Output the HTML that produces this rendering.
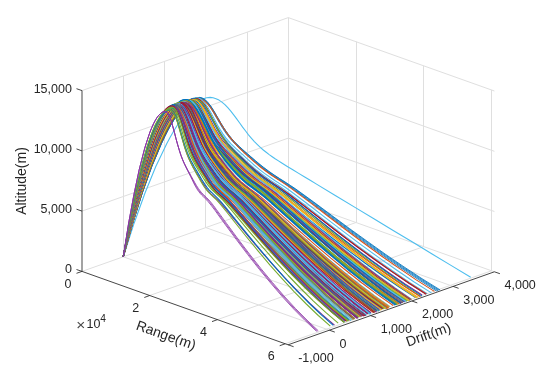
<!DOCTYPE html>
<html><head><meta charset="utf-8"><title>Trajectories</title>
<style>html,body{margin:0;padding:0;background:#fff}svg{display:block}</style></head>
<body>
<svg width="550" height="377" viewBox="0 0 550 377">
<rect width="550" height="377" fill="#fff"/>
<path d="M82.0,271.4 L288.3,198.4 M149.7,295.5 L356.0,222.5 M217.5,319.6 L423.8,246.6 M285.2,343.8 L491.5,270.8 M123.3,256.8 L329.4,330.2 M164.5,242.2 L370.6,315.6 M205.8,227.6 L411.9,301.0 M247.0,213.0 L453.1,286.4 M288.3,198.4 L494.4,271.8 M123.5,256.8 L123.5,76.0 M164.5,242.2 L164.5,61.4 M205.5,227.6 L205.5,46.8 M247.5,213.0 L247.5,32.2 M288.5,198.4 L288.5,17.6 M82.0,211.1 L288.3,138.1 M82.0,150.9 L288.3,77.9 M82.0,90.6 L288.3,17.6 M356.5,222.5 L356.5,41.7 M423.5,246.6 L423.5,65.8 M491.5,270.8 L491.5,90.0 M288.3,138.1 L494.4,211.5 M288.3,77.9 L494.4,151.3 M288.3,17.6 L494.4,91.0" fill="none" stroke="#dfdfdf" stroke-width="1"/>
<path d="M123.3,256.8 L134.1,223.2 L145.0,193.0 L155.8,166.5 L166.7,143.7 L170.3,137.0 L173.9,130.8 L177.5,125.0 L181.2,119.7 L184.8,114.9 L188.4,110.7 L192.0,106.9 L195.6,103.7 L199.3,101.1 L202.9,99.1 L206.5,97.8 L210.1,97.4 L213.1,97.8 L216.0,98.7 L219.0,100.1 L221.9,102.1 L224.9,104.6 L227.8,107.7 L230.8,111.1 L233.7,114.9 L236.7,118.9 L239.7,123.0 L242.6,127.1 L245.6,131.0 L248.5,134.8 L251.5,138.3 L254.4,141.6 L257.4,144.6 L260.3,147.4 L263.3,150.0 L266.2,152.3 L269.2,154.6 L272.2,156.7 L275.1,158.7 L278.1,160.6 L281.0,162.5 L286.9,166.2 L292.8,169.8 L298.7,173.4 L304.7,177.0 L310.6,180.5 L316.5,184.1 L335.7,195.8 L355.0,207.4 L374.3,219.0 L393.6,230.7 L412.9,242.3 L432.1,254.0 L451.4,265.6 L470.7,277.3" fill="none" stroke="#4DBEEE" stroke-width="1.1" stroke-linejoin="round"/>
<path d="M123.3,256.8 L132.8,222.9 L142.4,192.6 L152.0,165.9 L161.6,143.2 L164.7,136.5 L167.9,130.2 L171.1,124.5 L174.3,119.2 L177.5,114.4 L180.7,110.2 L183.9,106.5 L187.1,103.3 L190.3,100.8 L193.5,98.9 L196.7,97.7 L199.9,97.4 L202.5,98.1 L205.2,99.7 L207.8,102.3 L210.5,105.7 L213.2,109.8 L215.8,114.3 L218.5,118.9 L221.1,123.5 L223.8,127.9 L226.5,131.9 L229.1,135.5 L231.8,138.8 L234.4,141.7 L237.1,144.4 L239.8,146.9 L242.4,149.3 L245.1,151.7 L247.7,154.0 L250.4,156.3 L253.1,158.6 L255.7,160.9 L258.4,163.1 L261.0,165.3 L263.7,167.4 L269.0,171.4 L274.4,175.1 L279.7,178.6 L285.0,181.9 L290.3,185.4 L295.6,188.9 L313.7,202.0 L331.7,215.4 L349.8,228.8 L367.9,241.8 L385.9,254.6 L404.0,266.9 L422.0,278.7 L440.1,289.9" fill="none" stroke="#0072BD" stroke-width="0.85" stroke-linejoin="round"/>
<path d="M123.3,256.8 L132.8,223.0 L142.4,192.7 L151.9,166.1 L161.5,143.4 L164.7,136.7 L167.8,130.5 L171.0,124.7 L174.2,119.5 L177.4,114.7 L180.6,110.5 L183.8,106.8 L186.9,103.7 L190.1,101.1 L193.3,99.2 L196.5,98.0 L199.7,97.7 L202.3,98.4 L205.0,100.0 L207.6,102.4 L210.3,105.7 L212.9,109.6 L215.6,114.0 L218.2,118.6 L220.9,123.2 L223.5,127.5 L226.2,131.6 L228.8,135.2 L231.5,138.5 L234.1,141.5 L236.8,144.3 L239.4,146.8 L242.1,149.3 L244.7,151.7 L247.4,154.0 L250.0,156.3 L252.7,158.6 L255.3,160.9 L258.0,163.2 L260.6,165.4 L263.3,167.5 L268.6,171.5 L273.9,175.2 L279.2,178.6 L284.5,182.0 L289.8,185.5 L295.1,189.0 L313.1,202.1 L331.1,215.6 L349.1,229.0 L367.1,242.1 L385.1,254.9 L403.2,267.3 L421.2,279.1 L439.2,290.3" fill="none" stroke="#0072BD" stroke-width="0.85" stroke-linejoin="round"/>
<path d="M123.3,256.8 L132.8,223.0 L142.3,192.7 L151.8,166.1 L161.3,143.4 L164.5,136.7 L167.6,130.5 L170.8,124.7 L174.0,119.5 L177.2,114.7 L180.3,110.5 L183.5,106.8 L186.7,103.6 L189.8,101.1 L193.0,99.2 L196.2,98.0 L199.3,97.7 L202.0,98.4 L204.6,100.0 L207.3,102.5 L209.9,105.8 L212.6,109.8 L215.2,114.3 L217.8,118.9 L220.5,123.5 L223.1,127.9 L225.8,131.9 L228.4,135.6 L231.1,138.9 L233.7,141.8 L236.3,144.6 L239.0,147.1 L241.6,149.6 L244.3,151.9 L246.9,154.3 L249.6,156.6 L252.2,158.9 L254.8,161.2 L257.5,163.5 L260.1,165.7 L262.8,167.8 L268.0,171.8 L273.3,175.5 L278.6,178.9 L283.9,182.3 L289.2,185.8 L294.5,189.4 L312.4,202.5 L330.3,216.0 L348.3,229.4 L366.2,242.5 L384.1,255.3 L402.1,267.6 L420.0,279.4 L438.0,290.7" fill="none" stroke="#0072BD" stroke-width="0.85" stroke-linejoin="round"/>
<path d="M123.3,256.8 L132.7,223.0 L142.1,192.7 L151.6,166.1 L161.0,143.4 L164.1,136.7 L167.3,130.5 L170.4,124.8 L173.6,119.5 L176.7,114.8 L179.8,110.5 L183.0,106.8 L186.1,103.7 L189.3,101.2 L192.4,99.3 L195.6,98.1 L198.7,97.8 L201.3,98.5 L204.0,100.1 L206.6,102.5 L209.2,105.9 L211.9,109.8 L214.5,114.3 L217.1,118.9 L219.8,123.5 L222.4,127.8 L225.0,131.9 L227.7,135.5 L230.3,138.8 L232.9,141.8 L235.6,144.5 L238.2,147.1 L240.8,149.5 L243.5,151.9 L246.1,154.3 L248.7,156.6 L251.4,158.9 L254.0,161.2 L256.6,163.5 L259.3,165.7 L261.9,167.8 L267.2,171.8 L272.4,175.5 L277.7,179.0 L283.0,182.3 L288.2,185.8 L293.5,189.4 L311.4,202.6 L329.3,216.2 L347.2,229.6 L365.1,242.8 L383.0,255.6 L400.9,268.0 L418.8,279.8 L436.7,291.1" fill="none" stroke="#0072BD" stroke-width="0.85" stroke-linejoin="round"/>
<path d="M123.3,256.8 L132.6,223.0 L141.9,192.8 L151.2,166.3 L160.5,143.6 L163.6,136.9 L166.7,130.7 L169.8,125.0 L172.9,119.8 L176.0,115.0 L179.2,110.8 L182.3,107.1 L185.4,104.0 L188.5,101.5 L191.6,99.6 L194.7,98.4 L197.8,98.1 L200.4,98.7 L203.0,100.0 L205.7,102.0 L208.3,104.7 L210.9,108.0 L213.5,111.9 L216.1,116.1 L218.8,120.4 L221.4,124.7 L224.0,128.8 L226.6,132.7 L229.3,136.3 L231.9,139.7 L234.5,142.7 L237.1,145.6 L239.7,148.3 L242.4,150.9 L245.0,153.4 L247.6,155.8 L250.2,158.2 L252.9,160.6 L255.5,162.9 L258.1,165.1 L260.7,167.2 L266.0,171.3 L271.2,175.0 L276.5,178.5 L281.7,181.9 L287.0,185.4 L292.2,189.1 L310.0,202.4 L327.8,216.0 L345.5,229.5 L363.3,242.8 L381.1,255.7 L398.9,268.1 L416.6,280.1 L434.4,291.4" fill="none" stroke="#D95319" stroke-width="1.1" stroke-linejoin="round"/>
<path d="M123.3,256.8 L132.5,222.9 L141.7,192.6 L151.0,166.0 L160.2,143.2 L163.3,136.6 L166.4,130.3 L169.4,124.6 L172.5,119.3 L175.6,114.6 L178.7,110.4 L181.8,106.7 L184.8,103.5 L187.9,101.0 L191.0,99.1 L194.1,98.0 L197.2,97.7 L199.7,98.5 L202.3,100.3 L204.9,103.1 L207.5,106.8 L210.1,111.3 L212.7,116.1 L215.3,121.0 L217.9,125.7 L220.5,130.1 L223.1,134.1 L225.6,137.6 L228.2,140.7 L230.8,143.6 L233.4,146.2 L236.0,148.7 L238.6,151.0 L241.2,153.4 L243.8,155.7 L246.4,158.1 L248.9,160.4 L251.5,162.7 L254.1,165.0 L256.7,167.2 L259.3,169.4 L264.5,173.4 L269.7,177.0 L274.8,180.5 L280.0,183.9 L285.2,187.3 L290.4,191.0 L308.0,204.3 L325.6,217.9 L343.3,231.4 L360.9,244.6 L378.5,257.4 L396.2,269.8 L413.8,281.7 L431.4,292.9" fill="none" stroke="#4DBEEE" stroke-width="1.1" stroke-linejoin="round"/>
<path d="M123.3,256.8 L132.3,223.2 L141.3,193.2 L150.3,166.9 L159.3,144.3 L162.3,137.7 L165.3,131.6 L168.3,125.9 L171.3,120.7 L174.3,116.0 L177.3,111.8 L180.3,108.2 L183.3,105.1 L186.3,102.6 L189.3,100.7 L192.3,99.6 L195.3,99.3 L197.8,100.0 L200.4,101.5 L203.0,103.9 L205.5,107.1 L208.1,111.0 L210.7,115.3 L213.2,119.9 L215.8,124.5 L218.4,128.9 L220.9,133.1 L223.5,136.9 L226.1,140.3 L228.6,143.5 L231.2,146.4 L233.8,149.1 L236.3,151.6 L238.9,154.1 L241.4,156.5 L244.0,158.9 L246.6,161.3 L249.1,163.7 L251.7,165.9 L254.3,168.2 L256.8,170.3 L262.0,174.3 L267.1,177.9 L272.2,181.4 L277.4,184.8 L282.5,188.2 L287.6,191.9 L305.1,205.3 L322.6,218.9 L340.0,232.4 L357.5,245.6 L374.9,258.4 L392.4,270.8 L409.9,282.6 L427.3,293.8" fill="none" stroke="#4DBEEE" stroke-width="1.1" stroke-linejoin="round"/>
<path d="M123.3,256.8 L132.3,223.1 L141.4,192.9 L150.5,166.4 L159.6,143.8 L162.6,137.2 L165.7,131.0 L168.7,125.3 L171.7,120.0 L174.7,115.3 L177.8,111.1 L180.8,107.4 L183.8,104.3 L186.9,101.8 L189.9,100.0 L192.9,98.8 L196.0,98.6 L198.5,99.3 L201.1,101.1 L203.6,103.8 L206.2,107.5 L208.8,111.9 L211.3,116.7 L213.9,121.6 L216.4,126.5 L219.0,131.2 L221.6,135.5 L224.1,139.3 L226.7,142.8 L229.2,145.9 L231.8,148.7 L234.4,151.4 L236.9,153.9 L239.5,156.3 L242.0,158.7 L244.6,161.1 L247.2,163.5 L249.7,165.8 L252.3,168.1 L254.8,170.3 L257.4,172.4 L262.5,176.4 L267.6,180.0 L272.8,183.4 L277.9,186.7 L283.0,190.2 L288.1,193.8 L305.4,207.0 L322.7,220.4 L340.0,233.7 L357.3,246.6 L374.6,259.2 L391.9,271.4 L409.2,283.0 L426.5,293.9" fill="none" stroke="#D95319" stroke-width="1.1" stroke-linejoin="round"/>
<path d="M123.3,256.8 L132.5,223.1 L141.7,193.0 L150.9,166.6 L160.1,144.0 L163.1,137.4 L166.2,131.2 L169.3,125.5 L172.4,120.3 L175.4,115.6 L178.5,111.4 L181.6,107.7 L184.6,104.6 L187.7,102.1 L190.8,100.3 L193.8,99.2 L196.9,98.9 L199.5,99.7 L202.0,101.6 L204.6,104.6 L207.1,108.5 L209.7,113.2 L212.2,118.2 L214.8,123.3 L217.3,128.2 L219.9,132.7 L222.4,136.9 L225.0,140.5 L227.6,143.8 L230.1,146.7 L232.7,149.3 L235.2,151.9 L237.8,154.3 L240.3,156.7 L242.9,159.0 L245.4,161.4 L248.0,163.8 L250.5,166.1 L253.1,168.4 L255.7,170.6 L258.2,172.7 L263.3,176.7 L268.4,180.3 L273.5,183.8 L278.7,187.1 L283.8,190.6 L288.9,194.3 L306.0,207.4 L323.2,220.8 L340.3,234.0 L357.4,247.0 L374.6,259.5 L391.7,271.6 L408.8,283.2 L426.0,294.2" fill="none" stroke="#A2142F" stroke-width="1.1" stroke-linejoin="round"/>
<path d="M123.3,256.8 L132.2,223.2 L141.1,193.1 L150.0,166.7 L158.9,144.1 L161.9,137.5 L164.9,131.3 L167.8,125.6 L170.8,120.4 L173.8,115.7 L176.8,111.5 L179.7,107.9 L182.7,104.8 L185.7,102.3 L188.6,100.4 L191.6,99.3 L194.6,99.0 L197.1,99.9 L199.7,101.8 L202.2,104.8 L204.7,108.8 L207.2,113.4 L209.8,118.4 L212.3,123.4 L214.8,128.2 L217.4,132.6 L219.9,136.6 L222.4,140.1 L225.0,143.2 L227.5,146.0 L230.0,148.6 L232.6,151.1 L235.1,153.5 L237.6,155.9 L240.1,158.2 L242.7,160.6 L245.2,163.0 L247.7,165.4 L250.3,167.7 L252.8,169.9 L255.3,172.1 L260.4,176.1 L265.4,179.7 L270.5,183.1 L275.6,186.6 L280.6,190.1 L285.7,193.8 L302.7,207.2 L319.8,220.8 L336.8,234.2 L353.9,247.3 L370.9,260.0 L388.0,272.3 L405.0,284.0 L422.1,295.0" fill="none" stroke="#7E2F8E" stroke-width="1.1" stroke-linejoin="round"/>
<path d="M123.3,256.8 L132.2,223.1 L141.1,193.0 L150.1,166.5 L159.0,143.9 L162.0,137.3 L164.9,131.1 L167.9,125.4 L170.9,120.2 L173.9,115.5 L176.9,111.3 L179.8,107.7 L182.8,104.6 L185.8,102.1 L188.8,100.3 L191.7,99.1 L194.7,98.9 L197.2,99.6 L199.7,101.2 L202.3,103.7 L204.8,107.0 L207.3,111.1 L209.8,115.5 L212.3,120.2 L214.8,124.9 L217.3,129.4 L219.8,133.6 L222.4,137.4 L224.9,140.8 L227.4,143.9 L229.9,146.8 L232.4,149.5 L234.9,152.1 L237.4,154.6 L239.9,157.0 L242.4,159.5 L245.0,161.9 L247.5,164.3 L250.0,166.6 L252.5,168.9 L255.0,171.0 L260.0,175.1 L265.1,178.7 L270.1,182.2 L275.1,185.6 L280.1,189.2 L285.1,192.9 L302.3,206.6 L319.4,220.4 L336.5,234.1 L353.6,247.5 L370.7,260.4 L387.8,272.9 L404.9,284.9 L422.0,296.1" fill="none" stroke="#0072BD" stroke-width="1.1" stroke-linejoin="round"/>
<path d="M123.3,256.8 L132.3,223.2 L141.4,193.1 L150.5,166.8 L159.6,144.2 L162.6,137.6 L165.6,131.5 L168.7,125.8 L171.7,120.6 L174.7,115.9 L177.8,111.7 L180.8,108.1 L183.8,105.0 L186.8,102.6 L189.9,100.7 L192.9,99.6 L195.9,99.4 L198.4,100.1 L200.9,101.7 L203.4,104.2 L206.0,107.5 L208.5,111.5 L211.0,116.0 L213.5,120.8 L216.0,125.7 L218.5,130.4 L221.0,134.8 L223.5,138.9 L226.0,142.7 L228.5,146.1 L231.0,149.2 L233.6,152.1 L236.1,154.8 L238.6,157.4 L241.1,160.0 L243.6,162.5 L246.1,164.9 L248.6,167.3 L251.1,169.6 L253.6,171.9 L256.1,174.1 L261.1,178.1 L266.2,181.7 L271.2,185.1 L276.2,188.5 L281.2,192.1 L286.2,195.8 L303.0,209.1 L319.7,222.5 L336.5,235.8 L353.2,248.8 L370.0,261.4 L386.7,273.5 L403.5,285.1 L420.2,296.1" fill="none" stroke="#77AC30" stroke-width="1.1" stroke-linejoin="round"/>
<path d="M123.3,256.8 L132.0,223.3 L140.8,193.4 L149.5,167.1 L158.3,144.6 L161.2,138.0 L164.1,131.9 L167.0,126.2 L169.9,121.1 L172.8,116.4 L175.8,112.2 L178.7,108.6 L181.6,105.5 L184.5,103.1 L187.4,101.3 L190.3,100.1 L193.3,99.9 L195.7,100.6 L198.2,102.3 L200.7,104.9 L203.2,108.3 L205.7,112.5 L208.2,117.1 L210.7,122.0 L213.2,126.9 L215.7,131.6 L218.2,136.0 L220.7,140.0 L223.2,143.7 L225.7,147.0 L228.2,150.0 L230.7,152.8 L233.2,155.5 L235.7,158.0 L238.2,160.5 L240.7,163.0 L243.2,165.4 L245.7,167.7 L248.2,170.0 L250.7,172.2 L253.2,174.3 L258.2,178.2 L263.2,181.8 L268.2,185.1 L273.2,188.4 L278.2,191.9 L283.2,195.5 L300.4,208.9 L317.5,222.6 L334.7,236.0 L351.9,249.1 L369.0,261.8 L386.2,274.0 L403.4,285.7 L420.5,296.7" fill="none" stroke="#D95319" stroke-width="1.1" stroke-linejoin="round"/>
<path d="M123.3,256.8 L132.1,223.3 L140.9,193.3 L149.7,167.1 L158.6,144.6 L161.5,138.0 L164.4,131.9 L167.4,126.2 L170.3,121.1 L173.3,116.4 L176.2,112.2 L179.2,108.6 L182.1,105.6 L185.0,103.1 L188.0,101.3 L190.9,100.2 L193.9,100.0 L196.3,100.8 L198.8,102.7 L201.3,105.7 L203.8,109.6 L206.3,114.2 L208.7,119.2 L211.2,124.3 L213.7,129.3 L216.2,133.9 L218.7,138.0 L221.1,141.8 L223.6,145.1 L226.1,148.0 L228.6,150.8 L231.1,153.3 L233.5,155.8 L236.0,158.2 L238.5,160.7 L241.0,163.1 L243.5,165.5 L245.9,167.8 L248.4,170.1 L250.9,172.4 L253.4,174.5 L258.3,178.4 L263.3,182.0 L268.2,185.4 L273.2,188.7 L278.2,192.3 L283.1,196.0 L300.0,209.5 L316.9,223.2 L333.8,236.6 L350.8,249.8 L367.7,262.6 L384.6,274.8 L401.5,286.5 L418.4,297.5" fill="none" stroke="#EDB120" stroke-width="1.1" stroke-linejoin="round"/>
<path d="M123.3,256.8 L131.9,223.2 L140.6,193.2 L149.3,166.9 L157.9,144.4 L160.8,137.8 L163.7,131.6 L166.6,126.0 L169.5,120.8 L172.4,116.1 L175.3,111.9 L178.2,108.3 L181.1,105.2 L184.0,102.8 L186.8,100.9 L189.7,99.8 L192.6,99.6 L195.1,100.4 L197.6,102.2 L200.1,105.0 L202.6,108.8 L205.0,113.2 L207.5,118.1 L210.0,123.1 L212.5,128.0 L215.0,132.5 L217.4,136.6 L219.9,140.4 L222.4,143.7 L224.9,146.7 L227.4,149.4 L229.9,152.0 L232.3,154.5 L234.8,157.0 L237.3,159.5 L239.8,161.9 L242.3,164.3 L244.8,166.7 L247.2,169.1 L249.7,171.3 L252.2,173.5 L257.2,177.5 L262.1,181.1 L267.1,184.5 L272.1,187.9 L277.0,191.5 L282.0,195.3 L298.7,208.8 L315.5,222.5 L332.2,236.0 L348.9,249.2 L365.7,261.9 L382.4,274.2 L399.2,285.9 L415.9,297.0" fill="none" stroke="#EDB120" stroke-width="1.1" stroke-linejoin="round"/>
<path d="M123.3,256.8 L131.9,223.2 L140.6,193.1 L149.2,166.7 L157.9,144.2 L160.8,137.6 L163.7,131.5 L166.6,125.8 L169.5,120.6 L172.4,115.9 L175.2,111.7 L178.1,108.1 L181.0,105.0 L183.9,102.6 L186.8,100.7 L189.7,99.6 L192.6,99.4 L195.0,100.3 L197.5,102.5 L200.0,106.0 L202.5,110.5 L204.9,115.6 L207.4,121.1 L209.9,126.6 L212.3,131.7 L214.8,136.4 L217.3,140.6 L219.8,144.2 L222.2,147.4 L224.7,150.3 L227.2,152.9 L229.6,155.4 L232.1,157.8 L234.6,160.2 L237.1,162.6 L239.5,165.0 L242.0,167.3 L244.5,169.7 L247.0,172.0 L249.4,174.2 L251.9,176.3 L256.8,180.2 L261.8,183.7 L266.7,187.1 L271.7,190.4 L276.6,193.9 L281.6,197.6 L298.3,210.9 L315.1,224.4 L331.8,237.7 L348.5,250.6 L365.3,263.2 L382.0,275.2 L398.8,286.7 L415.5,297.5" fill="none" stroke="#0072BD" stroke-width="1.1" stroke-linejoin="round"/>
<path d="M123.3,256.8 L132.1,223.2 L140.9,193.1 L149.7,166.8 L158.6,144.2 L161.5,137.6 L164.4,131.5 L167.4,125.8 L170.3,120.6 L173.3,115.9 L176.2,111.8 L179.1,108.2 L182.1,105.1 L185.0,102.6 L188.0,100.8 L190.9,99.7 L193.8,99.5 L196.3,100.3 L198.8,102.1 L201.2,104.9 L203.7,108.6 L206.2,112.9 L208.6,117.7 L211.1,122.7 L213.6,127.5 L216.0,131.9 L218.5,136.0 L221.0,139.7 L223.4,143.0 L225.9,145.9 L228.4,148.6 L230.8,151.2 L233.3,153.7 L235.8,156.2 L238.2,158.7 L240.7,161.1 L243.2,163.6 L245.6,166.0 L248.1,168.3 L250.6,170.6 L253.0,172.7 L258.0,176.8 L262.9,180.4 L267.8,183.8 L272.8,187.3 L277.7,190.9 L282.6,194.7 L299.4,208.4 L316.2,222.4 L333.0,236.1 L349.8,249.4 L366.5,262.4 L383.3,274.9 L400.1,286.8 L416.9,298.0" fill="none" stroke="#EDB120" stroke-width="1.1" stroke-linejoin="round"/>
<path d="M123.3,256.8 L131.6,223.2 L140.0,193.2 L148.4,166.8 L156.8,144.3 L159.6,137.7 L162.4,131.6 L165.2,125.9 L168.0,120.7 L170.8,116.1 L173.6,111.9 L176.4,108.3 L179.2,105.2 L182.0,102.8 L184.8,100.9 L187.6,99.8 L190.4,99.6 L192.8,100.3 L195.2,101.8 L197.7,104.2 L200.1,107.3 L202.5,111.1 L205.0,115.5 L207.4,120.0 L209.8,124.6 L212.3,129.0 L214.7,133.2 L217.2,137.0 L219.6,140.5 L222.0,143.7 L224.5,146.6 L226.9,149.4 L229.3,152.0 L231.8,154.6 L234.2,157.2 L236.6,159.7 L239.1,162.2 L241.5,164.7 L243.9,167.0 L246.4,169.3 L248.8,171.5 L253.7,175.6 L258.5,179.2 L263.4,182.7 L268.3,186.2 L273.1,189.9 L278.0,193.7 L294.7,207.8 L311.4,222.0 L328.1,236.0 L344.8,249.7 L361.5,262.9 L378.2,275.6 L394.9,287.8 L411.5,299.2" fill="none" stroke="#4DBEEE" stroke-width="1.1" stroke-linejoin="round"/>
<path d="M123.3,256.8 L131.6,223.3 L140.0,193.3 L148.4,167.0 L156.8,144.5 L159.5,137.9 L162.3,131.8 L165.1,126.1 L167.9,120.9 L170.7,116.3 L173.5,112.1 L176.3,108.5 L179.1,105.5 L181.9,103.0 L184.7,101.2 L187.5,100.1 L190.2,99.9 L192.7,100.8 L195.1,102.8 L197.5,106.1 L200.0,110.3 L202.4,115.1 L204.8,120.2 L207.2,125.3 L209.7,130.1 L212.1,134.4 L214.5,138.3 L216.9,141.6 L219.4,144.6 L221.8,147.3 L224.2,149.8 L226.7,152.3 L229.1,154.7 L231.5,157.1 L233.9,159.6 L236.4,162.0 L238.8,164.4 L241.2,166.8 L243.6,169.2 L246.1,171.4 L248.5,173.6 L253.4,177.5 L258.2,181.1 L263.1,184.5 L267.9,188.0 L272.8,191.6 L277.6,195.4 L294.4,209.3 L311.1,223.4 L327.9,237.3 L344.6,250.8 L361.4,263.8 L378.1,276.4 L394.9,288.4 L411.6,299.6" fill="none" stroke="#EDB120" stroke-width="1.1" stroke-linejoin="round"/>
<path d="M123.3,256.8 L131.7,223.4 L140.2,193.6 L148.6,167.4 L157.1,145.1 L159.9,138.5 L162.7,132.4 L165.5,126.8 L168.3,121.7 L171.1,117.0 L174.0,112.9 L176.8,109.3 L179.6,106.3 L182.4,103.8 L185.2,102.0 L188.1,100.9 L190.9,100.7 L193.3,101.5 L195.7,103.2 L198.2,106.0 L200.6,109.6 L203.0,113.9 L205.4,118.6 L207.9,123.4 L210.3,128.1 L212.7,132.5 L215.1,136.5 L217.6,140.2 L220.0,143.4 L222.4,146.3 L224.8,149.1 L227.3,151.7 L229.7,154.2 L232.1,156.7 L234.6,159.1 L237.0,161.6 L239.4,164.1 L241.8,166.5 L244.3,168.9 L246.7,171.2 L249.1,173.3 L254.0,177.3 L258.8,180.9 L263.7,184.4 L268.5,187.8 L273.4,191.5 L278.2,195.3 L294.9,209.3 L311.5,223.3 L328.1,237.2 L344.7,250.7 L361.3,263.8 L378.0,276.3 L394.6,288.3 L411.2,299.6" fill="none" stroke="#7E2F8E" stroke-width="1.1" stroke-linejoin="round"/>
<path d="M123.3,256.8 L131.7,223.2 L140.2,193.1 L148.6,166.7 L157.1,144.2 L159.9,137.6 L162.7,131.5 L165.5,125.8 L168.3,120.6 L171.2,116.0 L174.0,111.8 L176.8,108.2 L179.6,105.1 L182.4,102.7 L185.3,100.8 L188.1,99.7 L190.9,99.5 L193.3,100.4 L195.7,102.5 L198.2,105.6 L200.6,109.7 L203.0,114.6 L205.4,119.8 L207.8,125.0 L210.3,130.0 L212.7,134.6 L215.1,138.8 L217.5,142.4 L220.0,145.7 L222.4,148.6 L224.8,151.3 L227.2,153.9 L229.6,156.4 L232.1,158.8 L234.5,161.3 L236.9,163.8 L239.3,166.2 L241.8,168.6 L244.2,171.0 L246.6,173.2 L249.0,175.4 L253.9,179.3 L258.7,182.9 L263.6,186.3 L268.4,189.7 L273.3,193.3 L278.1,197.1 L294.6,210.9 L311.1,224.7 L327.6,238.3 L344.1,251.6 L360.6,264.5 L377.1,276.9 L393.6,288.6 L410.1,299.7" fill="none" stroke="#D95319" stroke-width="1.1" stroke-linejoin="round"/>
<path d="M123.3,256.8 L131.6,223.3 L140.0,193.3 L148.4,167.0 L156.8,144.6 L159.6,138.0 L162.4,131.8 L165.2,126.2 L168.0,121.0 L170.8,116.4 L173.6,112.2 L176.4,108.6 L179.2,105.6 L182.0,103.1 L184.8,101.3 L187.6,100.2 L190.4,100.0 L192.8,100.8 L195.2,102.5 L197.6,105.2 L200.0,108.8 L202.5,113.1 L204.9,117.9 L207.3,122.8 L209.7,127.8 L212.1,132.5 L214.5,136.9 L217.0,140.9 L219.4,144.4 L221.8,147.7 L224.2,150.7 L226.6,153.4 L229.1,156.1 L231.5,158.7 L233.9,161.2 L236.3,163.7 L238.7,166.2 L241.2,168.6 L243.6,171.0 L246.0,173.2 L248.4,175.4 L253.3,179.3 L258.1,182.9 L262.9,186.2 L267.8,189.7 L272.6,193.3 L277.5,197.1 L294.0,210.9 L310.5,224.8 L327.0,238.4 L343.5,251.7 L360.0,264.6 L376.5,276.9 L393.0,288.7 L409.6,299.8" fill="none" stroke="#A2142F" stroke-width="1.1" stroke-linejoin="round"/>
<path d="M123.3,256.8 L131.7,223.5 L140.1,193.8 L148.6,167.7 L157.0,145.4 L159.8,138.8 L162.6,132.8 L165.4,127.2 L168.2,122.0 L171.0,117.4 L173.8,113.3 L176.7,109.7 L179.5,106.7 L182.3,104.3 L185.1,102.5 L187.9,101.4 L190.7,101.2 L193.1,102.1 L195.5,104.0 L197.9,106.9 L200.4,110.8 L202.8,115.3 L205.2,120.3 L207.6,125.4 L210.0,130.4 L212.4,135.1 L214.8,139.4 L217.2,143.2 L219.6,146.6 L222.0,149.7 L224.5,152.5 L226.9,155.2 L229.3,157.7 L231.7,160.2 L234.1,162.7 L236.5,165.2 L238.9,167.6 L241.3,170.0 L243.7,172.3 L246.1,174.6 L248.6,176.7 L253.4,180.6 L258.2,184.1 L263.0,187.4 L267.8,190.8 L272.7,194.4 L277.5,198.2 L294.0,211.9 L310.6,225.7 L327.2,239.3 L343.7,252.6 L360.3,265.4 L376.8,277.7 L393.4,289.4 L410.0,300.4" fill="none" stroke="#0072BD" stroke-width="1.1" stroke-linejoin="round"/>
<path d="M123.3,256.8 L131.5,223.5 L139.8,193.8 L148.0,167.7 L156.3,145.4 L159.0,138.9 L161.8,132.8 L164.5,127.2 L167.3,122.0 L170.0,117.4 L172.8,113.3 L175.5,109.7 L178.3,106.7 L181.0,104.3 L183.8,102.5 L186.5,101.4 L189.3,101.2 L191.7,102.0 L194.1,103.7 L196.5,106.3 L198.9,109.9 L201.3,114.1 L203.7,118.7 L206.1,123.6 L208.5,128.4 L211.0,132.9 L213.4,137.1 L215.8,140.9 L218.2,144.4 L220.6,147.5 L223.0,150.3 L225.4,153.0 L227.8,155.6 L230.2,158.1 L232.6,160.6 L235.0,163.1 L237.4,165.6 L239.8,168.0 L242.2,170.3 L244.7,172.6 L247.1,174.7 L251.9,178.6 L256.7,182.2 L261.5,185.5 L266.3,188.9 L271.1,192.5 L276.0,196.4 L292.7,210.3 L309.4,224.4 L326.1,238.3 L342.8,251.8 L359.5,264.8 L376.2,277.4 L392.9,289.3 L409.6,300.5" fill="none" stroke="#EDB120" stroke-width="1.1" stroke-linejoin="round"/>
<path d="M123.3,256.8 L131.5,223.5 L139.7,193.8 L147.9,167.6 L156.2,145.4 L158.9,138.8 L161.7,132.7 L164.4,127.1 L167.1,122.0 L169.9,117.4 L172.6,113.3 L175.4,109.7 L178.1,106.7 L180.9,104.2 L183.6,102.4 L186.3,101.4 L189.1,101.1 L191.5,101.9 L193.9,103.5 L196.3,106.1 L198.7,109.4 L201.1,113.5 L203.5,118.0 L205.9,122.7 L208.3,127.4 L210.7,132.0 L213.1,136.2 L215.5,140.1 L217.9,143.6 L220.3,146.8 L222.7,149.7 L225.1,152.5 L227.5,155.1 L229.9,157.7 L232.3,160.2 L234.7,162.8 L237.1,165.2 L239.5,167.7 L241.9,170.0 L244.3,172.3 L246.7,174.4 L251.5,178.3 L256.3,181.9 L261.1,185.2 L265.9,188.7 L270.7,192.3 L275.5,196.1 L292.2,210.2 L308.9,224.4 L325.6,238.3 L342.3,251.9 L359.0,265.0 L375.7,277.6 L392.4,289.6 L409.1,300.9" fill="none" stroke="#EDB120" stroke-width="1.1" stroke-linejoin="round"/>
<path d="M123.3,256.8 L131.7,223.3 L140.0,193.3 L148.4,167.0 L156.8,144.6 L159.6,138.0 L162.4,131.9 L165.2,126.2 L168.0,121.1 L170.8,116.4 L173.6,112.3 L176.4,108.7 L179.2,105.6 L182.0,103.2 L184.8,101.4 L187.6,100.3 L190.4,100.1 L192.8,100.9 L195.2,102.8 L197.6,105.8 L200.0,109.6 L202.4,114.2 L204.8,119.2 L207.2,124.4 L209.6,129.5 L211.9,134.3 L214.3,138.8 L216.7,142.7 L219.1,146.3 L221.5,149.5 L223.9,152.4 L226.3,155.2 L228.7,157.8 L231.1,160.4 L233.5,162.9 L235.9,165.4 L238.3,167.8 L240.7,170.3 L243.1,172.6 L245.5,174.9 L247.9,177.0 L252.7,180.9 L257.5,184.4 L262.3,187.8 L267.1,191.2 L271.9,194.8 L276.6,198.6 L293.0,212.4 L309.4,226.2 L325.8,239.8 L342.1,253.1 L358.5,265.9 L374.9,278.2 L391.3,289.9 L407.6,300.9" fill="none" stroke="#77AC30" stroke-width="1.1" stroke-linejoin="round"/>
<path d="M123.3,256.8 L131.6,223.3 L140.0,193.3 L148.4,167.0 L156.8,144.5 L159.6,137.9 L162.4,131.8 L165.2,126.2 L168.0,121.0 L170.8,116.3 L173.6,112.2 L176.4,108.6 L179.2,105.6 L182.0,103.1 L184.8,101.3 L187.6,100.3 L190.4,100.0 L192.7,100.9 L195.1,102.9 L197.5,106.0 L199.9,110.0 L202.3,114.8 L204.7,120.0 L207.1,125.3 L209.5,130.4 L211.9,135.3 L214.2,139.7 L216.6,143.6 L219.0,147.1 L221.4,150.3 L223.8,153.2 L226.2,155.9 L228.6,158.4 L231.0,161.0 L233.4,163.5 L235.8,166.0 L238.1,168.4 L240.5,170.8 L242.9,173.2 L245.3,175.4 L247.7,177.6 L252.5,181.5 L257.3,185.0 L262.0,188.3 L266.8,191.7 L271.6,195.3 L276.4,199.1 L292.7,212.9 L309.0,226.7 L325.3,240.3 L341.7,253.5 L358.0,266.3 L374.3,278.6 L390.6,290.2 L406.9,301.2" fill="none" stroke="#77AC30" stroke-width="1.1" stroke-linejoin="round"/>
<path d="M123.3,256.8 L131.3,223.3 L139.4,193.3 L147.4,167.0 L155.5,144.6 L158.1,138.0 L160.8,131.8 L163.5,126.2 L166.2,121.0 L168.9,116.4 L171.6,112.2 L174.2,108.6 L176.9,105.6 L179.6,103.1 L182.3,101.3 L185.0,100.2 L187.7,100.0 L190.0,100.7 L192.4,102.3 L194.8,104.6 L197.2,107.7 L199.6,111.6 L202.0,115.9 L204.4,120.5 L206.7,125.3 L209.1,130.0 L211.5,134.4 L213.9,138.6 L216.3,142.4 L218.7,146.0 L221.0,149.2 L223.4,152.2 L225.8,155.1 L228.2,157.8 L230.6,160.5 L233.0,163.1 L235.4,165.6 L237.7,168.1 L240.1,170.4 L242.5,172.7 L244.9,174.8 L249.7,178.8 L254.4,182.3 L259.2,185.7 L264.0,189.1 L268.7,192.8 L273.5,196.6 L290.1,210.7 L306.7,224.9 L323.2,238.8 L339.8,252.4 L356.4,265.5 L373.0,278.1 L389.5,290.1 L406.1,301.4" fill="none" stroke="#4DBEEE" stroke-width="1.1" stroke-linejoin="round"/>
<path d="M123.3,256.8 L131.4,223.3 L139.5,193.4 L147.7,167.2 L155.8,144.8 L158.5,138.2 L161.2,132.1 L163.9,126.4 L166.6,121.3 L169.3,116.6 L172.1,112.5 L174.8,108.9 L177.5,105.9 L180.2,103.4 L182.9,101.6 L185.6,100.6 L188.3,100.3 L190.7,101.1 L193.1,102.7 L195.5,105.1 L197.8,108.4 L200.2,112.4 L202.6,116.8 L205.0,121.6 L207.3,126.4 L209.7,131.1 L212.1,135.6 L214.5,139.8 L216.8,143.6 L219.2,147.1 L221.6,150.3 L224.0,153.3 L226.4,156.1 L228.7,158.8 L231.1,161.5 L233.5,164.1 L235.9,166.6 L238.2,169.0 L240.6,171.4 L243.0,173.7 L245.4,175.8 L250.1,179.7 L254.9,183.3 L259.6,186.6 L264.4,190.1 L269.1,193.7 L273.9,197.5 L290.4,211.6 L306.8,225.7 L323.3,239.6 L339.8,253.1 L356.2,266.1 L372.7,278.6 L389.2,290.5 L405.6,301.7" fill="none" stroke="#4DBEEE" stroke-width="1.1" stroke-linejoin="round"/>
<path d="M123.3,256.8 L131.3,223.3 L139.4,193.3 L147.5,167.0 L155.5,144.6 L158.2,138.0 L160.9,131.8 L163.6,126.2 L166.3,121.0 L169.0,116.4 L171.7,112.2 L174.4,108.6 L177.1,105.6 L179.7,103.1 L182.4,101.3 L185.1,100.3 L187.8,100.1 L190.2,100.8 L192.6,102.4 L194.9,104.9 L197.3,108.2 L199.7,112.2 L202.0,116.7 L204.4,121.5 L206.8,126.3 L209.2,131.0 L211.5,135.5 L213.9,139.7 L216.3,143.5 L218.6,147.0 L221.0,150.2 L223.4,153.1 L225.8,156.0 L228.1,158.7 L230.5,161.3 L232.9,163.9 L235.2,166.4 L237.6,168.9 L240.0,171.3 L242.3,173.5 L244.7,175.7 L249.5,179.6 L254.2,183.1 L258.9,186.5 L263.7,189.9 L268.4,193.6 L273.2,197.4 L289.6,211.5 L306.0,225.7 L322.5,239.6 L338.9,253.1 L355.4,266.2 L371.8,278.8 L388.2,290.7 L404.7,301.9" fill="none" stroke="#4DBEEE" stroke-width="1.1" stroke-linejoin="round"/>
<path d="M123.3,256.8 L131.5,223.4 L139.8,193.6 L148.1,167.5 L156.3,145.2 L159.1,138.6 L161.8,132.5 L164.6,126.9 L167.3,121.8 L170.1,117.2 L172.9,113.1 L175.6,109.5 L178.4,106.5 L181.1,104.0 L183.9,102.3 L186.6,101.2 L189.4,101.0 L191.8,101.8 L194.1,103.4 L196.5,105.9 L198.9,109.3 L201.2,113.3 L203.6,117.9 L206.0,122.8 L208.4,127.8 L210.7,132.7 L213.1,137.3 L215.5,141.6 L217.8,145.6 L220.2,149.2 L222.6,152.6 L224.9,155.6 L227.3,158.5 L229.7,161.3 L232.1,164.0 L234.4,166.6 L236.8,169.1 L239.2,171.6 L241.5,174.0 L243.9,176.2 L246.3,178.4 L251.0,182.2 L255.8,185.7 L260.5,189.0 L265.2,192.5 L270.0,196.1 L274.7,199.9 L291.0,213.7 L307.2,227.5 L323.4,241.1 L339.7,254.4 L355.9,267.1 L372.2,279.4 L388.4,291.1 L404.6,302.0" fill="none" stroke="#7E2F8E" stroke-width="1.1" stroke-linejoin="round"/>
<path d="M123.3,256.8 L131.5,223.4 L139.8,193.6 L148.0,167.4 L156.3,145.1 L159.1,138.5 L161.8,132.4 L164.6,126.8 L167.3,121.7 L170.1,117.1 L172.8,112.9 L175.6,109.4 L178.3,106.3 L181.1,103.9 L183.8,102.1 L186.6,101.1 L189.3,100.9 L191.7,101.6 L194.1,103.2 L196.5,105.6 L198.8,108.8 L201.2,112.7 L203.6,117.1 L205.9,121.8 L208.3,126.5 L210.7,131.1 L213.1,135.5 L215.4,139.6 L217.8,143.3 L220.2,146.7 L222.6,149.8 L224.9,152.7 L227.3,155.5 L229.7,158.2 L232.1,160.8 L234.4,163.4 L236.8,166.0 L239.2,168.5 L241.5,170.9 L243.9,173.2 L246.3,175.4 L251.0,179.4 L255.8,183.0 L260.5,186.4 L265.3,189.9 L270.0,193.7 L274.8,197.6 L290.9,211.6 L307.0,225.7 L323.1,239.5 L339.2,253.0 L355.3,266.0 L371.4,278.5 L387.5,290.5 L403.6,301.7" fill="none" stroke="#0072BD" stroke-width="1.1" stroke-linejoin="round"/>
<path d="M123.3,256.8 L131.5,223.4 L139.7,193.6 L147.9,167.5 L156.1,145.1 L158.9,138.6 L161.6,132.5 L164.4,126.9 L167.1,121.8 L169.9,117.1 L172.6,113.0 L175.3,109.4 L178.1,106.4 L180.8,104.0 L183.6,102.2 L186.3,101.2 L189.0,101.0 L191.4,101.7 L193.8,103.2 L196.1,105.5 L198.5,108.7 L200.9,112.5 L203.2,116.8 L205.6,121.5 L208.0,126.2 L210.3,130.8 L212.7,135.2 L215.1,139.4 L217.4,143.1 L219.8,146.6 L222.2,149.8 L224.5,152.8 L226.9,155.6 L229.3,158.4 L231.6,161.0 L234.0,163.7 L236.4,166.2 L238.7,168.7 L241.1,171.1 L243.5,173.5 L245.8,175.6 L250.6,179.6 L255.3,183.2 L260.0,186.6 L264.8,190.2 L269.5,193.9 L274.2,197.8 L290.3,211.9 L306.4,226.0 L322.4,239.8 L338.5,253.3 L354.5,266.3 L370.6,278.8 L386.7,290.7 L402.7,301.9" fill="none" stroke="#0072BD" stroke-width="1.1" stroke-linejoin="round"/>
<path d="M123.3,256.8 L131.5,223.6 L139.8,193.9 L148.1,167.8 L156.4,145.6 L159.2,139.1 L161.9,133.0 L164.7,127.4 L167.5,122.3 L170.2,117.7 L173.0,113.6 L175.8,110.0 L178.5,107.0 L181.3,104.6 L184.0,102.9 L186.8,101.8 L189.6,101.6 L191.9,102.5 L194.3,104.5 L196.7,107.6 L199.0,111.7 L201.4,116.5 L203.7,121.7 L206.1,126.9 L208.5,132.0 L210.8,136.8 L213.2,141.1 L215.6,144.9 L217.9,148.3 L220.3,151.4 L222.6,154.2 L225.0,156.9 L227.4,159.4 L229.7,162.0 L232.1,164.5 L234.5,167.0 L236.8,169.5 L239.2,171.9 L241.5,174.3 L243.9,176.5 L246.3,178.7 L251.0,182.5 L255.7,186.0 L260.4,189.4 L265.2,192.8 L269.9,196.5 L274.6,200.4 L290.7,214.1 L306.7,227.9 L322.7,241.5 L338.8,254.7 L354.8,267.4 L370.9,279.7 L386.9,291.3 L403.0,302.2" fill="none" stroke="#D95319" stroke-width="1.1" stroke-linejoin="round"/>
<path d="M123.3,256.8 L131.5,223.3 L139.8,193.4 L148.0,167.2 L156.3,144.8 L159.0,138.2 L161.8,132.1 L164.5,126.5 L167.3,121.3 L170.0,116.7 L172.8,112.6 L175.6,109.0 L178.3,106.0 L181.1,103.5 L183.8,101.7 L186.6,100.7 L189.3,100.5 L191.7,101.4 L194.0,103.3 L196.4,106.4 L198.8,110.4 L201.1,115.2 L203.5,120.3 L205.9,125.5 L208.2,130.6 L210.6,135.3 L213.0,139.5 L215.3,143.3 L217.7,146.7 L220.0,149.7 L222.4,152.5 L224.8,155.1 L227.1,157.7 L229.5,160.3 L231.9,162.8 L234.2,165.3 L236.6,167.8 L239.0,170.3 L241.3,172.7 L243.7,175.0 L246.1,177.1 L250.8,181.1 L255.5,184.6 L260.2,188.0 L265.0,191.5 L269.7,195.2 L274.4,199.2 L290.4,213.1 L306.4,227.0 L322.4,240.6 L338.3,254.0 L354.3,266.8 L370.3,279.2 L386.3,290.9 L402.3,302.0" fill="none" stroke="#4DBEEE" stroke-width="1.1" stroke-linejoin="round"/>
<path d="M123.3,256.8 L131.4,223.4 L139.6,193.5 L147.8,167.3 L156.0,144.9 L158.7,138.4 L161.4,132.3 L164.1,126.6 L166.9,121.5 L169.6,116.9 L172.3,112.7 L175.0,109.2 L177.8,106.1 L180.5,103.7 L183.2,101.9 L185.9,100.9 L188.7,100.7 L191.0,101.5 L193.4,103.3 L195.7,106.0 L198.1,109.7 L200.4,114.0 L202.8,118.9 L205.2,123.9 L207.5,128.9 L209.9,133.7 L212.2,138.1 L214.6,142.2 L216.9,145.8 L219.3,149.1 L221.7,152.1 L224.0,154.9 L226.4,157.6 L228.7,160.3 L231.1,162.8 L233.5,165.4 L235.8,167.9 L238.2,170.4 L240.5,172.7 L242.9,175.0 L245.2,177.2 L250.0,181.1 L254.7,184.6 L259.4,188.0 L264.1,191.4 L268.8,195.1 L273.5,199.0 L289.7,213.0 L305.8,227.0 L322.0,240.8 L338.1,254.2 L354.3,267.1 L370.4,279.5 L386.5,291.3 L402.7,302.4" fill="none" stroke="#77AC30" stroke-width="1.1" stroke-linejoin="round"/>
<path d="M123.3,256.8 L131.6,223.6 L139.9,193.9 L148.2,167.9 L156.5,145.7 L159.2,139.2 L162.0,133.2 L164.8,127.6 L167.5,122.5 L170.3,117.9 L173.1,113.8 L175.8,110.3 L178.6,107.3 L181.3,104.9 L184.1,103.1 L186.9,102.0 L189.6,101.9 L192.0,102.7 L194.4,104.5 L196.7,107.4 L199.1,111.1 L201.4,115.6 L203.8,120.4 L206.1,125.4 L208.5,130.3 L210.9,134.8 L213.2,138.9 L215.6,142.6 L217.9,145.9 L220.3,148.9 L222.6,151.7 L225.0,154.3 L227.4,156.9 L229.7,159.4 L232.1,162.0 L234.4,164.5 L236.8,167.0 L239.1,169.5 L241.5,171.9 L243.8,174.2 L246.2,176.4 L250.9,180.3 L255.6,183.9 L260.3,187.3 L265.1,190.9 L269.8,194.6 L274.5,198.5 L290.5,212.6 L306.5,226.7 L322.5,240.5 L338.5,253.9 L354.5,266.9 L370.6,279.4 L386.6,291.3 L402.6,302.5" fill="none" stroke="#7E2F8E" stroke-width="1.1" stroke-linejoin="round"/>
<path d="M123.3,256.8 L131.5,223.6 L139.7,193.9 L147.9,167.9 L156.1,145.7 L158.8,139.2 L161.6,133.1 L164.3,127.6 L167.0,122.5 L169.8,117.9 L172.5,113.8 L175.2,110.2 L178.0,107.2 L180.7,104.8 L183.5,103.1 L186.2,102.0 L188.9,101.8 L191.3,102.7 L193.6,104.6 L196.0,107.6 L198.4,111.6 L200.7,116.2 L203.1,121.3 L205.4,126.5 L207.8,131.6 L210.1,136.3 L212.5,140.7 L214.8,144.5 L217.2,148.0 L219.6,151.1 L221.9,153.9 L224.3,156.6 L226.6,159.2 L229.0,161.7 L231.3,164.3 L233.7,166.8 L236.1,169.3 L238.4,171.7 L240.8,174.1 L243.1,176.3 L245.5,178.5 L250.2,182.4 L254.9,185.9 L259.6,189.2 L264.3,192.7 L269.0,196.3 L273.7,200.2 L289.8,214.1 L305.8,227.9 L321.9,241.5 L337.9,254.8 L353.9,267.6 L370.0,279.8 L386.0,291.5 L402.0,302.4" fill="none" stroke="#D95319" stroke-width="1.1" stroke-linejoin="round"/>
<path d="M123.3,256.8 L131.4,223.3 L139.5,193.4 L147.6,167.2 L155.8,144.8 L158.5,138.2 L161.2,132.1 L163.9,126.4 L166.6,121.3 L169.3,116.7 L172.0,112.5 L174.7,108.9 L177.4,105.9 L180.1,103.5 L182.9,101.7 L185.6,100.6 L188.3,100.4 L190.6,101.2 L193.0,103.0 L195.3,105.8 L197.7,109.4 L200.1,113.8 L202.4,118.6 L204.8,123.6 L207.1,128.5 L209.5,133.2 L211.8,137.5 L214.2,141.4 L216.6,144.9 L218.9,148.0 L221.3,150.9 L223.6,153.7 L226.0,156.3 L228.3,158.9 L230.7,161.5 L233.1,164.1 L235.4,166.6 L237.8,169.1 L240.1,171.5 L242.5,173.8 L244.9,175.9 L249.6,179.9 L254.3,183.5 L259.0,186.9 L263.7,190.4 L268.4,194.2 L273.1,198.1 L289.2,212.2 L305.2,226.3 L321.3,240.1 L337.3,253.6 L353.4,266.7 L369.4,279.2 L385.5,291.1 L401.5,302.3" fill="none" stroke="#4DBEEE" stroke-width="1.1" stroke-linejoin="round"/>
<path d="M123.3,256.8 L131.4,223.4 L139.5,193.6 L147.7,167.5 L155.8,145.1 L158.5,138.6 L161.2,132.5 L163.9,126.9 L166.6,121.8 L169.3,117.1 L172.0,113.0 L174.8,109.5 L177.5,106.5 L180.2,104.0 L182.9,102.3 L185.6,101.2 L188.3,101.0 L190.7,101.8 L193.0,103.6 L195.4,106.2 L197.7,109.8 L200.1,114.1 L202.4,118.9 L204.8,123.8 L207.1,128.8 L209.5,133.6 L211.8,138.0 L214.2,142.1 L216.5,145.8 L218.9,149.1 L221.2,152.2 L223.6,155.0 L225.9,157.7 L228.3,160.4 L230.6,163.0 L233.0,165.5 L235.3,168.1 L237.7,170.5 L240.0,172.9 L242.4,175.2 L244.7,177.3 L249.4,181.2 L254.1,184.7 L258.8,188.1 L263.5,191.6 L268.2,195.3 L272.9,199.1 L289.1,213.2 L305.2,227.2 L321.4,241.0 L337.5,254.4 L353.6,267.4 L369.8,279.8 L385.9,291.7 L402.0,302.8" fill="none" stroke="#77AC30" stroke-width="1.1" stroke-linejoin="round"/>
<path d="M123.3,256.8 L131.5,223.6 L139.8,193.9 L148.1,167.8 L156.3,145.6 L159.1,139.1 L161.8,133.1 L164.6,127.5 L167.3,122.4 L170.1,117.8 L172.8,113.7 L175.6,110.1 L178.4,107.2 L181.1,104.8 L183.9,103.0 L186.6,101.9 L189.4,101.8 L191.7,102.6 L194.1,104.6 L196.4,107.6 L198.8,111.6 L201.1,116.3 L203.5,121.3 L205.8,126.4 L208.2,131.4 L210.5,136.0 L212.9,140.2 L215.2,143.9 L217.6,147.1 L219.9,150.1 L222.3,152.9 L224.6,155.5 L227.0,158.1 L229.3,160.6 L231.7,163.1 L234.0,165.7 L236.4,168.2 L238.7,170.6 L241.1,173.0 L243.4,175.3 L245.8,177.5 L250.5,181.4 L255.2,184.9 L259.9,188.3 L264.6,191.8 L269.3,195.5 L274.0,199.5 L290.0,213.4 L305.9,227.4 L321.9,241.2 L337.9,254.6 L353.9,267.5 L369.9,279.9 L385.8,291.7 L401.8,302.8" fill="none" stroke="#7E2F8E" stroke-width="1.1" stroke-linejoin="round"/>
<path d="M123.3,256.8 L131.5,223.3 L139.7,193.3 L147.9,167.1 L156.1,144.7 L158.8,138.1 L161.6,132.0 L164.3,126.3 L167.0,121.2 L169.8,116.6 L172.5,112.4 L175.3,108.8 L178.0,105.8 L180.7,103.4 L183.5,101.6 L186.2,100.5 L188.9,100.3 L191.3,101.2 L193.6,103.1 L196.0,106.1 L198.3,110.0 L200.7,114.7 L203.0,119.7 L205.4,124.9 L207.8,130.0 L210.1,134.7 L212.5,139.0 L214.8,142.9 L217.2,146.3 L219.5,149.4 L221.9,152.3 L224.2,155.0 L226.6,157.6 L228.9,160.2 L231.3,162.8 L233.6,165.3 L236.0,167.8 L238.3,170.3 L240.7,172.7 L243.0,175.0 L245.4,177.2 L250.1,181.1 L254.8,184.7 L259.5,188.1 L264.2,191.7 L268.9,195.4 L273.6,199.3 L289.5,213.3 L305.3,227.3 L321.2,241.0 L337.0,254.3 L352.9,267.2 L368.8,279.6 L384.6,291.4 L400.5,302.4" fill="none" stroke="#4DBEEE" stroke-width="1.1" stroke-linejoin="round"/>
<path d="M123.3,256.8 L131.1,223.1 L138.9,193.1 L146.7,166.7 L154.6,144.1 L157.2,137.5 L159.8,131.4 L162.4,125.7 L165.0,120.5 L167.6,115.9 L170.2,111.7 L172.8,108.1 L175.5,105.0 L178.1,102.6 L180.7,100.8 L183.3,99.7 L185.9,99.5 L188.2,100.3 L190.6,102.0 L192.9,104.8 L195.3,108.3 L197.6,112.6 L199.9,117.3 L202.3,122.2 L204.6,126.9 L207.0,131.4 L209.3,135.5 L211.7,139.2 L214.0,142.6 L216.3,145.6 L218.7,148.4 L221.0,151.1 L223.4,153.7 L225.7,156.2 L228.1,158.8 L230.4,161.4 L232.7,163.9 L235.1,166.4 L237.4,168.8 L239.8,171.1 L242.1,173.3 L246.8,177.2 L251.5,180.8 L256.2,184.2 L260.8,187.8 L265.5,191.5 L270.2,195.5 L286.6,210.1 L303.0,224.7 L319.3,239.0 L335.7,252.9 L352.1,266.4 L368.5,279.3 L384.9,291.6 L401.2,303.1" fill="none" stroke="#0072BD" stroke-width="1.1" stroke-linejoin="round"/>
<path d="M123.3,256.8 L131.1,223.5 L139.0,193.7 L146.8,167.5 L154.7,145.2 L157.3,138.7 L159.9,132.6 L162.6,127.0 L165.2,121.9 L167.8,117.3 L170.4,113.1 L173.1,109.6 L175.7,106.6 L178.3,104.1 L180.9,102.4 L183.5,101.3 L186.2,101.1 L188.5,101.9 L190.8,103.8 L193.2,106.6 L195.5,110.3 L197.8,114.7 L200.2,119.5 L202.5,124.3 L204.9,128.9 L207.2,133.2 L209.5,137.0 L211.9,140.4 L214.2,143.4 L216.5,146.2 L218.9,148.9 L221.2,151.4 L223.5,153.9 L225.9,156.4 L228.2,159.0 L230.6,161.5 L232.9,164.0 L235.2,166.5 L237.6,168.9 L239.9,171.2 L242.2,173.4 L246.9,177.3 L251.6,180.9 L256.3,184.4 L260.9,187.9 L265.6,191.7 L270.3,195.7 L286.6,210.3 L303.0,224.9 L319.3,239.2 L335.7,253.2 L352.0,266.7 L368.4,279.6 L384.7,291.9 L401.1,303.5" fill="none" stroke="#A2142F" stroke-width="1.1" stroke-linejoin="round"/>
<path d="M123.3,256.8 L131.1,223.1 L139.0,193.0 L146.9,166.6 L154.8,144.1 L157.4,137.5 L160.1,131.4 L162.7,125.7 L165.3,120.5 L167.9,115.8 L170.6,111.7 L173.2,108.1 L175.8,105.0 L178.5,102.6 L181.1,100.8 L183.7,99.7 L186.4,99.5 L188.7,100.3 L191.0,102.2 L193.4,105.0 L195.7,108.7 L198.0,113.1 L200.4,118.0 L202.7,122.9 L205.0,127.8 L207.4,132.3 L209.7,136.5 L212.0,140.2 L214.4,143.6 L216.7,146.6 L219.0,149.4 L221.4,152.1 L223.7,154.7 L226.1,157.3 L228.4,159.8 L230.7,162.4 L233.1,164.9 L235.4,167.4 L237.7,169.8 L240.1,172.1 L242.4,174.3 L247.1,178.2 L251.7,181.8 L256.4,185.2 L261.1,188.8 L265.8,192.5 L270.4,196.5 L286.7,211.0 L303.0,225.5 L319.2,239.7 L335.5,253.6 L351.8,267.0 L368.1,279.8 L384.3,292.0 L400.6,303.5" fill="none" stroke="#0072BD" stroke-width="1.1" stroke-linejoin="round"/>
<path d="M123.3,256.8 L131.3,223.6 L139.3,193.9 L147.4,167.9 L155.4,145.7 L158.1,139.2 L160.8,133.2 L163.4,127.6 L166.1,122.5 L168.8,117.9 L171.5,113.8 L174.1,110.3 L176.8,107.3 L179.5,104.9 L182.2,103.1 L184.9,102.1 L187.5,101.9 L189.9,102.7 L192.2,104.5 L194.5,107.2 L196.9,110.7 L199.2,115.0 L201.5,119.8 L203.9,124.8 L206.2,129.8 L208.5,134.5 L210.9,139.0 L213.2,143.0 L215.5,146.7 L217.9,150.0 L220.2,153.1 L222.5,156.0 L224.9,158.7 L227.2,161.3 L229.5,164.0 L231.9,166.5 L234.2,169.1 L236.5,171.6 L238.9,173.9 L241.2,176.2 L243.5,178.4 L248.2,182.3 L252.9,185.8 L257.5,189.2 L262.2,192.6 L266.8,196.4 L271.5,200.3 L287.4,214.3 L303.3,228.2 L319.2,242.0 L335.1,255.3 L351.0,268.2 L366.9,280.5 L382.8,292.3 L398.7,303.3" fill="none" stroke="#77AC30" stroke-width="1.1" stroke-linejoin="round"/>
<path d="M123.3,256.8 L131.2,223.5 L139.2,193.7 L147.1,167.6 L155.1,145.4 L157.7,138.8 L160.4,132.8 L163.1,127.2 L165.7,122.0 L168.4,117.4 L171.0,113.3 L173.7,109.8 L176.3,106.8 L179.0,104.3 L181.6,102.6 L184.3,101.5 L186.9,101.3 L189.3,102.3 L191.6,104.7 L193.9,108.2 L196.2,112.8 L198.6,118.2 L200.9,123.8 L203.2,129.4 L205.6,134.8 L207.9,139.6 L210.2,143.9 L212.6,147.6 L214.9,150.9 L217.2,153.8 L219.6,156.5 L221.9,159.1 L224.2,161.6 L226.5,164.1 L228.9,166.6 L231.2,169.1 L233.5,171.6 L235.9,174.0 L238.2,176.4 L240.5,178.6 L242.9,180.7 L247.5,184.6 L252.2,188.0 L256.8,191.3 L261.5,194.7 L266.2,198.4 L270.8,202.3 L286.6,216.0 L302.5,229.7 L318.3,243.2 L334.1,256.3 L350.0,268.9 L365.8,281.0 L381.6,292.5 L397.4,303.3" fill="none" stroke="#4DBEEE" stroke-width="1.1" stroke-linejoin="round"/>
<path d="M123.3,256.8 L131.4,223.6 L139.5,194.0 L147.6,168.0 L155.8,145.9 L158.5,139.4 L161.2,133.3 L163.9,127.8 L166.6,122.7 L169.3,118.1 L172.0,114.0 L174.7,110.5 L177.4,107.5 L180.1,105.1 L182.8,103.4 L185.6,102.3 L188.3,102.1 L190.6,103.1 L192.9,105.1 L195.2,108.3 L197.5,112.4 L199.9,117.2 L202.2,122.5 L204.5,127.8 L206.8,133.0 L209.1,137.8 L211.5,142.2 L213.8,146.1 L216.1,149.5 L218.4,152.7 L220.8,155.5 L223.1,158.2 L225.4,160.8 L227.7,163.3 L230.0,165.9 L232.4,168.4 L234.7,170.9 L237.0,173.3 L239.3,175.7 L241.6,177.9 L244.0,180.1 L248.6,183.9 L253.2,187.3 L257.9,190.7 L262.5,194.1 L267.2,197.8 L271.8,201.6 L287.7,215.6 L303.7,229.5 L319.6,243.2 L335.6,256.5 L351.5,269.3 L367.5,281.6 L383.4,293.3 L399.4,304.2" fill="none" stroke="#D95319" stroke-width="1.1" stroke-linejoin="round"/>
<path d="M123.3,256.8 L131.4,223.6 L139.6,194.0 L147.8,168.0 L156.0,145.9 L158.7,139.4 L161.4,133.3 L164.2,127.8 L166.9,122.7 L169.6,118.1 L172.3,114.0 L175.1,110.5 L177.8,107.5 L180.5,105.1 L183.3,103.4 L186.0,102.4 L188.7,102.2 L191.0,103.2 L193.3,105.6 L195.7,109.2 L198.0,113.9 L200.3,119.2 L202.6,124.8 L204.9,130.2 L207.2,135.3 L209.5,139.9 L211.9,143.8 L214.2,147.3 L216.5,150.3 L218.8,153.1 L221.1,155.7 L223.4,158.2 L225.8,160.7 L228.1,163.2 L230.4,165.7 L232.7,168.2 L235.0,170.7 L237.3,173.2 L239.6,175.6 L242.0,177.8 L244.3,179.9 L248.9,183.8 L253.5,187.3 L258.2,190.7 L262.8,194.2 L267.4,197.9 L272.0,201.8 L287.8,215.7 L303.5,229.7 L319.3,243.3 L335.0,256.6 L350.7,269.4 L366.5,281.7 L382.2,293.3 L397.9,304.3" fill="none" stroke="#EDB120" stroke-width="1.1" stroke-linejoin="round"/>
<path d="M123.3,256.8 L131.1,223.4 L139.0,193.5 L146.9,167.3 L154.8,145.0 L157.4,138.4 L160.0,132.4 L162.6,126.7 L165.3,121.6 L167.9,117.0 L170.5,112.9 L173.2,109.3 L175.8,106.3 L178.4,103.9 L181.0,102.1 L183.7,101.0 L186.3,100.8 L188.6,101.6 L190.9,103.1 L193.2,105.4 L195.5,108.5 L197.8,112.2 L200.2,116.5 L202.5,121.1 L204.8,125.8 L207.1,130.4 L209.4,134.8 L211.7,139.0 L214.0,142.8 L216.3,146.2 L218.7,149.5 L221.0,152.5 L223.3,155.4 L225.6,158.2 L227.9,160.9 L230.2,163.5 L232.5,166.1 L234.8,168.7 L237.2,171.1 L239.5,173.4 L241.8,175.6 L246.4,179.5 L251.0,183.1 L255.7,186.5 L260.3,190.1 L264.9,193.9 L269.5,197.9 L285.5,212.4 L301.5,226.8 L317.5,241.0 L333.5,254.7 L349.5,268.1 L365.5,280.8 L381.5,293.0 L397.5,304.3" fill="none" stroke="#77AC30" stroke-width="1.1" stroke-linejoin="round"/>
<path d="M123.3,256.8 L131.4,223.6 L139.5,193.9 L147.6,167.9 L155.7,145.7 L158.4,139.2 L161.1,133.2 L163.8,127.6 L166.5,122.5 L169.2,117.9 L171.9,113.9 L174.6,110.3 L177.3,107.3 L180.0,105.0 L182.7,103.2 L185.4,102.2 L188.1,102.0 L190.5,103.1 L192.8,105.5 L195.1,109.2 L197.4,114.0 L199.7,119.4 L202.0,125.0 L204.3,130.4 L206.6,135.4 L208.9,139.7 L211.2,143.5 L213.5,146.9 L215.8,149.8 L218.2,152.4 L220.5,155.0 L222.8,157.4 L225.1,159.9 L227.4,162.4 L229.7,164.9 L232.0,167.4 L234.3,170.0 L236.6,172.4 L238.9,174.8 L241.2,177.1 L243.5,179.2 L248.2,183.1 L252.8,186.6 L257.4,190.0 L262.0,193.5 L266.6,197.2 L271.2,201.2 L287.0,215.3 L302.7,229.3 L318.5,243.1 L334.2,256.5 L350.0,269.4 L365.7,281.8 L381.5,293.5 L397.2,304.6" fill="none" stroke="#EDB120" stroke-width="1.1" stroke-linejoin="round"/>
<path d="M123.3,256.8 L131.3,223.6 L139.4,194.0 L147.5,168.0 L155.5,145.8 L158.2,139.3 L160.9,133.2 L163.6,127.7 L166.3,122.6 L169.0,118.0 L171.7,113.9 L174.4,110.4 L177.1,107.4 L179.8,105.0 L182.5,103.3 L185.1,102.2 L187.8,102.1 L190.1,102.8 L192.4,104.4 L194.8,106.7 L197.1,109.9 L199.4,113.7 L201.7,118.1 L204.0,122.8 L206.3,127.7 L208.6,132.5 L210.9,137.1 L213.2,141.5 L215.5,145.6 L217.8,149.3 L220.1,152.8 L222.4,156.0 L224.7,159.0 L227.0,161.9 L229.3,164.7 L231.7,167.4 L234.0,170.0 L236.3,172.6 L238.6,175.0 L240.9,177.3 L243.2,179.4 L247.8,183.3 L252.4,186.8 L257.0,190.2 L261.6,193.7 L266.2,197.4 L270.9,201.3 L286.6,215.4 L302.4,229.5 L318.2,243.2 L333.9,256.6 L349.7,269.5 L365.5,281.9 L381.2,293.6 L397.0,304.7" fill="none" stroke="#0072BD" stroke-width="1.1" stroke-linejoin="round"/>
<path d="M123.3,256.8 L131.1,223.4 L139.0,193.6 L146.9,167.4 L154.8,145.1 L157.4,138.5 L160.1,132.5 L162.7,126.8 L165.3,121.7 L168.0,117.1 L170.6,113.0 L173.2,109.4 L175.8,106.4 L178.5,104.0 L181.1,102.2 L183.7,101.2 L186.4,101.0 L188.7,101.8 L191.0,103.3 L193.3,105.7 L195.6,108.9 L197.9,112.7 L200.2,117.1 L202.5,121.8 L204.8,126.6 L207.1,131.2 L209.4,135.6 L211.7,139.7 L214.0,143.5 L216.3,147.0 L218.6,150.2 L220.9,153.2 L223.3,156.0 L225.6,158.8 L227.9,161.5 L230.2,164.1 L232.5,166.7 L234.8,169.2 L237.1,171.7 L239.4,174.0 L241.7,176.1 L246.3,180.1 L250.9,183.6 L255.5,187.1 L260.1,190.6 L264.8,194.4 L269.4,198.4 L285.3,212.9 L301.2,227.3 L317.2,241.4 L333.1,255.2 L349.1,268.5 L365.0,281.2 L380.9,293.3 L396.9,304.7" fill="none" stroke="#77AC30" stroke-width="1.1" stroke-linejoin="round"/>
<path d="M123.3,256.8 L131.3,223.7 L139.3,194.1 L147.4,168.1 L155.4,146.0 L158.1,139.5 L160.8,133.4 L163.5,127.9 L166.2,122.8 L168.8,118.2 L171.5,114.2 L174.2,110.6 L176.9,107.7 L179.6,105.3 L182.3,103.5 L184.9,102.5 L187.6,102.3 L189.9,103.1 L192.2,104.6 L194.5,106.8 L196.8,109.9 L199.1,113.6 L201.4,117.8 L203.7,122.4 L206.0,127.2 L208.3,132.0 L210.6,136.7 L212.9,141.1 L215.2,145.3 L217.5,149.1 L219.8,152.7 L222.1,156.0 L224.4,159.1 L226.7,162.1 L229.0,164.9 L231.3,167.7 L233.6,170.3 L235.9,172.9 L238.2,175.3 L240.5,177.6 L242.8,179.8 L247.4,183.7 L252.0,187.2 L256.6,190.5 L261.2,194.1 L265.8,197.8 L270.4,201.7 L286.1,215.8 L301.8,229.8 L317.5,243.5 L333.2,256.9 L348.8,269.8 L364.5,282.1 L380.2,293.8 L395.9,304.8" fill="none" stroke="#0072BD" stroke-width="1.1" stroke-linejoin="round"/>
<path d="M123.3,256.8 L131.3,223.7 L139.3,194.1 L147.4,168.1 L155.4,146.0 L158.1,139.5 L160.8,133.5 L163.5,127.9 L166.2,122.8 L168.8,118.3 L171.5,114.2 L174.2,110.7 L176.9,107.7 L179.6,105.3 L182.2,103.6 L184.9,102.6 L187.6,102.4 L189.9,103.1 L192.2,104.6 L194.5,106.9 L196.8,109.9 L199.1,113.6 L201.4,117.9 L203.7,122.5 L206.0,127.3 L208.2,132.1 L210.5,136.8 L212.8,141.2 L215.1,145.4 L217.4,149.3 L219.7,152.8 L222.0,156.2 L224.3,159.3 L226.6,162.3 L228.9,165.2 L231.2,167.9 L233.5,170.6 L235.8,173.2 L238.1,175.6 L240.4,177.9 L242.7,180.1 L247.2,184.0 L251.8,187.4 L256.4,190.8 L261.0,194.3 L265.6,198.1 L270.2,202.1 L285.8,216.1 L301.4,230.1 L317.0,243.9 L332.7,257.2 L348.3,270.1 L363.9,282.4 L379.5,294.1 L395.1,305.1" fill="none" stroke="#0072BD" stroke-width="1.1" stroke-linejoin="round"/>
<path d="M123.3,256.8 L131.1,223.5 L139.0,193.7 L146.9,167.6 L154.7,145.3 L157.4,138.8 L160.0,132.7 L162.6,127.1 L165.2,122.0 L167.8,117.4 L170.5,113.3 L173.1,109.7 L175.7,106.7 L178.3,104.3 L181.0,102.6 L183.6,101.5 L186.2,101.4 L188.5,102.2 L190.8,103.9 L193.1,106.6 L195.3,110.1 L197.6,114.4 L199.9,119.2 L202.2,124.3 L204.5,129.5 L206.7,134.6 L209.0,139.4 L211.3,143.9 L213.6,148.0 L215.9,151.8 L218.2,155.2 L220.4,158.4 L222.7,161.4 L225.0,164.3 L227.3,167.0 L229.6,169.7 L231.9,172.3 L234.1,174.9 L236.4,177.3 L238.7,179.5 L241.0,181.6 L245.6,185.4 L250.1,188.9 L254.7,192.2 L259.3,195.7 L263.8,199.4 L268.4,203.3 L284.0,217.3 L299.6,231.2 L315.2,244.8 L330.8,258.1 L346.4,270.8 L362.0,283.0 L377.6,294.6 L393.2,305.5" fill="none" stroke="#D95319" stroke-width="1.1" stroke-linejoin="round"/>
<path d="M123.3,256.8 L131.0,223.5 L138.7,193.8 L146.4,167.7 L154.2,145.5 L156.7,139.0 L159.3,132.9 L161.9,127.3 L164.5,122.2 L167.0,117.6 L169.6,113.6 L172.2,110.0 L174.8,107.0 L177.3,104.6 L179.9,102.9 L182.5,101.9 L185.1,101.7 L187.3,102.6 L189.6,104.5 L191.8,107.4 L194.1,111.2 L196.3,115.8 L198.6,120.8 L200.9,126.1 L203.1,131.4 L205.4,136.4 L207.6,141.1 L209.9,145.4 L212.1,149.3 L214.4,152.7 L216.6,155.9 L218.9,158.9 L221.2,161.7 L223.4,164.5 L225.7,167.1 L227.9,169.8 L230.2,172.4 L232.4,174.9 L234.7,177.3 L236.9,179.5 L239.2,181.6 L243.7,185.4 L248.2,188.9 L252.7,192.2 L257.2,195.7 L261.7,199.5 L266.3,203.5 L281.7,217.6 L297.2,231.7 L312.7,245.5 L328.2,258.8 L343.6,271.7 L359.1,284.0 L374.6,295.7 L390.1,306.6" fill="none" stroke="#4DBEEE" stroke-width="1.1" stroke-linejoin="round"/>
<path d="M123.3,256.8 L131.0,223.8 L138.8,194.4 L146.6,168.5 L154.4,146.5 L157.0,140.1 L159.6,134.1 L162.2,128.6 L164.8,123.5 L167.4,119.0 L170.0,114.9 L172.6,111.4 L175.2,108.5 L177.8,106.1 L180.4,104.4 L182.9,103.4 L185.5,103.3 L187.8,104.2 L190.0,106.2 L192.3,109.2 L194.5,113.2 L196.8,117.9 L199.0,123.1 L201.3,128.4 L203.5,133.6 L205.8,138.6 L208.0,143.1 L210.3,147.2 L212.6,150.8 L214.8,154.1 L217.1,157.1 L219.3,160.0 L221.6,162.7 L223.8,165.3 L226.1,168.0 L228.3,170.6 L230.6,173.2 L232.8,175.6 L235.1,178.0 L237.3,180.3 L239.6,182.4 L244.1,186.2 L248.6,189.6 L253.1,193.0 L257.6,196.5 L262.1,200.3 L266.6,204.2 L281.9,218.3 L297.3,232.3 L312.7,246.0 L328.0,259.3 L343.4,272.1 L358.8,284.4 L374.1,296.0 L389.5,306.8" fill="none" stroke="#EDB120" stroke-width="1.1" stroke-linejoin="round"/>
<path d="M123.3,256.8 L131.1,223.7 L139.0,194.1 L146.9,168.2 L154.8,146.1 L157.4,139.6 L160.0,133.6 L162.7,128.1 L165.3,123.0 L167.9,118.4 L170.5,114.4 L173.2,110.9 L175.8,107.9 L178.4,105.6 L181.1,103.9 L183.7,102.8 L186.3,102.7 L188.6,103.6 L190.8,105.5 L193.1,108.4 L195.3,112.3 L197.5,116.9 L199.8,122.0 L202.0,127.3 L204.3,132.6 L206.5,137.6 L208.8,142.2 L211.0,146.4 L213.3,150.2 L215.5,153.6 L217.8,156.8 L220.0,159.7 L222.3,162.5 L224.5,165.3 L226.8,167.9 L229.0,170.6 L231.3,173.2 L233.5,175.7 L235.7,178.1 L238.0,180.4 L240.2,182.5 L244.7,186.3 L249.2,189.8 L253.7,193.1 L258.2,196.7 L262.7,200.5 L267.2,204.5 L282.4,218.6 L297.6,232.5 L312.8,246.2 L328.0,259.5 L343.2,272.2 L358.4,284.5 L373.7,296.1 L388.9,306.9" fill="none" stroke="#7E2F8E" stroke-width="1.1" stroke-linejoin="round"/>
<path d="M123.3,256.8 L131.0,223.8 L138.8,194.3 L146.6,168.5 L154.3,146.5 L156.9,140.0 L159.5,134.0 L162.1,128.5 L164.7,123.5 L167.3,118.9 L169.9,114.9 L172.5,111.4 L175.1,108.4 L177.7,106.1 L180.3,104.4 L182.8,103.4 L185.4,103.2 L187.7,104.1 L189.9,106.0 L192.2,109.0 L194.4,112.9 L196.7,117.5 L198.9,122.6 L201.1,127.8 L203.4,133.0 L205.6,137.9 L207.9,142.4 L210.1,146.5 L212.4,150.2 L214.6,153.5 L216.9,156.6 L219.1,159.4 L221.3,162.2 L223.6,164.9 L225.8,167.5 L228.1,170.2 L230.3,172.7 L232.6,175.2 L234.8,177.6 L237.0,179.9 L239.3,182.0 L243.8,185.8 L248.3,189.3 L252.8,192.6 L257.2,196.2 L261.7,200.0 L266.2,204.0 L281.5,218.1 L296.9,232.2 L312.2,246.0 L327.5,259.4 L342.9,272.2 L358.2,284.6 L373.5,296.2 L388.9,307.2" fill="none" stroke="#EDB120" stroke-width="1.1" stroke-linejoin="round"/>
<path d="M123.3,256.8 L131.0,223.8 L138.7,194.4 L146.4,168.6 L154.0,146.6 L156.6,140.2 L159.2,134.2 L161.7,128.7 L164.3,123.6 L166.9,119.1 L169.4,115.0 L172.0,111.5 L174.6,108.6 L177.1,106.2 L179.7,104.5 L182.3,103.5 L184.8,103.4 L187.1,104.3 L189.3,106.3 L191.6,109.3 L193.8,113.3 L196.0,118.1 L198.3,123.3 L200.5,128.6 L202.8,133.8 L205.0,138.7 L207.2,143.2 L209.5,147.2 L211.7,150.8 L213.9,154.1 L216.2,157.0 L218.4,159.9 L220.7,162.6 L222.9,165.2 L225.1,167.9 L227.4,170.5 L229.6,173.1 L231.9,175.6 L234.1,178.0 L236.3,180.2 L238.6,182.3 L243.1,186.1 L247.5,189.5 L252.0,192.9 L256.5,196.4 L261.0,200.2 L265.5,204.2 L280.8,218.4 L296.1,232.5 L311.4,246.2 L326.7,259.6 L342.0,272.4 L357.3,284.7 L372.7,296.4 L388.0,307.3" fill="none" stroke="#0072BD" stroke-width="1.1" stroke-linejoin="round"/>
<path d="M123.3,256.8 L131.0,223.8 L138.7,194.4 L146.5,168.6 L154.2,146.6 L156.8,140.1 L159.4,134.1 L162.0,128.6 L164.5,123.6 L167.1,119.0 L169.7,115.0 L172.3,111.5 L174.9,108.5 L177.4,106.2 L180.0,104.5 L182.6,103.5 L185.2,103.3 L187.4,104.3 L189.7,106.2 L191.9,109.3 L194.1,113.3 L196.4,118.0 L198.6,123.1 L200.8,128.4 L203.1,133.6 L205.3,138.5 L207.6,142.9 L209.8,146.9 L212.0,150.5 L214.3,153.7 L216.5,156.7 L218.7,159.5 L221.0,162.2 L223.2,164.8 L225.5,167.5 L227.7,170.1 L229.9,172.7 L232.2,175.2 L234.4,177.6 L236.6,179.8 L238.9,181.9 L243.3,185.7 L247.8,189.2 L252.3,192.5 L256.8,196.1 L261.2,199.9 L265.7,203.9 L281.0,218.2 L296.4,232.3 L311.7,246.1 L327.0,259.5 L342.3,272.5 L357.6,284.8 L372.9,296.5 L388.3,307.5" fill="none" stroke="#EDB120" stroke-width="1.1" stroke-linejoin="round"/>
<path d="M123.3,256.8 L130.9,223.7 L138.5,194.1 L146.2,168.1 L153.8,146.0 L156.3,139.6 L158.9,133.5 L161.4,128.0 L164.0,122.9 L166.5,118.4 L169.0,114.3 L171.6,110.8 L174.1,107.8 L176.7,105.5 L179.2,103.7 L181.8,102.7 L184.3,102.6 L186.5,103.5 L188.8,105.4 L191.0,108.4 L193.2,112.2 L195.5,116.9 L197.7,121.9 L199.9,127.2 L202.2,132.4 L204.4,137.3 L206.6,141.9 L208.8,146.0 L211.1,149.8 L213.3,153.1 L215.5,156.2 L217.8,159.1 L220.0,161.9 L222.2,164.6 L224.5,167.2 L226.7,169.8 L228.9,172.4 L231.1,174.9 L233.4,177.3 L235.6,179.6 L237.8,181.7 L242.3,185.4 L246.8,188.8 L251.2,192.2 L255.7,195.7 L260.1,199.5 L264.6,203.5 L280.1,217.9 L295.6,232.2 L311.1,246.1 L326.6,259.7 L342.1,272.7 L357.6,285.2 L373.1,297.0 L388.6,308.0" fill="none" stroke="#D95319" stroke-width="1.1" stroke-linejoin="round"/>
<path d="M123.3,256.8 L130.7,223.7 L138.2,194.1 L145.7,168.2 L153.2,146.1 L155.7,139.6 L158.2,133.6 L160.7,128.0 L163.2,123.0 L165.7,118.4 L168.2,114.3 L170.7,110.8 L173.2,107.8 L175.7,105.5 L178.2,103.7 L180.7,102.7 L183.2,102.6 L185.4,103.4 L187.6,105.1 L189.9,107.8 L192.1,111.4 L194.3,115.6 L196.6,120.4 L198.8,125.4 L201.0,130.5 L203.3,135.5 L205.5,140.1 L207.7,144.5 L210.0,148.4 L212.2,152.0 L214.4,155.2 L216.6,158.3 L218.9,161.2 L221.1,164.1 L223.3,166.8 L225.6,169.5 L227.8,172.1 L230.0,174.7 L232.3,177.1 L234.5,179.4 L236.7,181.5 L241.2,185.3 L245.7,188.7 L250.1,192.1 L254.6,195.7 L259.1,199.5 L263.5,203.6 L278.8,217.8 L294.1,232.0 L309.3,245.8 L324.6,259.3 L339.9,272.2 L355.1,284.6 L370.4,296.3 L385.7,307.3" fill="none" stroke="#A2142F" stroke-width="1.1" stroke-linejoin="round"/>
<path d="M123.3,256.8 L130.9,223.7 L138.5,194.1 L146.2,168.2 L153.8,146.1 L156.3,139.6 L158.9,133.6 L161.4,128.0 L164.0,123.0 L166.5,118.4 L169.0,114.4 L171.6,110.8 L174.1,107.9 L176.7,105.5 L179.2,103.8 L181.8,102.8 L184.3,102.7 L186.5,103.6 L188.8,105.6 L191.0,108.6 L193.2,112.6 L195.4,117.3 L197.6,122.5 L199.9,127.8 L202.1,133.0 L204.3,137.9 L206.5,142.4 L208.8,146.5 L211.0,150.1 L213.2,153.4 L215.4,156.4 L217.7,159.2 L219.9,162.0 L222.1,164.6 L224.3,167.3 L226.6,169.9 L228.8,172.5 L231.0,175.0 L233.2,177.4 L235.4,179.6 L237.7,181.7 L242.1,185.5 L246.6,188.9 L251.0,192.3 L255.5,195.8 L259.9,199.6 L264.3,203.6 L279.8,218.0 L295.2,232.3 L310.7,246.3 L326.1,259.9 L341.6,273.0 L357.0,285.5 L372.5,297.3 L387.9,308.3" fill="none" stroke="#D95319" stroke-width="1.1" stroke-linejoin="round"/>
<path d="M123.3,256.8 L130.8,223.7 L138.3,194.2 L145.9,168.3 L153.4,146.2 L155.9,139.7 L158.4,133.7 L160.9,128.1 L163.4,123.1 L165.9,118.5 L168.4,114.5 L171.0,111.0 L173.5,108.0 L176.0,105.6 L178.5,103.9 L181.0,102.9 L183.5,102.8 L185.7,103.6 L188.0,105.4 L190.2,108.0 L192.4,111.6 L194.6,115.9 L196.8,120.6 L199.1,125.6 L201.3,130.7 L203.5,135.5 L205.7,140.0 L208.0,144.1 L210.2,147.9 L212.4,151.3 L214.6,154.5 L216.8,157.4 L219.1,160.3 L221.3,163.0 L223.5,165.7 L225.7,168.4 L228.0,171.0 L230.2,173.6 L232.4,176.0 L234.6,178.2 L236.8,180.4 L241.3,184.2 L245.7,187.6 L250.2,191.0 L254.6,194.6 L259.1,198.5 L263.5,202.5 L278.9,217.0 L294.4,231.5 L309.8,245.6 L325.2,259.3 L340.6,272.5 L356.0,285.1 L371.5,297.0 L386.9,308.2" fill="none" stroke="#77AC30" stroke-width="1.1" stroke-linejoin="round"/>
<path d="M123.3,256.8 L130.6,223.7 L138.0,194.2 L145.4,168.3 L152.7,146.2 L155.2,139.8 L157.6,133.7 L160.1,128.2 L162.5,123.1 L165.0,118.6 L167.4,114.5 L169.9,111.0 L172.4,108.0 L174.8,105.7 L177.3,103.9 L179.7,102.9 L182.2,102.8 L184.4,103.6 L186.6,105.3 L188.8,107.9 L191.1,111.4 L193.3,115.6 L195.5,120.3 L197.7,125.2 L200.0,130.2 L202.2,135.1 L204.4,139.7 L206.6,143.9 L208.9,147.8 L211.1,151.3 L213.3,154.6 L215.5,157.6 L217.8,160.5 L220.0,163.3 L222.2,166.1 L224.4,168.8 L226.7,171.4 L228.9,173.9 L231.1,176.4 L233.3,178.6 L235.6,180.7 L240.0,184.5 L244.5,188.0 L248.9,191.4 L253.4,194.9 L257.8,198.8 L262.3,202.8 L277.6,217.3 L293.0,231.6 L308.3,245.6 L323.7,259.2 L339.1,272.3 L354.4,284.8 L369.8,296.6 L385.2,307.7" fill="none" stroke="#A2142F" stroke-width="1.1" stroke-linejoin="round"/>
<path d="M123.3,256.8 L130.9,223.7 L138.5,194.1 L146.1,168.1 L153.7,146.0 L156.2,139.5 L158.7,133.5 L161.3,128.0 L163.8,122.9 L166.3,118.3 L168.9,114.3 L171.4,110.8 L173.9,107.8 L176.5,105.5 L179.0,103.8 L181.5,102.7 L184.1,102.6 L186.3,103.6 L188.5,105.6 L190.7,108.8 L192.9,113.0 L195.1,117.8 L197.4,123.1 L199.6,128.5 L201.8,133.8 L204.0,138.7 L206.2,143.2 L208.4,147.1 L210.7,150.7 L212.9,153.9 L215.1,156.8 L217.3,159.6 L219.5,162.3 L221.7,164.9 L224.0,167.6 L226.2,170.2 L228.4,172.8 L230.6,175.3 L232.8,177.6 L235.0,179.9 L237.3,182.0 L241.7,185.7 L246.1,189.1 L250.6,192.5 L255.0,196.0 L259.4,199.9 L263.9,203.9 L279.3,218.3 L294.7,232.6 L310.1,246.6 L325.5,260.2 L341.0,273.3 L356.4,285.8 L371.8,297.6 L387.2,308.6" fill="none" stroke="#D95319" stroke-width="1.1" stroke-linejoin="round"/>
<path d="M123.3,256.8 L131.1,223.9 L138.9,194.5 L146.7,168.8 L154.6,146.9 L157.2,140.5 L159.8,134.5 L162.4,129.0 L165.0,124.0 L167.6,119.5 L170.2,115.5 L172.8,112.0 L175.4,109.1 L178.0,106.7 L180.6,105.0 L183.2,104.0 L185.9,103.9 L188.1,104.7 L190.3,106.3 L192.5,108.7 L194.7,111.9 L196.9,115.9 L199.2,120.3 L201.4,125.1 L203.6,129.9 L205.8,134.7 L208.0,139.2 L210.3,143.4 L212.5,147.3 L214.7,150.8 L216.9,154.1 L219.1,157.2 L221.3,160.2 L223.6,163.0 L225.8,165.8 L228.0,168.6 L230.2,171.2 L232.4,173.8 L234.7,176.3 L236.9,178.6 L239.1,180.8 L243.5,184.6 L248.0,188.1 L252.4,191.6 L256.8,195.3 L261.3,199.2 L265.7,203.4 L280.7,217.8 L295.7,232.1 L310.7,246.0 L325.8,259.6 L340.8,272.7 L355.8,285.2 L370.8,297.1 L385.8,308.2" fill="none" stroke="#7E2F8E" stroke-width="1.1" stroke-linejoin="round"/>
<path d="M123.3,256.8 L130.8,223.7 L138.3,194.1 L145.8,168.2 L153.3,146.2 L155.8,139.7 L158.3,133.7 L160.8,128.1 L163.3,123.1 L165.8,118.5 L168.3,114.5 L170.8,110.9 L173.3,108.0 L175.8,105.6 L178.3,103.9 L180.8,102.9 L183.3,102.8 L185.5,103.6 L187.7,105.4 L189.9,108.1 L192.2,111.7 L194.4,116.0 L196.6,120.8 L198.8,125.8 L201.0,130.8 L203.2,135.6 L205.4,140.0 L207.7,144.1 L209.9,147.8 L212.1,151.2 L214.3,154.3 L216.5,157.2 L218.7,160.0 L221.0,162.7 L223.2,165.5 L225.4,168.1 L227.6,170.7 L229.8,173.3 L232.0,175.7 L234.3,178.0 L236.5,180.1 L240.9,183.9 L245.3,187.4 L249.8,190.8 L254.2,194.4 L258.6,198.3 L263.1,202.4 L278.4,217.0 L293.8,231.4 L309.2,245.6 L324.6,259.3 L340.0,272.6 L355.4,285.2 L370.7,297.2 L386.1,308.4" fill="none" stroke="#77AC30" stroke-width="1.1" stroke-linejoin="round"/>
<path d="M123.3,256.8 L130.9,223.7 L138.5,194.2 L146.1,168.3 L153.7,146.2 L156.3,139.8 L158.8,133.8 L161.4,128.2 L163.9,123.2 L166.4,118.6 L169.0,114.6 L171.5,111.1 L174.1,108.1 L176.6,105.8 L179.1,104.1 L181.7,103.1 L184.2,102.9 L186.4,103.9 L188.6,106.0 L190.9,109.2 L193.1,113.5 L195.3,118.5 L197.5,123.9 L199.7,129.5 L201.9,135.0 L204.2,140.1 L206.4,144.8 L208.6,149.0 L210.8,152.8 L213.0,156.2 L215.2,159.2 L217.4,162.1 L219.7,164.9 L221.9,167.6 L224.1,170.2 L226.3,172.8 L228.5,175.4 L230.7,177.9 L233.0,180.2 L235.2,182.5 L237.4,184.5 L241.8,188.3 L246.2,191.6 L250.7,194.9 L255.1,198.4 L259.5,202.2 L264.0,206.2 L279.2,220.3 L294.5,234.3 L309.7,247.9 L325.0,261.2 L340.2,274.0 L355.5,286.2 L370.8,297.7 L386.0,308.4" fill="none" stroke="#4DBEEE" stroke-width="1.1" stroke-linejoin="round"/>
<path d="M123.3,256.8 L130.8,223.6 L138.3,194.0 L145.8,168.1 L153.4,145.9 L155.9,139.5 L158.4,133.4 L160.9,127.9 L163.4,122.8 L165.9,118.2 L168.4,114.2 L170.9,110.7 L173.4,107.7 L175.9,105.3 L178.5,103.6 L181.0,102.6 L183.5,102.5 L185.7,103.4 L187.9,105.5 L190.1,108.8 L192.3,113.0 L194.5,118.0 L196.8,123.4 L199.0,128.9 L201.2,134.4 L203.4,139.4 L205.6,144.1 L207.8,148.2 L210.0,151.9 L212.3,155.3 L214.5,158.3 L216.7,161.1 L218.9,163.9 L221.1,166.6 L223.3,169.2 L225.6,171.8 L227.8,174.4 L230.0,176.9 L232.2,179.3 L234.4,181.6 L236.6,183.6 L241.1,187.4 L245.5,190.8 L249.9,194.1 L254.3,197.6 L258.8,201.5 L263.2,205.5 L278.4,219.6 L293.6,233.7 L308.8,247.4 L324.0,260.8 L339.2,273.6 L354.4,285.8 L369.6,297.4 L384.8,308.2" fill="none" stroke="#77AC30" stroke-width="1.1" stroke-linejoin="round"/>
<path d="M123.3,256.8 L130.9,223.9 L138.6,194.5 L146.3,168.8 L154.0,146.8 L156.5,140.4 L159.1,134.4 L161.7,128.9 L164.2,123.9 L166.8,119.4 L169.3,115.4 L171.9,111.9 L174.4,109.0 L177.0,106.6 L179.6,104.9 L182.1,103.9 L184.7,103.8 L186.9,104.7 L189.1,106.7 L191.3,109.8 L193.5,113.8 L195.7,118.6 L197.9,123.7 L200.2,129.0 L202.4,134.1 L204.6,138.8 L206.8,143.1 L209.0,147.0 L211.2,150.4 L213.4,153.5 L215.6,156.4 L217.8,159.1 L220.0,161.8 L222.3,164.5 L224.5,167.1 L226.7,169.8 L228.9,172.4 L231.1,174.9 L233.3,177.3 L235.5,179.6 L237.7,181.7 L242.1,185.5 L246.6,189.0 L251.0,192.4 L255.4,196.0 L259.8,199.9 L264.2,204.0 L279.4,218.4 L294.6,232.7 L309.7,246.7 L324.9,260.3 L340.1,273.3 L355.2,285.8 L370.4,297.7 L385.6,308.7" fill="none" stroke="#EDB120" stroke-width="1.1" stroke-linejoin="round"/>
<path d="M123.3,256.8 L130.8,223.7 L138.4,194.0 L145.9,168.1 L153.5,146.0 L156.0,139.5 L158.5,133.5 L161.0,127.9 L163.5,122.8 L166.1,118.3 L168.6,114.2 L171.1,110.7 L173.6,107.8 L176.1,105.4 L178.6,103.7 L181.2,102.7 L183.7,102.5 L185.9,103.5 L188.1,105.5 L190.3,108.7 L192.5,112.8 L194.7,117.7 L196.9,123.0 L199.1,128.5 L201.3,133.8 L203.5,138.9 L205.8,143.5 L208.0,147.7 L210.2,151.4 L212.4,154.7 L214.6,157.8 L216.8,160.6 L219.0,163.4 L221.2,166.1 L223.4,168.8 L225.6,171.4 L227.8,174.0 L230.0,176.6 L232.3,179.0 L234.5,181.2 L236.7,183.3 L241.1,187.1 L245.5,190.5 L249.9,193.8 L254.3,197.4 L258.8,201.3 L263.2,205.3 L278.3,219.6 L293.4,233.7 L308.5,247.4 L323.6,260.8 L338.7,273.7 L353.8,286.0 L368.9,297.6 L384.0,308.5" fill="none" stroke="#77AC30" stroke-width="1.1" stroke-linejoin="round"/>
<path d="M123.3,256.8 L130.7,223.8 L138.1,194.3 L145.6,168.5 L153.0,146.5 L155.5,140.0 L157.9,134.0 L160.4,128.5 L162.9,123.4 L165.4,118.9 L167.8,114.8 L170.3,111.3 L172.8,108.4 L175.3,106.0 L177.8,104.3 L180.2,103.3 L182.7,103.2 L184.9,104.0 L187.1,105.8 L189.3,108.6 L191.5,112.2 L193.8,116.6 L196.0,121.5 L198.2,126.7 L200.4,131.9 L202.6,137.0 L204.8,141.9 L207.0,146.3 L209.2,150.4 L211.4,154.1 L213.6,157.5 L215.9,160.7 L218.1,163.7 L220.3,166.5 L222.5,169.3 L224.7,172.1 L226.9,174.7 L229.1,177.2 L231.3,179.7 L233.5,181.9 L235.7,184.0 L240.2,187.7 L244.6,191.1 L249.0,194.5 L253.4,198.0 L257.8,201.8 L262.3,205.8 L277.4,220.0 L292.4,234.0 L307.5,247.7 L322.6,260.9 L337.7,273.7 L352.8,285.9 L367.9,297.4 L383.0,308.2" fill="none" stroke="#D95319" stroke-width="1.1" stroke-linejoin="round"/>
<path d="M123.3,256.8 L130.8,223.6 L138.3,193.9 L145.8,167.9 L153.3,145.7 L155.8,139.2 L158.3,133.2 L160.8,127.6 L163.3,122.5 L165.8,117.9 L168.3,113.9 L170.8,110.4 L173.3,107.4 L175.8,105.0 L178.3,103.3 L180.8,102.3 L183.3,102.2 L185.5,103.2 L187.7,105.3 L189.9,108.7 L192.1,113.1 L194.3,118.2 L196.5,123.7 L198.7,129.4 L200.9,134.8 L203.1,139.9 L205.3,144.5 L207.5,148.6 L209.7,152.2 L211.9,155.4 L214.1,158.4 L216.3,161.2 L218.5,163.9 L220.7,166.6 L222.9,169.2 L225.1,171.9 L227.3,174.5 L229.5,177.0 L231.7,179.4 L233.9,181.6 L236.1,183.7 L240.5,187.4 L244.9,190.8 L249.3,194.2 L253.7,197.7 L258.1,201.6 L262.5,205.6 L277.6,219.9 L292.7,234.0 L307.9,247.8 L323.0,261.2 L338.1,274.1 L353.2,286.4 L368.3,298.0 L383.5,308.9" fill="none" stroke="#77AC30" stroke-width="1.1" stroke-linejoin="round"/>
<path d="M123.3,256.8 L130.6,223.9 L138.0,194.4 L145.4,168.6 L152.8,146.6 L155.2,140.2 L157.7,134.2 L160.1,128.7 L162.6,123.6 L165.1,119.1 L167.5,115.0 L170.0,111.6 L172.4,108.6 L174.9,106.3 L177.4,104.5 L179.8,103.5 L182.3,103.4 L184.5,104.3 L186.7,106.1 L188.9,108.8 L191.1,112.4 L193.3,116.8 L195.5,121.6 L197.7,126.8 L199.9,132.0 L202.1,137.1 L204.3,141.8 L206.5,146.3 L208.7,150.3 L210.9,154.0 L213.1,157.3 L215.3,160.5 L217.5,163.5 L219.7,166.3 L221.9,169.1 L224.1,171.8 L226.3,174.5 L228.5,177.0 L230.7,179.4 L232.9,181.7 L235.1,183.8 L239.6,187.5 L244.0,190.9 L248.4,194.2 L252.8,197.8 L257.2,201.6 L261.6,205.7 L276.7,219.9 L291.7,233.9 L306.8,247.7 L321.9,261.0 L337.0,273.8 L352.1,286.1 L367.1,297.7 L382.2,308.5" fill="none" stroke="#D95319" stroke-width="1.1" stroke-linejoin="round"/>
<path d="M123.3,256.8 L131.0,223.7 L138.7,194.1 L146.4,168.2 L154.1,146.1 L156.6,139.6 L159.2,133.6 L161.8,128.1 L164.3,123.0 L166.9,118.4 L169.5,114.4 L172.0,110.9 L174.6,108.0 L177.2,105.6 L179.7,103.9 L182.3,102.9 L184.9,102.8 L187.1,103.8 L189.3,105.9 L191.5,109.2 L193.7,113.6 L195.9,118.6 L198.1,124.2 L200.3,129.8 L202.5,135.3 L204.7,140.5 L206.9,145.2 L209.1,149.4 L211.3,153.1 L213.5,156.5 L215.7,159.6 L217.9,162.5 L220.1,165.2 L222.3,167.9 L224.5,170.6 L226.7,173.3 L228.9,175.9 L231.1,178.4 L233.3,180.8 L235.5,183.1 L237.7,185.2 L242.1,188.9 L246.5,192.3 L250.9,195.7 L255.3,199.3 L259.7,203.2 L264.1,207.2 L278.9,221.2 L293.7,235.1 L308.5,248.7 L323.3,261.8 L338.2,274.5 L353.0,286.6 L367.8,298.0 L382.6,308.7" fill="none" stroke="#A2142F" stroke-width="1.1" stroke-linejoin="round"/>
<path d="M123.3,256.8 L130.8,223.6 L138.3,194.0 L145.8,168.0 L153.3,145.9 L155.8,139.4 L158.3,133.4 L160.8,127.8 L163.3,122.8 L165.8,118.2 L168.3,114.1 L170.8,110.6 L173.3,107.7 L175.8,105.3 L178.3,103.6 L180.8,102.6 L183.3,102.5 L185.5,103.5 L187.7,105.6 L189.9,108.8 L192.1,113.0 L194.3,118.0 L196.4,123.4 L198.6,129.0 L200.8,134.3 L203.0,139.4 L205.2,144.0 L207.4,148.1 L209.6,151.8 L211.8,155.1 L214.0,158.1 L216.1,160.9 L218.3,163.7 L220.5,166.4 L222.7,169.1 L224.9,171.7 L227.1,174.4 L229.3,176.9 L231.5,179.3 L233.7,181.6 L235.8,183.7 L240.2,187.4 L244.6,190.8 L249.0,194.2 L253.4,197.8 L257.7,201.7 L262.1,205.8 L277.1,220.1 L292.0,234.3 L306.9,248.1 L321.9,261.5 L336.8,274.4 L351.8,286.8 L366.7,298.4 L381.7,309.3" fill="none" stroke="#0072BD" stroke-width="1.1" stroke-linejoin="round"/>
<path d="M123.3,256.8 L130.7,223.8 L138.2,194.3 L145.7,168.4 L153.1,146.4 L155.6,140.0 L158.1,134.0 L160.6,128.5 L163.1,123.4 L165.6,118.9 L168.1,114.9 L170.5,111.4 L173.0,108.4 L175.5,106.1 L178.0,104.4 L180.5,103.4 L183.0,103.3 L185.2,104.2 L187.4,106.3 L189.5,109.4 L191.7,113.5 L193.9,118.3 L196.1,123.6 L198.3,129.1 L200.4,134.6 L202.6,139.7 L204.8,144.5 L207.0,148.8 L209.2,152.7 L211.3,156.2 L213.5,159.4 L215.7,162.3 L217.9,165.2 L220.1,167.9 L222.2,170.7 L224.4,173.3 L226.6,175.9 L228.8,178.4 L231.0,180.8 L233.1,183.1 L235.3,185.1 L239.7,188.8 L244.1,192.1 L248.4,195.5 L252.8,199.0 L257.1,202.9 L261.5,206.9 L276.6,221.2 L291.6,235.3 L306.7,249.1 L321.7,262.4 L336.8,275.3 L351.8,287.5 L366.9,299.1 L382.0,309.9" fill="none" stroke="#EDB120" stroke-width="1.1" stroke-linejoin="round"/>
<path d="M123.3,256.8 L130.8,223.8 L138.3,194.3 L145.8,168.5 L153.3,146.5 L155.8,140.1 L158.3,134.1 L160.8,128.6 L163.3,123.6 L165.8,119.0 L168.3,115.0 L170.8,111.5 L173.3,108.6 L175.8,106.3 L178.3,104.6 L180.8,103.6 L183.3,103.5 L185.5,104.4 L187.6,106.6 L189.8,109.8 L192.0,114.1 L194.1,119.1 L196.3,124.5 L198.5,130.2 L200.7,135.7 L202.8,140.9 L205.0,145.7 L207.2,150.1 L209.4,153.9 L211.5,157.4 L213.7,160.6 L215.9,163.5 L218.1,166.3 L220.2,169.1 L222.4,171.8 L224.6,174.4 L226.8,177.0 L228.9,179.5 L231.1,181.9 L233.3,184.2 L235.5,186.2 L239.8,189.9 L244.2,193.2 L248.5,196.5 L252.9,200.1 L257.2,203.9 L261.6,207.9 L276.5,222.1 L291.4,236.1 L306.3,249.8 L321.3,263.0 L336.2,275.8 L351.1,287.9 L366.0,299.4 L380.9,310.1" fill="none" stroke="#EDB120" stroke-width="1.1" stroke-linejoin="round"/>
<path d="M123.3,256.8 L130.8,223.6 L138.3,194.0 L145.8,168.0 L153.3,145.9 L155.8,139.4 L158.3,133.4 L160.8,127.8 L163.3,122.8 L165.8,118.2 L168.3,114.1 L170.8,110.6 L173.3,107.7 L175.8,105.3 L178.3,103.6 L180.8,102.6 L183.3,102.5 L185.5,103.5 L187.7,105.5 L189.8,108.6 L192.0,112.7 L194.2,117.5 L196.4,122.8 L198.5,128.3 L200.7,133.6 L202.9,138.7 L205.1,143.3 L207.2,147.5 L209.4,151.3 L211.6,154.6 L213.8,157.7 L215.9,160.7 L218.1,163.5 L220.3,166.3 L222.5,169.0 L224.6,171.7 L226.8,174.3 L229.0,176.9 L231.1,179.3 L233.3,181.6 L235.5,183.7 L239.8,187.5 L244.2,190.9 L248.5,194.4 L252.9,198.1 L257.2,202.0 L261.6,206.1 L276.3,220.5 L291.0,234.7 L305.7,248.5 L320.5,261.9 L335.2,274.9 L349.9,287.2 L364.6,298.9 L379.4,309.8" fill="none" stroke="#7E2F8E" stroke-width="1.1" stroke-linejoin="round"/>
<path d="M123.3,256.8 L130.6,223.7 L137.9,194.1 L145.3,168.1 L152.6,146.1 L155.1,139.6 L157.5,133.6 L160.0,128.0 L162.4,123.0 L164.9,118.4 L167.3,114.4 L169.8,110.9 L172.2,107.9 L174.7,105.6 L177.1,103.9 L179.6,102.9 L182.0,102.8 L184.2,103.7 L186.3,105.8 L188.5,108.9 L190.7,113.1 L192.8,117.9 L195.0,123.2 L197.2,128.6 L199.3,133.9 L201.5,138.8 L203.7,143.3 L205.8,147.3 L208.0,150.9 L210.2,154.1 L212.3,157.1 L214.5,159.9 L216.7,162.7 L218.8,165.4 L221.0,168.1 L223.2,170.8 L225.3,173.5 L227.5,176.0 L229.7,178.5 L231.8,180.7 L234.0,182.9 L238.3,186.6 L242.7,190.1 L247.0,193.5 L251.3,197.2 L255.7,201.2 L260.0,205.3 L274.8,219.8 L289.6,234.2 L304.3,248.2 L319.1,261.7 L333.9,274.8 L348.6,287.3 L363.4,299.1 L378.2,310.1" fill="none" stroke="#A2142F" stroke-width="1.1" stroke-linejoin="round"/>
<path d="M123.3,256.8 L130.7,223.9 L138.2,194.6 L145.6,168.9 L153.0,147.0 L155.5,140.6 L158.0,134.6 L160.5,129.1 L163.0,124.1 L165.5,119.6 L167.9,115.6 L170.4,112.1 L172.9,109.2 L175.4,106.9 L177.9,105.2 L180.4,104.2 L182.8,104.1 L185.0,105.0 L187.2,106.7 L189.3,109.4 L191.5,112.9 L193.6,117.1 L195.8,121.9 L197.9,126.9 L200.1,132.0 L202.3,137.0 L204.4,141.7 L206.6,146.1 L208.7,150.1 L210.9,153.8 L213.1,157.2 L215.2,160.3 L217.4,163.4 L219.5,166.3 L221.7,169.1 L223.9,171.9 L226.0,174.6 L228.2,177.1 L230.3,179.6 L232.5,181.8 L234.7,183.9 L239.0,187.7 L243.3,191.1 L247.6,194.5 L251.9,198.1 L256.2,202.1 L260.6,206.2 L275.4,220.7 L290.3,235.0 L305.1,249.0 L320.0,262.6 L334.8,275.6 L349.7,288.1 L364.5,299.8 L379.4,310.8" fill="none" stroke="#0072BD" stroke-width="1.1" stroke-linejoin="round"/>
<path d="M123.3,256.8 L130.6,223.8 L137.9,194.3 L145.3,168.5 L152.6,146.5 L155.1,140.1 L157.5,134.1 L160.0,128.6 L162.4,123.5 L164.9,119.0 L167.3,115.0 L169.8,111.5 L172.2,108.6 L174.7,106.2 L177.1,104.5 L179.6,103.6 L182.0,103.4 L184.2,104.4 L186.3,106.6 L188.5,109.8 L190.6,114.1 L192.8,119.0 L195.0,124.4 L197.1,129.8 L199.3,135.1 L201.4,139.9 L203.6,144.3 L205.8,148.2 L207.9,151.6 L210.1,154.7 L212.2,157.6 L214.4,160.4 L216.5,163.1 L218.7,165.8 L220.9,168.5 L223.0,171.1 L225.2,173.8 L227.3,176.3 L229.5,178.7 L231.6,181.0 L233.8,183.1 L238.1,186.8 L242.4,190.2 L246.7,193.7 L251.1,197.4 L255.4,201.3 L259.7,205.4 L274.6,220.0 L289.4,234.5 L304.3,248.6 L319.2,262.2 L334.1,275.3 L349.0,287.9 L363.9,299.7 L378.7,310.8" fill="none" stroke="#4DBEEE" stroke-width="1.1" stroke-linejoin="round"/>
<path d="M123.3,256.8 L130.6,223.7 L137.9,194.1 L145.2,168.1 L152.5,146.0 L155.0,139.5 L157.4,133.5 L159.9,128.0 L162.3,122.9 L164.7,118.4 L167.2,114.3 L169.6,110.8 L172.1,107.9 L174.5,105.5 L176.9,103.8 L179.4,102.8 L181.8,102.7 L184.0,103.7 L186.1,105.7 L188.3,108.9 L190.4,113.0 L192.6,117.8 L194.8,123.1 L196.9,128.5 L199.1,133.8 L201.2,138.8 L203.4,143.3 L205.6,147.4 L207.7,151.0 L209.9,154.3 L212.0,157.3 L214.2,160.2 L216.4,163.0 L218.5,165.7 L220.7,168.4 L222.8,171.1 L225.0,173.8 L227.2,176.4 L229.3,178.8 L231.5,181.1 L233.6,183.2 L238.0,187.0 L242.3,190.4 L246.6,193.8 L250.9,197.5 L255.2,201.5 L259.6,205.6 L274.3,220.2 L289.0,234.5 L303.8,248.5 L318.5,262.1 L333.3,275.1 L348.0,287.6 L362.8,299.4 L377.5,310.4" fill="none" stroke="#A2142F" stroke-width="1.1" stroke-linejoin="round"/>
<path d="M123.3,256.8 L130.7,224.0 L138.2,194.7 L145.6,169.0 L153.1,147.1 L155.6,140.7 L158.0,134.7 L160.5,129.3 L163.0,124.3 L165.5,119.8 L168.0,115.8 L170.5,112.3 L173.0,109.4 L175.4,107.1 L177.9,105.4 L180.4,104.5 L182.9,104.3 L185.0,105.2 L187.2,106.9 L189.4,109.6 L191.5,113.1 L193.7,117.3 L195.8,122.1 L198.0,127.1 L200.1,132.3 L202.3,137.3 L204.4,142.0 L206.6,146.4 L208.7,150.5 L210.9,154.2 L213.0,157.6 L215.2,160.8 L217.3,163.8 L219.5,166.7 L221.6,169.6 L223.8,172.4 L225.9,175.1 L228.1,177.7 L230.3,180.1 L232.4,182.4 L234.6,184.5 L238.9,188.2 L243.2,191.6 L247.5,195.0 L251.8,198.6 L256.1,202.6 L260.4,206.7 L275.2,221.2 L289.9,235.5 L304.7,249.4 L319.5,263.0 L334.3,276.0 L349.0,288.4 L363.8,300.1 L378.6,311.1" fill="none" stroke="#0072BD" stroke-width="1.1" stroke-linejoin="round"/>
<path d="M123.3,256.8 L130.7,223.8 L138.2,194.3 L145.7,168.5 L153.1,146.5 L155.6,140.1 L158.1,134.1 L160.6,128.6 L163.1,123.6 L165.6,119.1 L168.1,115.0 L170.6,111.6 L173.0,108.6 L175.5,106.3 L178.0,104.6 L180.5,103.7 L183.0,103.5 L185.2,104.5 L187.3,106.5 L189.5,109.5 L191.6,113.5 L193.8,118.3 L195.9,123.5 L198.1,128.9 L200.2,134.4 L202.4,139.5 L204.5,144.3 L206.7,148.7 L208.8,152.6 L211.0,156.1 L213.1,159.4 L215.3,162.4 L217.4,165.3 L219.6,168.1 L221.8,170.9 L223.9,173.6 L226.1,176.2 L228.2,178.8 L230.4,181.2 L232.5,183.5 L234.7,185.5 L239.0,189.2 L243.3,192.6 L247.6,196.0 L251.9,199.6 L256.2,203.6 L260.5,207.7 L275.2,222.0 L290.0,236.2 L304.7,250.0 L319.4,263.4 L334.1,276.3 L348.9,288.6 L363.6,300.2 L378.3,311.0" fill="none" stroke="#77AC30" stroke-width="1.1" stroke-linejoin="round"/>
<path d="M123.3,256.8 L130.5,223.7 L137.8,194.1 L145.0,168.2 L152.3,146.2 L154.7,139.7 L157.1,133.7 L159.6,128.2 L162.0,123.1 L164.4,118.6 L166.8,114.5 L169.3,111.0 L171.7,108.1 L174.1,105.8 L176.5,104.0 L178.9,103.0 L181.4,102.9 L183.5,103.8 L185.7,105.4 L187.8,108.0 L190.0,111.3 L192.1,115.4 L194.3,120.1 L196.4,125.0 L198.6,130.1 L200.7,135.2 L202.9,140.0 L205.0,144.6 L207.2,148.8 L209.3,152.7 L211.5,156.3 L213.6,159.6 L215.8,162.8 L218.0,165.8 L220.1,168.7 L222.3,171.6 L224.4,174.3 L226.6,176.9 L228.7,179.4 L230.9,181.7 L233.0,183.8 L237.3,187.5 L241.6,190.9 L245.9,194.3 L250.2,198.0 L254.6,202.0 L258.9,206.1 L273.7,220.6 L288.5,235.0 L303.3,249.0 L318.0,262.5 L332.8,275.6 L347.6,288.0 L362.4,299.8 L377.2,310.8" fill="none" stroke="#A2142F" stroke-width="1.1" stroke-linejoin="round"/>
<path d="M123.3,256.8 L130.6,223.9 L138.0,194.5 L145.4,168.7 L152.7,146.8 L155.2,140.4 L157.6,134.4 L160.1,128.9 L162.6,123.9 L165.0,119.3 L167.5,115.3 L169.9,111.9 L172.4,109.0 L174.8,106.6 L177.3,104.9 L179.7,104.0 L182.2,103.9 L184.3,104.9 L186.5,107.1 L188.7,110.6 L190.8,115.0 L193.0,120.2 L195.1,125.7 L197.3,131.3 L199.4,136.6 L201.6,141.5 L203.7,145.9 L205.9,149.7 L208.0,153.2 L210.2,156.2 L212.3,159.1 L214.5,161.8 L216.6,164.5 L218.8,167.2 L220.9,169.9 L223.1,172.5 L225.2,175.2 L227.4,177.7 L229.5,180.1 L231.7,182.4 L233.8,184.5 L238.1,188.2 L242.4,191.6 L246.8,195.0 L251.1,198.7 L255.4,202.6 L259.7,206.7 L274.4,221.2 L289.1,235.5 L303.9,249.4 L318.6,262.9 L333.3,275.9 L348.1,288.3 L362.8,300.0 L377.5,310.9" fill="none" stroke="#4DBEEE" stroke-width="1.1" stroke-linejoin="round"/>
<path d="M123.3,256.8 L130.6,223.7 L137.9,194.1 L145.3,168.2 L152.6,146.1 L155.0,139.7 L157.5,133.7 L159.9,128.1 L162.4,123.1 L164.8,118.5 L167.3,114.5 L169.7,111.0 L172.2,108.1 L174.6,105.7 L177.0,104.0 L179.5,103.0 L181.9,102.9 L184.1,103.9 L186.2,105.9 L188.4,109.1 L190.6,113.2 L192.7,118.0 L194.9,123.4 L197.0,128.8 L199.2,134.1 L201.3,139.2 L203.5,143.8 L205.6,147.9 L207.8,151.6 L209.9,154.9 L212.1,158.0 L214.2,160.9 L216.4,163.7 L218.5,166.4 L220.7,169.2 L222.9,171.9 L225.0,174.5 L227.2,177.1 L229.3,179.6 L231.5,181.8 L233.6,183.9 L237.9,187.7 L242.2,191.1 L246.5,194.6 L250.9,198.3 L255.2,202.3 L259.5,206.4 L274.1,220.9 L288.7,235.1 L303.3,249.0 L317.9,262.5 L332.6,275.5 L347.2,287.9 L361.8,299.6 L376.4,310.5" fill="none" stroke="#A2142F" stroke-width="1.1" stroke-linejoin="round"/>
<path d="M123.3,256.8 L130.5,224.0 L137.8,194.7 L145.1,169.0 L152.3,147.1 L154.7,140.7 L157.2,134.8 L159.6,129.3 L162.0,124.3 L164.4,119.8 L166.8,115.8 L169.3,112.3 L171.7,109.4 L174.1,107.1 L176.5,105.4 L178.9,104.4 L181.4,104.3 L183.5,105.2 L185.7,107.0 L187.8,109.8 L190.0,113.6 L192.1,118.0 L194.3,122.9 L196.4,128.1 L198.6,133.2 L200.7,138.2 L202.9,142.8 L205.0,147.0 L207.2,150.8 L209.3,154.3 L211.5,157.4 L213.6,160.4 L215.7,163.3 L217.9,166.1 L220.0,168.9 L222.2,171.6 L224.3,174.3 L226.5,176.9 L228.6,179.3 L230.8,181.6 L232.9,183.7 L237.2,187.4 L241.5,190.8 L245.8,194.3 L250.1,198.0 L254.4,201.9 L258.7,206.1 L273.5,220.6 L288.2,235.0 L303.0,249.0 L317.7,262.6 L332.4,275.7 L347.2,288.1 L361.9,299.9 L376.7,310.9" fill="none" stroke="#0072BD" stroke-width="1.1" stroke-linejoin="round"/>
<path d="M123.3,256.8 L130.3,223.8 L137.3,194.2 L144.4,168.4 L151.4,146.4 L153.8,139.9 L156.1,133.9 L158.4,128.4 L160.8,123.3 L163.1,118.8 L165.5,114.8 L167.8,111.3 L170.2,108.3 L172.5,106.0 L174.9,104.3 L177.2,103.3 L179.6,103.1 L181.7,104.1 L183.8,106.0 L186.0,108.9 L188.1,112.7 L190.3,117.3 L192.4,122.3 L194.5,127.5 L196.7,132.7 L198.8,137.6 L200.9,142.2 L203.1,146.3 L205.2,150.0 L207.4,153.4 L209.5,156.5 L211.6,159.4 L213.8,162.2 L215.9,165.0 L218.0,167.8 L220.2,170.5 L222.3,173.2 L224.5,175.7 L226.6,178.2 L228.7,180.4 L230.9,182.5 L235.1,186.2 L239.4,189.6 L243.7,193.1 L248.0,196.8 L252.2,200.7 L256.5,204.9 L271.4,219.7 L286.3,234.3 L301.2,248.6 L316.1,262.4 L331.0,275.7 L345.9,288.3 L360.8,300.3 L375.7,311.5" fill="none" stroke="#77AC30" stroke-width="1.1" stroke-linejoin="round"/>
<path d="M123.3,256.8 L130.5,223.8 L137.7,194.3 L145.0,168.5 L152.2,146.5 L154.6,140.0 L157.0,134.0 L159.4,128.5 L161.9,123.5 L164.3,118.9 L166.7,114.9 L169.1,111.5 L171.5,108.5 L173.9,106.2 L176.3,104.5 L178.7,103.5 L181.2,103.4 L183.3,104.4 L185.4,106.6 L187.5,109.9 L189.7,114.3 L191.8,119.3 L193.9,124.8 L196.1,130.4 L198.2,135.8 L200.3,140.8 L202.4,145.3 L204.6,149.3 L206.7,152.9 L208.8,156.2 L211.0,159.1 L213.1,162.0 L215.2,164.7 L217.4,167.4 L219.5,170.1 L221.6,172.8 L223.7,175.5 L225.9,178.0 L228.0,180.4 L230.1,182.6 L232.3,184.7 L236.5,188.4 L240.8,191.7 L245.0,195.1 L249.3,198.8 L253.5,202.7 L257.8,206.8 L272.7,221.5 L287.5,236.0 L302.4,250.1 L317.2,263.8 L332.1,276.9 L346.9,289.4 L361.8,301.2 L376.6,312.3" fill="none" stroke="#7E2F8E" stroke-width="1.1" stroke-linejoin="round"/>
<path d="M123.3,256.8 L130.3,223.7 L137.3,194.2 L144.4,168.3 L151.4,146.3 L153.7,139.8 L156.1,133.8 L158.4,128.3 L160.8,123.3 L163.1,118.7 L165.5,114.7 L167.8,111.2 L170.2,108.2 L172.5,105.9 L174.9,104.2 L177.2,103.2 L179.5,103.1 L181.7,104.0 L183.8,105.9 L185.9,108.7 L188.1,112.5 L190.2,117.0 L192.3,122.0 L194.5,127.2 L196.6,132.4 L198.7,137.4 L200.9,142.1 L203.0,146.3 L205.1,150.2 L207.2,153.7 L209.4,156.9 L211.5,159.9 L213.6,162.8 L215.8,165.7 L217.9,168.5 L220.0,171.2 L222.2,173.9 L224.3,176.5 L226.4,178.9 L228.6,181.2 L230.7,183.2 L235.0,186.9 L239.2,190.3 L243.5,193.7 L247.7,197.4 L252.0,201.4 L256.3,205.6 L271.1,220.4 L285.9,234.9 L300.8,249.1 L315.6,262.9 L330.4,276.1 L345.3,288.7 L360.1,300.6 L374.9,311.7" fill="none" stroke="#77AC30" stroke-width="1.1" stroke-linejoin="round"/>
<path d="M123.3,256.8 L130.3,223.7 L137.3,194.2 L144.3,168.3 L151.3,146.2 L153.7,139.7 L156.0,133.7 L158.3,128.2 L160.7,123.1 L163.0,118.6 L165.3,114.6 L167.7,111.1 L170.0,108.1 L172.4,105.8 L174.7,104.1 L177.0,103.1 L179.4,103.0 L181.5,103.9 L183.6,105.8 L185.7,108.7 L187.9,112.5 L190.0,117.0 L192.1,122.0 L194.2,127.2 L196.4,132.4 L198.5,137.4 L200.6,142.0 L202.7,146.2 L204.9,150.0 L207.0,153.5 L209.1,156.6 L211.2,159.6 L213.4,162.5 L215.5,165.3 L217.6,168.1 L219.7,170.9 L221.9,173.6 L224.0,176.1 L226.1,178.6 L228.2,180.8 L230.4,182.9 L234.6,186.6 L238.9,190.0 L243.1,193.5 L247.4,197.2 L251.6,201.2 L255.9,205.4 L270.6,220.2 L285.4,234.8 L300.2,249.1 L315.0,262.9 L329.8,276.2 L344.6,288.9 L359.4,300.9 L374.2,312.0" fill="none" stroke="#77AC30" stroke-width="1.1" stroke-linejoin="round"/>
<path d="M123.3,256.8 L130.5,223.8 L137.7,194.3 L145.0,168.5 L152.2,146.5 L154.6,140.1 L157.0,134.1 L159.4,128.6 L161.8,123.6 L164.3,119.1 L166.7,115.0 L169.1,111.6 L171.5,108.7 L173.9,106.3 L176.3,104.6 L178.7,103.7 L181.1,103.6 L183.3,104.5 L185.4,106.5 L187.5,109.6 L189.6,113.6 L191.7,118.4 L193.9,123.6 L196.0,129.1 L198.1,134.6 L200.2,139.8 L202.4,144.6 L204.5,149.0 L206.6,152.9 L208.7,156.5 L210.8,159.7 L213.0,162.8 L215.1,165.7 L217.2,168.6 L219.3,171.4 L221.4,174.1 L223.6,176.8 L225.7,179.3 L227.8,181.7 L229.9,184.0 L232.0,186.0 L236.3,189.7 L240.5,193.0 L244.8,196.4 L249.0,200.1 L253.3,204.0 L257.5,208.1 L272.2,222.7 L286.8,237.0 L301.5,251.0 L316.2,264.5 L330.9,277.5 L345.5,289.9 L360.2,301.5 L374.9,312.4" fill="none" stroke="#A2142F" stroke-width="1.1" stroke-linejoin="round"/>
<path d="M123.3,256.8 L130.5,224.0 L137.8,194.8 L145.1,169.1 L152.4,147.3 L154.8,140.9 L157.2,135.0 L159.6,129.5 L162.1,124.5 L164.5,120.1 L166.9,116.1 L169.3,112.6 L171.8,109.7 L174.2,107.4 L176.6,105.8 L179.0,104.8 L181.5,104.7 L183.6,105.6 L185.7,107.5 L187.8,110.3 L189.9,114.0 L192.0,118.5 L194.2,123.4 L196.3,128.6 L198.4,133.8 L200.5,138.9 L202.6,143.6 L204.7,147.9 L206.9,151.8 L209.0,155.4 L211.1,158.6 L213.2,161.7 L215.3,164.7 L217.4,167.6 L219.6,170.4 L221.7,173.2 L223.8,175.9 L225.9,178.5 L228.0,180.9 L230.1,183.2 L232.3,185.3 L236.5,189.0 L240.7,192.4 L245.0,195.8 L249.2,199.6 L253.4,203.6 L257.7,207.8 L272.1,222.3 L286.5,236.7 L301.0,250.7 L315.4,264.2 L329.8,277.2 L344.3,289.6 L358.7,301.3 L373.1,312.3" fill="none" stroke="#EDB120" stroke-width="1.1" stroke-linejoin="round"/>
<path d="M123.3,256.8 L130.5,223.8 L137.7,194.3 L144.9,168.5 L152.1,146.6 L154.5,140.1 L156.9,134.1 L159.3,128.6 L161.7,123.6 L164.1,119.1 L166.5,115.1 L168.9,111.6 L171.3,108.7 L173.7,106.4 L176.1,104.7 L178.5,103.7 L180.9,103.6 L183.0,104.6 L185.2,106.7 L187.3,110.0 L189.4,114.2 L191.5,119.2 L193.6,124.7 L195.7,130.3 L197.8,135.9 L200.0,141.3 L202.1,146.2 L204.2,150.6 L206.3,154.6 L208.4,158.1 L210.5,161.4 L212.7,164.4 L214.8,167.3 L216.9,170.2 L219.0,172.9 L221.1,175.7 L223.2,178.3 L225.3,180.9 L227.5,183.3 L229.6,185.5 L231.7,187.5 L235.9,191.1 L240.1,194.4 L244.4,197.8 L248.6,201.4 L252.8,205.3 L257.1,209.4 L271.7,223.8 L286.3,238.0 L300.9,251.9 L315.5,265.3 L330.1,278.1 L344.7,290.3 L359.3,301.9 L373.9,312.6" fill="none" stroke="#A2142F" stroke-width="1.1" stroke-linejoin="round"/>
<path d="M123.3,256.8 L130.4,223.9 L137.5,194.5 L144.6,168.8 L151.8,146.9 L154.2,140.5 L156.5,134.5 L158.9,129.1 L161.3,124.0 L163.7,119.5 L166.0,115.5 L168.4,112.1 L170.8,109.2 L173.2,106.9 L175.5,105.2 L177.9,104.2 L180.3,104.1 L182.4,105.1 L184.5,107.2 L186.6,110.3 L188.7,114.5 L190.8,119.3 L192.9,124.7 L195.0,130.2 L197.1,135.7 L199.2,140.8 L201.3,145.5 L203.4,149.8 L205.5,153.6 L207.6,157.0 L209.7,160.2 L211.8,163.2 L213.9,166.1 L216.0,168.9 L218.1,171.7 L220.3,174.4 L222.4,177.1 L224.5,179.7 L226.6,182.1 L228.7,184.3 L230.8,186.4 L235.0,190.0 L239.2,193.4 L243.4,196.8 L247.6,200.6 L251.8,204.6 L256.0,208.8 L270.4,223.3 L284.8,237.6 L299.2,251.5 L313.6,265.0 L328.0,277.9 L342.4,290.3 L356.7,301.9 L371.1,312.8" fill="none" stroke="#7E2F8E" stroke-width="1.1" stroke-linejoin="round"/>
<path d="M123.3,256.8 L130.4,223.9 L137.4,194.5 L144.5,168.7 L151.6,146.8 L154.0,140.4 L156.4,134.4 L158.7,128.9 L161.1,123.9 L163.5,119.4 L165.8,115.4 L168.2,112.0 L170.6,109.1 L172.9,106.7 L175.3,105.1 L177.7,104.1 L180.0,104.0 L182.1,105.0 L184.2,107.2 L186.3,110.5 L188.4,114.9 L190.5,119.9 L192.6,125.4 L194.7,131.1 L196.8,136.5 L198.9,141.6 L201.0,146.2 L203.1,150.4 L205.2,154.0 L207.3,157.3 L209.4,160.4 L211.5,163.3 L213.6,166.1 L215.7,168.8 L217.8,171.6 L219.8,174.3 L221.9,177.0 L224.0,179.6 L226.1,182.0 L228.2,184.3 L230.3,186.3 L234.5,190.0 L238.7,193.3 L242.9,196.8 L247.1,200.5 L251.3,204.5 L255.5,208.7 L269.9,223.3 L284.2,237.6 L298.6,251.6 L313.0,265.2 L327.4,278.2 L341.7,290.5 L356.1,302.2 L370.5,313.1" fill="none" stroke="#7E2F8E" stroke-width="1.1" stroke-linejoin="round"/>
<path d="M123.3,256.8 L130.3,223.9 L137.3,194.6 L144.4,168.9 L151.4,147.0 L153.8,140.6 L156.1,134.6 L158.5,129.1 L160.8,124.1 L163.2,119.6 L165.5,115.6 L167.9,112.2 L170.2,109.3 L172.6,107.0 L174.9,105.3 L177.2,104.3 L179.6,104.2 L181.7,105.2 L183.8,107.2 L185.9,110.3 L188.0,114.3 L190.0,119.1 L192.1,124.3 L194.2,129.7 L196.3,135.1 L198.4,140.1 L200.5,144.7 L202.6,148.9 L204.7,152.7 L206.8,156.0 L208.8,159.2 L210.9,162.1 L213.0,165.0 L215.1,167.8 L217.2,170.6 L219.3,173.4 L221.4,176.1 L223.5,178.7 L225.6,181.1 L227.6,183.4 L229.7,185.4 L233.9,189.1 L238.1,192.4 L242.3,195.9 L246.5,199.7 L250.6,203.7 L254.8,208.0 L269.2,222.7 L283.6,237.2 L298.0,251.3 L312.4,265.0 L326.8,278.2 L341.2,290.7 L355.6,302.5 L370.0,313.5" fill="none" stroke="#7E2F8E" stroke-width="1.1" stroke-linejoin="round"/>
<path d="M123.3,256.8 L130.3,223.9 L137.3,194.6 L144.4,168.9 L151.4,147.0 L153.8,140.6 L156.1,134.6 L158.5,129.1 L160.8,124.1 L163.2,119.6 L165.5,115.6 L167.9,112.2 L170.2,109.3 L172.6,107.0 L174.9,105.3 L177.3,104.3 L179.6,104.2 L181.7,105.3 L183.8,107.4 L185.9,110.7 L188.0,115.0 L190.0,120.0 L192.1,125.6 L194.2,131.4 L196.3,137.1 L198.4,142.6 L200.5,147.6 L202.6,152.2 L204.7,156.3 L206.8,160.0 L208.8,163.3 L210.9,166.4 L213.0,169.4 L215.1,172.3 L217.2,175.1 L219.3,177.9 L221.4,180.5 L223.5,183.1 L225.5,185.5 L227.6,187.7 L229.7,189.7 L233.9,193.2 L238.1,196.5 L242.3,199.8 L246.4,203.5 L250.6,207.4 L254.8,211.5 L269.1,225.8 L283.5,239.8 L297.8,253.5 L312.1,266.8 L326.5,279.4 L340.8,291.5 L355.2,302.9 L369.5,313.5" fill="none" stroke="#0072BD" stroke-width="1.1" stroke-linejoin="round"/>
<path d="M123.3,256.8 L130.3,223.9 L137.3,194.5 L144.4,168.8 L151.4,146.9 L153.8,140.5 L156.1,134.5 L158.5,129.0 L160.8,124.0 L163.1,119.5 L165.5,115.5 L167.8,112.1 L170.2,109.2 L172.5,106.9 L174.9,105.2 L177.2,104.2 L179.6,104.1 L181.7,105.1 L183.7,107.2 L185.8,110.3 L187.9,114.4 L190.0,119.2 L192.1,124.4 L194.2,129.9 L196.2,135.2 L198.3,140.2 L200.4,144.8 L202.5,149.0 L204.6,152.7 L206.7,156.1 L208.7,159.2 L210.8,162.1 L212.9,165.0 L215.0,167.8 L217.1,170.6 L219.2,173.3 L221.3,176.0 L223.3,178.6 L225.4,181.0 L227.5,183.2 L229.6,185.3 L233.8,188.9 L237.9,192.3 L242.1,195.7 L246.3,199.5 L250.4,203.5 L254.6,207.7 L269.1,222.6 L283.7,237.2 L298.2,251.5 L312.8,265.3 L327.3,278.5 L341.8,291.1 L356.4,303.0 L370.9,314.1" fill="none" stroke="#4DBEEE" stroke-width="1.1" stroke-linejoin="round"/>
<path d="M123.3,256.8 L130.3,223.8 L137.3,194.4 L144.3,168.6 L151.3,146.7 L153.6,140.3 L156.0,134.3 L158.3,128.8 L160.6,123.8 L163.0,119.3 L165.3,115.3 L167.6,111.8 L170.0,108.9 L172.3,106.6 L174.7,104.9 L177.0,104.0 L179.3,103.9 L181.4,104.8 L183.5,106.8 L185.6,109.8 L187.6,113.7 L189.7,118.4 L191.8,123.6 L193.9,128.9 L196.0,134.2 L198.0,139.3 L200.1,143.9 L202.2,148.1 L204.3,151.9 L206.3,155.4 L208.4,158.6 L210.5,161.6 L212.6,164.5 L214.7,167.3 L216.7,170.2 L218.8,172.9 L220.9,175.6 L223.0,178.2 L225.0,180.7 L227.1,182.9 L229.2,185.0 L233.4,188.6 L237.5,192.0 L241.7,195.5 L245.8,199.2 L250.0,203.3 L254.1,207.5 L268.6,222.5 L283.1,237.1 L297.6,251.4 L312.0,265.3 L326.5,278.6 L341.0,291.2 L355.5,303.2 L370.0,314.3" fill="none" stroke="#4DBEEE" stroke-width="1.1" stroke-linejoin="round"/>
<path d="M123.3,256.8 L130.2,224.0 L137.1,194.6 L144.0,168.9 L150.9,147.1 L153.2,140.7 L155.5,134.7 L157.8,129.2 L160.1,124.2 L162.5,119.7 L164.8,115.7 L167.1,112.3 L169.4,109.4 L171.7,107.1 L174.0,105.4 L176.3,104.4 L178.6,104.3 L180.7,105.3 L182.8,107.3 L184.8,110.4 L186.9,114.4 L189.0,119.1 L191.1,124.3 L193.1,129.7 L195.2,135.0 L197.3,140.0 L199.4,144.6 L201.5,148.8 L203.5,152.5 L205.6,155.9 L207.7,159.0 L209.8,162.0 L211.9,164.8 L213.9,167.7 L216.0,170.5 L218.1,173.3 L220.2,176.0 L222.3,178.6 L224.3,181.0 L226.4,183.3 L228.5,185.3 L232.6,189.0 L236.8,192.3 L241.0,195.8 L245.1,199.7 L249.3,203.7 L253.4,208.0 L267.8,222.8 L282.1,237.3 L296.4,251.5 L310.7,265.2 L325.0,278.3 L339.3,290.9 L353.7,302.7 L368.0,313.7" fill="none" stroke="#A2142F" stroke-width="1.1" stroke-linejoin="round"/>
<path d="M123.3,256.8 L130.4,224.0 L137.4,194.7 L144.5,169.1 L151.6,147.3 L154.0,140.9 L156.4,135.0 L158.7,129.5 L161.1,124.5 L163.5,120.1 L165.8,116.1 L168.2,112.6 L170.6,109.8 L172.9,107.5 L175.3,105.8 L177.6,104.9 L180.0,104.8 L182.1,105.8 L184.2,107.8 L186.2,110.9 L188.3,115.0 L190.4,119.9 L192.5,125.2 L194.5,130.8 L196.6,136.3 L198.7,141.5 L200.8,146.3 L202.8,150.7 L204.9,154.7 L207.0,158.2 L209.0,161.5 L211.1,164.6 L213.2,167.5 L215.3,170.4 L217.3,173.3 L219.4,176.1 L221.5,178.8 L223.6,181.4 L225.6,183.8 L227.7,186.0 L229.8,188.1 L233.9,191.7 L238.1,195.0 L242.2,198.5 L246.4,202.3 L250.5,206.3 L254.7,210.5 L268.8,225.0 L282.9,239.2 L297.0,253.1 L311.1,266.5 L325.2,279.4 L339.2,291.6 L353.3,303.2 L367.4,313.9" fill="none" stroke="#7E2F8E" stroke-width="1.1" stroke-linejoin="round"/>
<path d="M123.3,256.8 L130.3,224.0 L137.3,194.8 L144.3,169.2 L151.4,147.4 L153.7,141.0 L156.0,135.1 L158.4,129.6 L160.7,124.7 L163.1,120.2 L165.4,116.2 L167.7,112.8 L170.1,109.9 L172.4,107.7 L174.8,106.0 L177.1,105.1 L179.5,105.0 L181.5,106.0 L183.6,108.2 L185.6,111.5 L187.7,115.8 L189.7,120.9 L191.8,126.5 L193.8,132.1 L195.9,137.7 L197.9,142.9 L200.0,147.6 L202.1,151.8 L204.1,155.6 L206.2,159.0 L208.2,162.2 L210.3,165.1 L212.3,168.0 L214.4,170.8 L216.4,173.6 L218.5,176.4 L220.5,179.1 L222.6,181.7 L224.7,184.1 L226.7,186.3 L228.8,188.3 L232.9,191.9 L237.0,195.2 L241.1,198.7 L245.2,202.5 L249.3,206.5 L253.4,210.8 L267.5,225.4 L281.7,239.8 L295.8,253.7 L309.9,267.3 L324.0,280.3 L338.1,292.6 L352.3,304.2 L366.4,315.1" fill="none" stroke="#0072BD" stroke-width="1.1" stroke-linejoin="round"/>
<path d="M123.3,256.8 L130.2,222.4 L137.1,192.1 L144.0,166.0 L150.9,144.3 L153.2,138.1 L155.5,132.3 L157.8,127.1 L160.1,122.4 L162.4,118.2 L164.7,114.6 L167.0,111.5 L169.3,109.0 L171.6,107.1 L173.9,105.8 L176.2,105.1 L178.5,105.2 L180.6,106.1 L182.6,107.9 L184.7,110.7 L186.7,114.3 L188.8,118.6 L190.9,123.5 L192.9,128.6 L195.0,133.7 L197.0,138.7 L199.1,143.4 L201.1,147.8 L203.2,151.8 L205.2,155.4 L207.3,158.9 L209.3,162.1 L211.4,165.2 L213.4,168.2 L215.5,171.1 L217.6,173.9 L219.6,176.5 L221.7,178.9 L223.7,181.0 L225.8,183.0 L227.8,184.8 L231.9,188.2 L236.0,191.7 L240.1,195.5 L244.2,199.6 L248.4,203.8 L252.5,208.1 L266.7,223.1 L280.9,237.9 L295.2,252.2 L309.4,266.1 L323.6,279.4 L337.9,292.0 L352.1,304.0 L366.3,315.1" fill="none" stroke="#4DBEEE" stroke-width="1.1" stroke-linejoin="round"/>
<path d="M123.3,256.8 L130.2,224.0 L137.2,194.7 L144.1,169.1 L151.1,147.3 L153.4,140.9 L155.7,135.0 L158.1,129.5 L160.4,124.5 L162.7,120.1 L165.0,116.1 L167.3,112.7 L169.7,109.8 L172.0,107.5 L174.3,105.8 L176.6,104.9 L178.9,104.8 L181.0,105.9 L183.0,108.2 L185.1,111.8 L187.1,116.4 L189.2,121.8 L191.2,127.5 L193.3,133.3 L195.3,139.0 L197.4,144.1 L199.4,148.8 L201.5,152.9 L203.5,156.6 L205.6,159.9 L207.6,162.9 L209.7,165.8 L211.7,168.6 L213.7,171.4 L215.8,174.1 L217.8,176.9 L219.9,179.6 L221.9,182.1 L224.0,184.5 L226.0,186.7 L228.1,188.7 L232.2,192.3 L236.3,195.6 L240.4,199.1 L244.5,202.8 L248.6,206.9 L252.7,211.1 L266.8,225.7 L280.9,240.1 L295.0,254.1 L309.2,267.6 L323.3,280.6 L337.4,293.0 L351.6,304.6 L365.7,315.4" fill="none" stroke="#0072BD" stroke-width="1.1" stroke-linejoin="round"/>
<path d="M123.3,256.8 L130.2,223.9 L137.1,194.6 L144.0,168.9 L150.9,147.1 L153.2,140.7 L155.5,134.7 L157.8,129.3 L160.1,124.3 L162.4,119.8 L164.7,115.8 L167.0,112.4 L169.3,109.5 L171.6,107.2 L173.9,105.5 L176.2,104.6 L178.5,104.5 L180.5,105.6 L182.6,107.9 L184.6,111.4 L186.7,116.0 L188.7,121.3 L190.7,127.0 L192.8,132.9 L194.8,138.5 L196.9,143.7 L198.9,148.4 L201.0,152.6 L203.0,156.3 L205.1,159.7 L207.1,162.7 L209.2,165.6 L211.2,168.5 L213.3,171.3 L215.3,174.1 L217.4,176.9 L219.4,179.6 L221.5,182.1 L223.5,184.6 L225.6,186.8 L227.6,188.8 L231.7,192.4 L235.8,195.7 L239.9,199.2 L244.0,203.0 L248.1,207.1 L252.2,211.3 L266.1,225.9 L280.1,240.1 L294.0,254.0 L307.9,267.4 L321.8,280.3 L335.8,292.6 L349.7,304.1 L363.6,314.9" fill="none" stroke="#EDB120" stroke-width="1.1" stroke-linejoin="round"/>
<path d="M123.3,256.8 L130.0,224.0 L136.8,194.7 L143.5,169.1 L150.3,147.2 L152.6,140.8 L154.8,134.9 L157.1,129.4 L159.3,124.4 L161.6,120.0 L163.8,116.0 L166.1,112.5 L168.3,109.7 L170.6,107.4 L172.9,105.7 L175.1,104.7 L177.4,104.7 L179.4,105.6 L181.4,107.6 L183.5,110.5 L185.5,114.5 L187.6,119.1 L189.6,124.2 L191.7,129.6 L193.7,134.9 L195.8,140.0 L197.8,144.7 L199.9,149.0 L201.9,152.9 L203.9,156.5 L206.0,159.7 L208.0,162.8 L210.1,165.7 L212.1,168.6 L214.2,171.5 L216.2,174.3 L218.3,177.0 L220.3,179.6 L222.3,182.0 L224.4,184.3 L226.4,186.3 L230.5,189.9 L234.6,193.2 L238.7,196.7 L242.8,200.5 L246.9,204.6 L251.0,208.8 L265.3,223.8 L279.6,238.5 L293.9,252.8 L308.2,266.7 L322.5,280.0 L336.9,292.6 L351.2,304.5 L365.5,315.5" fill="none" stroke="#A2142F" stroke-width="1.1" stroke-linejoin="round"/>
<path d="M123.3,256.8 L130.1,224.0 L136.9,194.7 L143.8,169.0 L150.6,147.2 L152.9,140.8 L155.1,134.8 L157.4,129.4 L159.7,124.4 L162.0,119.9 L164.2,115.9 L166.5,112.5 L168.8,109.6 L171.1,107.3 L173.3,105.6 L175.6,104.7 L177.9,104.6 L179.9,105.5 L182.0,107.5 L184.0,110.4 L186.1,114.2 L188.1,118.8 L190.2,123.9 L192.2,129.2 L194.3,134.5 L196.3,139.6 L198.3,144.3 L200.4,148.6 L202.4,152.5 L204.5,156.0 L206.5,159.2 L208.6,162.3 L210.6,165.3 L212.7,168.2 L214.7,171.1 L216.7,173.9 L218.8,176.7 L220.8,179.3 L222.9,181.7 L224.9,184.0 L227.0,186.0 L231.1,189.6 L235.1,193.0 L239.2,196.5 L243.3,200.4 L247.4,204.6 L251.5,208.8 L265.6,223.8 L279.7,238.4 L293.9,252.7 L308.0,266.5 L322.1,279.7 L336.2,292.4 L350.3,304.2 L364.4,315.3" fill="none" stroke="#4DBEEE" stroke-width="1.1" stroke-linejoin="round"/>
<path d="M123.3,256.8 L130.1,224.0 L137.0,194.8 L143.9,169.2 L150.7,147.4 L153.0,141.0 L155.3,135.1 L157.6,129.6 L159.9,124.6 L162.2,120.2 L164.4,116.2 L166.7,112.8 L169.0,109.9 L171.3,107.6 L173.6,106.0 L175.9,105.0 L178.2,104.9 L180.2,106.0 L182.3,108.2 L184.3,111.6 L186.3,116.1 L188.4,121.3 L190.4,126.9 L192.5,132.7 L194.5,138.3 L196.5,143.5 L198.6,148.3 L200.6,152.5 L202.7,156.3 L204.7,159.7 L206.8,162.8 L208.8,165.8 L210.8,168.7 L212.9,171.5 L214.9,174.3 L217.0,177.1 L219.0,179.8 L221.0,182.4 L223.1,184.8 L225.1,187.1 L227.2,189.1 L231.3,192.6 L235.3,196.0 L239.4,199.5 L243.5,203.3 L247.6,207.4 L251.7,211.6 L265.6,226.1 L279.4,240.4 L293.3,254.3 L307.2,267.7 L321.1,280.6 L335.0,292.8 L348.9,304.4 L362.8,315.1" fill="none" stroke="#EDB120" stroke-width="1.1" stroke-linejoin="round"/>
<path d="M123.3,256.8 L130.0,224.0 L136.7,194.8 L143.5,169.2 L150.2,147.3 L152.4,141.0 L154.7,135.0 L156.9,129.6 L159.2,124.6 L161.4,120.1 L163.6,116.1 L165.9,112.7 L168.1,109.8 L170.4,107.5 L172.6,105.9 L174.9,104.9 L177.1,104.8 L179.1,105.8 L181.2,107.8 L183.2,110.8 L185.3,114.7 L187.3,119.4 L189.3,124.6 L191.4,129.9 L193.4,135.3 L195.5,140.4 L197.5,145.1 L199.5,149.4 L201.6,153.2 L203.6,156.7 L205.6,160.0 L207.7,163.0 L209.7,166.0 L211.8,168.9 L213.8,171.7 L215.8,174.5 L217.9,177.3 L219.9,179.9 L221.9,182.3 L224.0,184.5 L226.0,186.5 L230.1,190.1 L234.2,193.4 L238.3,196.9 L242.3,200.7 L246.4,204.8 L250.5,209.0 L264.8,224.0 L279.1,238.8 L293.3,253.1 L307.6,267.0 L321.9,280.3 L336.2,292.9 L350.5,304.8 L364.8,315.8" fill="none" stroke="#A2142F" stroke-width="1.1" stroke-linejoin="round"/>
<path d="M123.3,256.8 L130.1,224.0 L136.9,194.7 L143.7,169.1 L150.5,147.2 L152.7,140.9 L155.0,134.9 L157.3,129.5 L159.5,124.5 L161.8,120.0 L164.1,116.0 L166.3,112.6 L168.6,109.7 L170.9,107.4 L173.1,105.8 L175.4,104.8 L177.7,104.7 L179.7,105.7 L181.7,107.5 L183.8,110.3 L185.8,114.1 L187.9,118.5 L189.9,123.5 L191.9,128.7 L194.0,133.9 L196.0,138.9 L198.1,143.6 L200.1,147.8 L202.1,151.7 L204.2,155.3 L206.2,158.5 L208.2,161.6 L210.3,164.6 L212.3,167.5 L214.4,170.4 L216.4,173.3 L218.4,176.0 L220.5,178.7 L222.5,181.1 L224.5,183.4 L226.6,185.4 L230.7,189.1 L234.7,192.5 L238.8,196.0 L242.9,199.9 L247.0,204.1 L251.0,208.4 L265.1,223.4 L279.2,238.2 L293.3,252.6 L307.4,266.5 L321.5,279.8 L335.6,292.5 L349.6,304.5 L363.7,315.6" fill="none" stroke="#4DBEEE" stroke-width="1.1" stroke-linejoin="round"/>
<path d="M123.3,256.8 L130.1,224.0 L137.0,194.7 L143.9,169.1 L150.7,147.2 L153.0,140.8 L155.3,134.9 L157.6,129.5 L159.9,124.5 L162.2,120.0 L164.5,116.0 L166.8,112.6 L169.1,109.7 L171.3,107.4 L173.6,105.8 L175.9,104.8 L178.2,104.8 L180.3,105.8 L182.3,107.8 L184.3,111.0 L186.4,115.1 L188.4,119.9 L190.4,125.3 L192.5,130.9 L194.5,136.4 L196.5,141.7 L198.6,146.6 L200.6,151.1 L202.6,155.1 L204.7,158.7 L206.7,162.0 L208.7,165.1 L210.8,168.1 L212.8,171.1 L214.8,173.9 L216.9,176.8 L218.9,179.5 L220.9,182.1 L223.0,184.5 L225.0,186.8 L227.0,188.8 L231.1,192.3 L235.2,195.7 L239.3,199.2 L243.3,203.0 L247.4,207.1 L251.5,211.4 L265.4,226.0 L279.3,240.4 L293.2,254.4 L307.2,267.9 L321.1,280.9 L335.0,293.2 L348.9,304.8 L362.8,315.6" fill="none" stroke="#7E2F8E" stroke-width="1.1" stroke-linejoin="round"/>
<path d="M123.3,256.8 L130.0,224.0 L136.8,194.6 L143.6,169.0 L150.3,147.1 L152.6,140.7 L154.8,134.8 L157.1,129.3 L159.4,124.3 L161.6,119.8 L163.9,115.9 L166.1,112.4 L168.4,109.5 L170.6,107.2 L172.9,105.6 L175.1,104.6 L177.4,104.6 L179.4,105.6 L181.5,107.9 L183.5,111.4 L185.5,115.9 L187.6,121.2 L189.6,126.9 L191.6,132.7 L193.7,138.3 L195.7,143.5 L197.7,148.2 L199.8,152.4 L201.8,156.1 L203.9,159.4 L205.9,162.5 L207.9,165.4 L210.0,168.2 L212.0,171.0 L214.0,173.9 L216.1,176.6 L218.1,179.3 L220.1,181.9 L222.2,184.4 L224.2,186.6 L226.2,188.6 L230.3,192.1 L234.4,195.5 L238.4,199.0 L242.5,202.8 L246.6,206.9 L250.6,211.2 L264.6,225.8 L278.5,240.2 L292.5,254.2 L306.4,267.7 L320.3,280.7 L334.3,293.0 L348.2,304.6 L362.1,315.4" fill="none" stroke="#EDB120" stroke-width="1.1" stroke-linejoin="round"/>
<path d="M123.3,256.8 L130.0,224.1 L136.7,194.8 L143.5,169.2 L150.2,147.4 L152.4,141.1 L154.7,135.1 L156.9,129.7 L159.2,124.7 L161.4,120.2 L163.7,116.3 L165.9,112.8 L168.1,110.0 L170.4,107.7 L172.6,106.0 L174.9,105.1 L177.1,105.0 L179.2,106.0 L181.2,108.0 L183.2,111.1 L185.2,115.2 L187.3,120.0 L189.3,125.3 L191.3,130.7 L193.4,136.1 L195.4,141.3 L197.4,146.0 L199.5,150.3 L201.5,154.1 L203.5,157.6 L205.6,160.8 L207.6,163.9 L209.6,166.8 L211.7,169.7 L213.7,172.5 L215.7,175.3 L217.8,178.0 L219.8,180.6 L221.8,183.1 L223.9,185.3 L225.9,187.3 L230.0,190.8 L234.0,194.1 L238.1,197.6 L242.1,201.5 L246.2,205.6 L250.3,209.8 L264.5,224.7 L278.7,239.4 L292.8,253.7 L307.0,267.4 L321.2,280.7 L335.4,293.2 L349.6,305.0 L363.8,316.0" fill="none" stroke="#A2142F" stroke-width="1.1" stroke-linejoin="round"/>
<path d="M123.3,256.8 L129.9,224.0 L136.6,194.7 L143.3,169.0 L150.0,147.2 L152.2,140.8 L154.5,134.9 L156.7,129.4 L158.9,124.4 L161.1,119.9 L163.4,115.9 L165.6,112.5 L167.8,109.6 L170.1,107.3 L172.3,105.7 L174.5,104.7 L176.8,104.6 L178.8,105.6 L180.8,107.7 L182.8,110.8 L184.9,114.9 L186.9,119.7 L188.9,125.0 L191.0,130.5 L193.0,135.9 L195.0,141.0 L197.0,145.7 L199.1,149.9 L201.1,153.8 L203.1,157.2 L205.2,160.4 L207.2,163.4 L209.2,166.3 L211.2,169.2 L213.3,172.1 L215.3,174.9 L217.3,177.6 L219.4,180.2 L221.4,182.7 L223.4,184.9 L225.5,186.9 L229.5,190.5 L233.6,193.9 L237.6,197.4 L241.7,201.3 L245.7,205.4 L249.8,209.7 L263.8,224.6 L277.8,239.2 L291.8,253.4 L305.8,267.2 L319.8,280.4 L333.8,292.9 L347.8,304.7 L361.8,315.7" fill="none" stroke="#0072BD" stroke-width="1.1" stroke-linejoin="round"/>
<path d="M123.3,256.8 L130.1,224.0 L136.9,194.7 L143.8,169.1 L150.6,147.3 L152.9,140.9 L155.1,134.9 L157.4,129.5 L159.7,124.5 L162.0,120.0 L164.3,116.1 L166.5,112.6 L168.8,109.7 L171.1,107.5 L173.4,105.8 L175.6,104.9 L177.9,104.8 L179.9,105.8 L182.0,107.9 L184.0,111.1 L186.0,115.2 L188.1,120.1 L190.1,125.5 L192.1,131.2 L194.1,136.7 L196.2,142.1 L198.2,147.0 L200.2,151.5 L202.3,155.6 L204.3,159.2 L206.3,162.6 L208.3,165.8 L210.4,168.8 L212.4,171.7 L214.4,174.6 L216.4,177.4 L218.5,180.2 L220.5,182.8 L222.5,185.2 L224.6,187.4 L226.6,189.4 L230.6,192.9 L234.7,196.2 L238.8,199.7 L242.8,203.5 L246.9,207.6 L250.9,211.9 L264.8,226.5 L278.8,240.9 L292.7,254.9 L306.6,268.4 L320.5,281.3 L334.5,293.6 L348.4,305.2 L362.3,316.0" fill="none" stroke="#7E2F8E" stroke-width="1.1" stroke-linejoin="round"/>
<path d="M123.3,256.8 L130.2,222.5 L137.1,192.4 L144.0,166.5 L151.0,144.9 L153.3,138.7 L155.6,132.9 L157.9,127.8 L160.2,123.1 L162.5,118.9 L164.8,115.3 L167.1,112.3 L169.4,109.8 L171.8,107.9 L174.1,106.6 L176.4,106.0 L178.7,106.1 L180.7,107.3 L182.7,109.8 L184.8,113.7 L186.8,118.7 L188.8,124.5 L190.8,130.6 L192.9,136.6 L194.9,142.3 L196.9,147.5 L198.9,152.2 L201.0,156.2 L203.0,159.9 L205.0,163.1 L207.0,166.2 L209.1,169.1 L211.1,172.0 L213.1,174.8 L215.1,177.6 L217.2,180.3 L219.2,182.8 L221.2,185.1 L223.2,187.2 L225.3,189.1 L227.3,190.8 L231.3,194.1 L235.4,197.5 L239.4,201.3 L243.5,205.3 L247.5,209.5 L251.6,213.7 L265.3,228.1 L279.1,242.3 L292.8,256.0 L306.6,269.2 L320.3,282.0 L334.1,294.0 L347.8,305.4 L361.6,316.0" fill="none" stroke="#77AC30" stroke-width="1.1" stroke-linejoin="round"/>
<path d="M123.3,256.8 L130.0,224.0 L136.7,194.8 L143.4,169.2 L150.1,147.4 L152.3,141.0 L154.6,135.1 L156.8,129.7 L159.0,124.7 L161.3,120.2 L163.5,116.2 L165.7,112.8 L168.0,109.9 L170.2,107.7 L172.4,106.0 L174.7,105.1 L176.9,105.0 L178.9,106.0 L181.0,108.1 L183.0,111.3 L185.0,115.5 L187.0,120.4 L189.1,125.8 L191.1,131.4 L193.1,136.9 L195.1,142.0 L197.1,146.7 L199.2,151.0 L201.2,154.8 L203.2,158.2 L205.2,161.4 L207.3,164.4 L209.3,167.4 L211.3,170.2 L213.3,173.1 L215.3,175.9 L217.4,178.6 L219.4,181.3 L221.4,183.7 L223.4,185.9 L225.5,187.9 L229.5,191.5 L233.5,194.8 L237.6,198.4 L241.6,202.2 L245.7,206.4 L249.7,210.7 L263.6,225.5 L277.6,240.0 L291.5,254.1 L305.4,267.8 L319.3,280.9 L333.2,293.4 L347.1,305.1 L361.0,316.0" fill="none" stroke="#0072BD" stroke-width="1.1" stroke-linejoin="round"/>
<path d="M123.3,256.8 L130.1,224.0 L136.9,194.7 L143.7,169.1 L150.5,147.3 L152.7,140.9 L155.0,135.0 L157.3,129.5 L159.5,124.6 L161.8,120.1 L164.1,116.1 L166.3,112.7 L168.6,109.8 L170.9,107.5 L173.1,105.9 L175.4,105.0 L177.7,104.9 L179.7,105.9 L181.7,108.0 L183.7,111.2 L185.8,115.3 L187.8,120.2 L189.8,125.6 L191.8,131.2 L193.8,136.8 L195.9,142.1 L197.9,146.9 L199.9,151.4 L201.9,155.3 L203.9,158.9 L206.0,162.2 L208.0,165.4 L210.0,168.3 L212.0,171.3 L214.1,174.2 L216.1,177.0 L218.1,179.7 L220.1,182.3 L222.1,184.8 L224.2,187.0 L226.2,189.0 L230.2,192.5 L234.3,195.8 L238.3,199.3 L242.3,203.2 L246.4,207.3 L250.4,211.6 L264.3,226.3 L278.2,240.8 L292.1,254.8 L306.0,268.4 L319.9,281.4 L333.8,293.8 L347.7,305.4 L361.5,316.2" fill="none" stroke="#7E2F8E" stroke-width="1.1" stroke-linejoin="round"/>
<path d="M123.3,256.8 L130.1,224.2 L137.0,195.0 L143.8,169.5 L150.7,147.8 L152.9,141.5 L155.2,135.6 L157.5,130.2 L159.8,125.2 L162.1,120.8 L164.4,116.8 L166.6,113.4 L168.9,110.6 L171.2,108.3 L173.5,106.7 L175.8,105.8 L178.1,105.7 L180.1,106.8 L182.1,109.3 L184.1,113.1 L186.1,117.9 L188.2,123.5 L190.2,129.5 L192.2,135.6 L194.2,141.3 L196.2,146.6 L198.2,151.3 L200.3,155.5 L202.3,159.1 L204.3,162.4 L206.3,165.5 L208.3,168.3 L210.4,171.1 L212.4,173.9 L214.4,176.7 L216.4,179.5 L218.4,182.2 L220.4,184.8 L222.5,187.2 L224.5,189.3 L226.5,191.3 L230.5,194.8 L234.6,198.1 L238.6,201.6 L242.7,205.4 L246.7,209.5 L250.7,213.7 L264.5,228.1 L278.3,242.3 L292.0,256.1 L305.8,269.4 L319.5,282.1 L333.3,294.3 L347.1,305.7 L360.8,316.3" fill="none" stroke="#D95319" stroke-width="1.1" stroke-linejoin="round"/>
<path d="M123.3,256.8 L129.9,224.0 L136.6,194.8 L143.3,169.2 L150.0,147.4 L152.2,141.0 L154.4,135.1 L156.6,129.6 L158.9,124.7 L161.1,120.2 L163.3,116.2 L165.5,112.8 L167.8,109.9 L170.0,107.6 L172.2,106.0 L174.4,105.0 L176.7,105.0 L178.7,106.0 L180.7,108.1 L182.7,111.2 L184.7,115.4 L186.8,120.3 L188.8,125.7 L190.8,131.3 L192.8,136.7 L194.8,141.9 L196.8,146.6 L198.9,150.8 L200.9,154.7 L202.9,158.1 L204.9,161.3 L206.9,164.3 L208.9,167.3 L211.0,170.2 L213.0,173.0 L215.0,175.9 L217.0,178.6 L219.0,181.2 L221.0,183.7 L223.1,185.9 L225.1,187.9 L229.1,191.5 L233.1,194.8 L237.2,198.4 L241.2,202.3 L245.2,206.4 L249.3,210.7 L263.1,225.6 L277.0,240.1 L290.8,254.3 L304.7,267.9 L318.5,281.1 L332.4,293.5 L346.2,305.3 L360.1,316.2" fill="none" stroke="#0072BD" stroke-width="1.1" stroke-linejoin="round"/>
<path d="M123.3,256.8 L130.1,224.2 L136.9,195.1 L143.8,169.6 L150.6,147.9 L152.9,141.6 L155.2,135.7 L157.5,130.3 L159.8,125.3 L162.0,120.9 L164.3,117.0 L166.6,113.6 L168.9,110.7 L171.2,108.5 L173.4,106.8 L175.7,105.9 L178.0,105.9 L180.0,107.0 L182.0,109.6 L184.0,113.4 L186.1,118.4 L188.1,124.2 L190.1,130.3 L192.1,136.4 L194.1,142.3 L196.1,147.6 L198.1,152.3 L200.1,156.5 L202.1,160.2 L204.2,163.4 L206.2,166.4 L208.2,169.3 L210.2,172.1 L212.2,174.9 L214.2,177.7 L216.2,180.4 L218.2,183.1 L220.3,185.7 L222.3,188.1 L224.3,190.2 L226.3,192.2 L230.3,195.7 L234.3,198.9 L238.4,202.4 L242.4,206.2 L246.4,210.3 L250.4,214.5 L264.1,228.9 L277.8,243.0 L291.6,256.7 L305.3,269.9 L319.0,282.6 L332.7,294.7 L346.4,306.0 L360.1,316.5" fill="none" stroke="#D95319" stroke-width="1.1" stroke-linejoin="round"/>
<path d="M123.3,256.8 L130.2,224.2 L137.1,195.1 L144.0,169.7 L151.0,148.0 L153.3,141.7 L155.6,135.8 L157.9,130.4 L160.2,125.5 L162.5,121.1 L164.8,117.1 L167.1,113.7 L169.4,110.9 L171.7,108.6 L174.0,107.0 L176.3,106.1 L178.6,106.1 L180.7,107.2 L182.7,109.7 L184.7,113.6 L186.7,118.5 L188.7,124.2 L190.7,130.3 L192.7,136.5 L194.7,142.3 L196.8,147.7 L198.8,152.5 L200.8,156.7 L202.8,160.4 L204.8,163.7 L206.8,166.7 L208.8,169.6 L210.8,172.4 L212.9,175.3 L214.9,178.1 L216.9,180.8 L218.9,183.6 L220.9,186.1 L222.9,188.5 L224.9,190.7 L226.9,192.7 L231.0,196.2 L235.0,199.5 L239.0,202.9 L243.0,206.8 L247.1,210.9 L251.1,215.1 L264.6,229.4 L278.1,243.3 L291.6,256.9 L305.1,270.0 L318.6,282.6 L332.1,294.5 L345.6,305.8 L359.1,316.3" fill="none" stroke="#A2142F" stroke-width="1.1" stroke-linejoin="round"/>
<path d="M123.3,256.8 L130.1,224.3 L136.9,195.2 L143.6,169.8 L150.4,148.2 L152.7,141.9 L155.0,136.0 L157.2,130.6 L159.5,125.7 L161.8,121.2 L164.0,117.3 L166.3,113.9 L168.6,111.1 L170.8,108.8 L173.1,107.2 L175.4,106.3 L177.6,106.2 L179.6,107.3 L181.6,109.7 L183.7,113.3 L185.7,118.0 L187.7,123.4 L189.7,129.3 L191.7,135.1 L193.7,140.8 L195.7,145.9 L197.7,150.6 L199.7,154.7 L201.7,158.3 L203.8,161.6 L205.8,164.6 L207.8,167.5 L209.8,170.3 L211.8,173.1 L213.8,175.9 L215.8,178.7 L217.8,181.4 L219.8,184.0 L221.8,186.4 L223.9,188.6 L225.9,190.6 L229.9,194.1 L233.9,197.4 L237.9,200.9 L241.9,204.8 L246.0,208.9 L250.0,213.1 L263.7,227.7 L277.4,242.0 L291.2,255.9 L304.9,269.3 L318.6,282.2 L332.3,294.4 L346.1,305.9 L359.8,316.6" fill="none" stroke="#EDB120" stroke-width="1.1" stroke-linejoin="round"/>
<path d="M123.3,256.8 L130.0,224.3 L136.8,195.2 L143.6,169.8 L150.4,148.1 L152.6,141.8 L154.9,135.9 L157.2,130.5 L159.4,125.6 L161.7,121.2 L163.9,117.2 L166.2,113.8 L168.4,111.0 L170.7,108.7 L173.0,107.1 L175.2,106.2 L177.5,106.1 L179.5,107.3 L181.5,109.7 L183.5,113.4 L185.5,118.1 L187.5,123.6 L189.5,129.5 L191.5,135.4 L193.5,141.1 L195.5,146.4 L197.5,151.1 L199.5,155.2 L201.5,158.9 L203.5,162.2 L205.5,165.2 L207.5,168.1 L209.5,170.9 L211.6,173.7 L213.6,176.5 L215.6,179.3 L217.6,182.1 L219.6,184.6 L221.6,187.0 L223.6,189.2 L225.6,191.2 L229.6,194.7 L233.6,198.0 L237.6,201.5 L241.6,205.4 L245.6,209.5 L249.6,213.7 L263.3,228.3 L276.9,242.5 L290.6,256.3 L304.2,269.7 L317.9,282.5 L331.5,294.7 L345.1,306.1 L358.8,316.8" fill="none" stroke="#EDB120" stroke-width="1.1" stroke-linejoin="round"/>
<path d="M123.3,256.8 L129.9,223.9 L136.6,194.4 L143.2,168.7 L149.8,146.8 L152.1,140.4 L154.3,134.4 L156.5,128.9 L158.7,123.9 L160.9,119.4 L163.1,115.5 L165.3,112.0 L167.6,109.1 L169.8,106.8 L172.0,105.2 L174.2,104.2 L176.4,104.2 L178.4,105.2 L180.4,107.5 L182.4,110.9 L184.4,115.4 L186.4,120.6 L188.4,126.3 L190.4,132.1 L192.4,137.7 L194.4,142.9 L196.4,147.7 L198.5,151.9 L200.5,155.7 L202.5,159.0 L204.5,162.2 L206.5,165.1 L208.5,168.0 L210.5,170.9 L212.5,173.8 L214.5,176.6 L216.5,179.3 L218.5,181.9 L220.5,184.4 L222.5,186.6 L224.5,188.6 L228.5,192.1 L232.5,195.5 L236.5,199.0 L240.5,202.9 L244.5,207.1 L248.5,211.4 L262.3,226.3 L276.0,240.8 L289.8,255.0 L303.5,268.6 L317.3,281.7 L331.1,294.2 L344.8,305.9 L358.6,316.8" fill="none" stroke="#4DBEEE" stroke-width="1.1" stroke-linejoin="round"/>
<path d="M123.3,256.8 L129.9,223.9 L136.5,194.5 L143.2,168.8 L149.8,146.9 L152.0,140.5 L154.2,134.5 L156.4,129.0 L158.6,124.0 L160.9,119.5 L163.1,115.6 L165.3,112.1 L167.5,109.2 L169.7,106.9 L171.9,105.3 L174.1,104.3 L176.3,104.3 L178.3,105.4 L180.3,107.9 L182.3,111.8 L184.3,116.7 L186.3,122.3 L188.3,128.3 L190.3,134.3 L192.3,139.9 L194.3,145.0 L196.3,149.6 L198.3,153.5 L200.3,157.0 L202.3,160.2 L204.3,163.1 L206.3,165.9 L208.3,168.7 L210.3,171.5 L212.3,174.3 L214.3,177.1 L216.3,179.8 L218.3,182.4 L220.3,184.8 L222.3,187.0 L224.3,189.0 L228.3,192.5 L232.3,195.9 L236.3,199.4 L240.3,203.3 L244.3,207.5 L248.3,211.8 L262.1,226.6 L275.9,241.1 L289.7,255.3 L303.5,268.9 L317.3,282.0 L331.1,294.5 L344.9,306.2 L358.7,317.0" fill="none" stroke="#77AC30" stroke-width="1.1" stroke-linejoin="round"/>
<path d="M123.3,256.8 L130.0,224.0 L136.7,194.7 L143.4,169.1 L150.1,147.3 L152.3,141.0 L154.5,135.0 L156.8,129.6 L159.0,124.6 L161.2,120.1 L163.5,116.2 L165.7,112.8 L167.9,109.9 L170.2,107.6 L172.4,106.0 L174.6,105.0 L176.9,105.0 L178.8,106.0 L180.8,108.2 L182.8,111.5 L184.8,115.8 L186.8,120.9 L188.8,126.5 L190.8,132.2 L192.8,137.9 L194.8,143.4 L196.8,148.4 L198.8,152.9 L200.8,157.0 L202.8,160.7 L204.8,164.0 L206.8,167.2 L208.8,170.2 L210.8,173.2 L212.8,176.1 L214.8,178.9 L216.8,181.7 L218.8,184.3 L220.8,186.7 L222.8,188.9 L224.8,190.9 L228.8,194.4 L232.8,197.7 L236.8,201.2 L240.8,205.1 L244.8,209.2 L248.7,213.5 L262.4,228.1 L276.0,242.4 L289.6,256.3 L303.2,269.7 L316.8,282.6 L330.4,294.8 L344.0,306.3 L357.7,317.0" fill="none" stroke="#0072BD" stroke-width="1.1" stroke-linejoin="round"/>
<path d="M123.3,256.8 L129.9,223.9 L136.5,194.5 L143.1,168.8 L149.8,146.9 L152.0,140.5 L154.2,134.6 L156.4,129.1 L158.6,124.1 L160.8,119.6 L163.0,115.7 L165.2,112.2 L167.5,109.3 L169.7,107.1 L171.9,105.4 L174.1,104.5 L176.3,104.4 L178.3,105.5 L180.3,107.7 L182.3,111.1 L184.3,115.4 L186.3,120.6 L188.3,126.2 L190.3,131.9 L192.3,137.5 L194.3,142.8 L196.3,147.5 L198.2,151.8 L200.2,155.6 L202.2,159.0 L204.2,162.2 L206.2,165.2 L208.2,168.1 L210.2,171.0 L212.2,173.8 L214.2,176.7 L216.2,179.4 L218.2,182.0 L220.2,184.5 L222.2,186.7 L224.2,188.7 L228.2,192.2 L232.2,195.5 L236.2,199.1 L240.2,203.0 L244.1,207.2 L248.1,211.5 L261.9,226.4 L275.6,241.0 L289.3,255.2 L303.1,268.9 L316.8,282.0 L330.5,294.5 L344.3,306.3 L358.0,317.2" fill="none" stroke="#4DBEEE" stroke-width="1.1" stroke-linejoin="round"/>
<path d="M123.3,256.8 L129.8,222.6 L136.4,192.5 L142.9,166.6 L149.5,145.0 L151.7,138.8 L153.9,133.1 L156.1,127.9 L158.3,123.3 L160.4,119.1 L162.6,115.5 L164.8,112.5 L167.0,110.0 L169.2,108.1 L171.4,106.8 L173.6,106.2 L175.7,106.3 L177.7,107.3 L179.7,109.5 L181.7,112.8 L183.7,117.0 L185.7,122.1 L187.7,127.5 L189.7,133.1 L191.7,138.5 L193.7,143.6 L195.7,148.3 L197.7,152.5 L199.7,156.3 L201.7,159.7 L203.7,162.9 L205.7,166.0 L207.7,169.0 L209.7,171.9 L211.7,174.8 L213.6,177.5 L215.6,180.0 L217.6,182.4 L219.6,184.5 L221.6,186.4 L223.6,188.1 L227.6,191.5 L231.6,194.9 L235.6,198.7 L239.6,202.9 L243.6,207.2 L247.6,211.5 L261.4,226.4 L275.2,241.0 L289.0,255.2 L302.8,269.0 L316.6,282.1 L330.5,294.6 L344.3,306.3 L358.1,317.3" fill="none" stroke="#D95319" stroke-width="1.1" stroke-linejoin="round"/>
<path d="M123.3,256.8 L129.9,223.9 L136.5,194.5 L143.1,168.8 L149.8,146.9 L152.0,140.5 L154.2,134.6 L156.4,129.1 L158.6,124.1 L160.8,119.6 L163.0,115.6 L165.2,112.2 L167.4,109.3 L169.7,107.0 L171.9,105.4 L174.1,104.4 L176.3,104.4 L178.3,105.5 L180.3,108.1 L182.3,111.9 L184.3,116.9 L186.3,122.6 L188.2,128.6 L190.2,134.6 L192.2,140.3 L194.2,145.4 L196.2,149.9 L198.2,153.9 L200.2,157.4 L202.2,160.5 L204.2,163.4 L206.2,166.3 L208.2,169.0 L210.2,171.8 L212.2,174.7 L214.2,177.5 L216.2,180.2 L218.2,182.8 L220.1,185.2 L222.1,187.4 L224.1,189.4 L228.1,192.9 L232.1,196.2 L236.1,199.8 L240.1,203.7 L244.1,207.9 L248.1,212.2 L261.8,227.0 L275.5,241.5 L289.2,255.6 L302.9,269.2 L316.6,282.3 L330.3,294.7 L344.0,306.4 L357.7,317.2" fill="none" stroke="#77AC30" stroke-width="1.1" stroke-linejoin="round"/>
<path d="M123.3,256.8 L129.9,223.9 L136.6,194.6 L143.2,168.9 L149.9,147.1 L152.1,140.7 L154.3,134.8 L156.5,129.3 L158.7,124.3 L161.0,119.8 L163.2,115.9 L165.4,112.4 L167.6,109.6 L169.8,107.3 L172.1,105.6 L174.3,104.7 L176.5,104.6 L178.5,105.7 L180.5,108.1 L182.5,111.7 L184.5,116.3 L186.4,121.7 L188.4,127.6 L190.4,133.6 L192.4,139.4 L194.4,144.9 L196.4,149.9 L198.4,154.4 L200.4,158.3 L202.4,161.9 L204.4,165.1 L206.4,168.2 L208.3,171.1 L210.3,174.0 L212.3,176.9 L214.3,179.7 L216.3,182.5 L218.3,185.1 L220.3,187.5 L222.3,189.7 L224.3,191.6 L228.3,195.1 L232.2,198.4 L236.2,201.9 L240.2,205.8 L244.2,209.9 L248.2,214.2 L261.7,228.7 L275.3,243.0 L288.9,256.8 L302.4,270.2 L316.0,283.0 L329.6,295.1 L343.1,306.6 L356.7,317.2" fill="none" stroke="#0072BD" stroke-width="1.1" stroke-linejoin="round"/>
<path d="M123.3,256.8 L129.9,223.9 L136.5,194.6 L143.2,168.9 L149.8,147.1 L152.0,140.7 L154.2,134.8 L156.4,129.3 L158.6,124.3 L160.8,119.9 L163.1,115.9 L165.3,112.5 L167.5,109.6 L169.7,107.3 L171.9,105.7 L174.1,104.7 L176.3,104.7 L178.3,105.8 L180.3,108.4 L182.3,112.2 L184.3,117.2 L186.3,122.9 L188.2,128.9 L190.2,134.8 L192.2,140.4 L194.2,145.5 L196.2,149.9 L198.2,153.9 L200.2,157.3 L202.1,160.4 L204.1,163.3 L206.1,166.1 L208.1,168.9 L210.1,171.7 L212.1,174.5 L214.1,177.3 L216.1,180.1 L218.0,182.7 L220.0,185.1 L222.0,187.3 L224.0,189.3 L228.0,192.8 L231.9,196.1 L235.9,199.7 L239.9,203.7 L243.9,207.9 L247.8,212.2 L261.5,227.0 L275.2,241.6 L288.8,255.8 L302.5,269.4 L316.1,282.5 L329.8,295.0 L343.5,306.7 L357.1,317.6" fill="none" stroke="#77AC30" stroke-width="1.1" stroke-linejoin="round"/>
<path d="M123.3,256.8 L129.9,224.2 L136.5,195.1 L143.1,169.7 L149.8,148.0 L152.0,141.7 L154.2,135.8 L156.4,130.4 L158.6,125.5 L160.8,121.0 L163.0,117.1 L165.2,113.7 L167.4,110.8 L169.6,108.6 L171.9,107.0 L174.1,106.0 L176.3,106.0 L178.3,107.0 L180.2,109.0 L182.2,112.1 L184.2,116.1 L186.2,120.9 L188.2,126.2 L190.2,131.8 L192.1,137.4 L194.1,142.7 L196.1,147.7 L198.1,152.3 L200.1,156.4 L202.1,160.2 L204.1,163.6 L206.0,166.8 L208.0,169.9 L210.0,172.9 L212.0,175.9 L214.0,178.8 L216.0,181.6 L217.9,184.2 L219.9,186.6 L221.9,188.8 L223.9,190.7 L227.9,194.2 L231.8,197.5 L235.8,201.0 L239.8,204.9 L243.7,209.0 L247.7,213.3 L261.4,228.1 L275.1,242.5 L288.8,256.6 L302.5,270.1 L316.2,283.1 L329.9,295.5 L343.6,307.0 L357.3,317.8" fill="none" stroke="#A2142F" stroke-width="1.1" stroke-linejoin="round"/>
<path d="M123.3,256.8 L129.8,224.0 L136.4,194.8 L143.0,169.2 L149.5,147.4 L151.7,141.0 L153.9,135.1 L156.1,129.6 L158.3,124.7 L160.5,120.2 L162.6,116.2 L164.8,112.8 L167.0,110.0 L169.2,107.7 L171.4,106.0 L173.6,105.1 L175.8,105.0 L177.7,106.0 L179.7,107.9 L181.7,110.7 L183.7,114.5 L185.7,119.0 L187.7,124.0 L189.6,129.2 L191.6,134.5 L193.6,139.6 L195.6,144.4 L197.6,148.8 L199.6,152.8 L201.5,156.4 L203.5,159.8 L205.5,163.0 L207.5,166.1 L209.5,169.1 L211.4,172.0 L213.4,174.9 L215.4,177.7 L217.4,180.4 L219.4,182.8 L221.4,185.0 L223.3,187.0 L227.3,190.6 L231.3,193.9 L235.2,197.5 L239.2,201.5 L243.2,205.7 L247.1,210.1 L261.0,225.3 L274.9,240.3 L288.7,254.8 L302.6,268.8 L316.5,282.2 L330.3,295.0 L344.2,307.0 L358.1,318.2" fill="none" stroke="#7E2F8E" stroke-width="1.1" stroke-linejoin="round"/>
<path d="M123.3,256.8 L129.8,224.1 L136.4,194.9 L143.0,169.3 L149.6,147.6 L151.8,141.2 L154.0,135.3 L156.2,129.9 L158.4,125.0 L160.6,120.5 L162.8,116.6 L165.0,113.1 L167.2,110.3 L169.3,108.0 L171.5,106.4 L173.7,105.5 L175.9,105.4 L177.9,106.4 L179.9,108.3 L181.9,111.3 L183.8,115.2 L185.8,119.8 L187.8,124.9 L189.8,130.3 L191.7,135.6 L193.7,140.7 L195.7,145.5 L197.7,149.8 L199.6,153.8 L201.6,157.4 L203.6,160.7 L205.6,163.8 L207.5,166.8 L209.5,169.8 L211.5,172.7 L213.5,175.6 L215.4,178.4 L217.4,181.1 L219.4,183.5 L221.4,185.7 L223.3,187.7 L227.3,191.2 L231.3,194.6 L235.2,198.2 L239.2,202.2 L243.1,206.4 L247.1,210.8 L260.8,226.0 L274.6,240.8 L288.3,255.3 L302.1,269.3 L315.9,282.6 L329.6,295.3 L343.4,307.3 L357.1,318.4" fill="none" stroke="#7E2F8E" stroke-width="1.1" stroke-linejoin="round"/>
<path d="M123.3,256.8 L129.8,224.0 L136.3,194.8 L142.7,169.2 L149.2,147.4 L151.4,141.0 L153.6,135.1 L155.7,129.6 L157.9,124.7 L160.1,120.2 L162.2,116.3 L164.4,112.8 L166.6,110.0 L168.7,107.7 L170.9,106.1 L173.1,105.1 L175.2,105.1 L177.2,106.0 L179.2,107.8 L181.1,110.6 L183.1,114.2 L185.1,118.6 L187.0,123.5 L189.0,128.7 L190.9,134.1 L192.9,139.3 L194.9,144.3 L196.8,148.9 L198.8,153.1 L200.8,157.0 L202.7,160.6 L204.7,164.0 L206.7,167.3 L208.6,170.4 L210.6,173.5 L212.6,176.5 L214.5,179.3 L216.5,182.0 L218.5,184.4 L220.4,186.6 L222.4,188.6 L226.3,192.1 L230.3,195.5 L234.2,199.1 L238.1,203.1 L242.1,207.4 L246.0,211.8 L259.6,226.8 L273.1,241.6 L286.7,255.9 L300.3,269.7 L313.8,283.0 L327.4,295.6 L341.0,307.4 L354.5,318.4" fill="none" stroke="#0072BD" stroke-width="1.1" stroke-linejoin="round"/>
<path d="M123.3,256.8 L129.8,222.7 L136.4,192.8 L143.0,167.0 L149.5,145.6 L151.7,139.4 L153.9,133.7 L156.1,128.6 L158.3,123.9 L160.5,119.8 L162.6,116.3 L164.8,113.2 L167.0,110.8 L169.2,108.9 L171.4,107.7 L173.6,107.0 L175.8,107.2 L177.7,108.3 L179.7,110.7 L181.7,114.3 L183.6,118.9 L185.6,124.3 L187.6,130.1 L189.5,135.8 L191.5,141.2 L193.4,146.2 L195.4,150.7 L197.4,154.7 L199.3,158.2 L201.3,161.5 L203.3,164.5 L205.2,167.5 L207.2,170.4 L209.2,173.3 L211.1,176.2 L213.1,178.9 L215.1,181.4 L217.0,183.7 L219.0,185.8 L220.9,187.7 L222.9,189.4 L226.8,192.8 L230.8,196.3 L234.7,200.2 L238.6,204.3 L242.5,208.7 L246.5,213.0 L260.0,228.0 L273.6,242.6 L287.1,256.8 L300.6,270.5 L314.2,283.6 L327.7,296.0 L341.2,307.7 L354.8,318.6" fill="none" stroke="#A2142F" stroke-width="1.1" stroke-linejoin="round"/>
<path d="M123.3,256.8 L129.7,224.3 L136.2,195.2 L142.6,169.8 L149.1,148.1 L151.2,141.8 L153.4,135.9 L155.5,130.5 L157.7,125.6 L159.8,121.2 L162.0,117.2 L164.1,113.8 L166.3,111.0 L168.5,108.8 L170.6,107.1 L172.8,106.2 L174.9,106.2 L176.9,107.1 L178.8,108.8 L180.8,111.5 L182.8,115.0 L184.7,119.3 L186.7,124.0 L188.6,129.1 L190.6,134.3 L192.6,139.3 L194.5,144.1 L196.5,148.6 L198.5,152.6 L200.4,156.4 L202.4,159.9 L204.3,163.2 L206.3,166.3 L208.3,169.4 L210.2,172.4 L212.2,175.4 L214.2,178.2 L216.1,180.9 L218.1,183.4 L220.0,185.6 L222.0,187.6 L225.9,191.1 L229.9,194.5 L233.8,198.1 L237.7,202.2 L241.6,206.4 L245.5,210.8 L259.2,226.0 L272.8,241.0 L286.4,255.5 L300.0,269.4 L313.7,282.8 L327.3,295.6 L340.9,307.5 L354.5,318.7" fill="none" stroke="#EDB120" stroke-width="1.1" stroke-linejoin="round"/>
<path d="M123.3,256.8 L129.7,224.1 L136.2,195.0 L142.7,169.4 L149.1,147.7 L151.3,141.4 L153.5,135.5 L155.6,130.1 L157.8,125.1 L159.9,120.7 L162.1,116.7 L164.2,113.3 L166.4,110.5 L168.6,108.2 L170.7,106.6 L172.9,105.7 L175.0,105.6 L177.0,106.5 L179.0,108.4 L180.9,111.3 L182.9,115.0 L184.8,119.5 L186.8,124.5 L188.8,129.8 L190.7,135.1 L192.7,140.2 L194.6,145.0 L196.6,149.3 L198.6,153.4 L200.5,157.0 L202.5,160.4 L204.4,163.6 L206.4,166.7 L208.4,169.7 L210.3,172.7 L212.3,175.6 L214.2,178.5 L216.2,181.1 L218.2,183.6 L220.1,185.8 L222.1,187.8 L226.0,191.3 L229.9,194.7 L233.8,198.3 L237.8,202.4 L241.7,206.7 L245.6,211.0 L259.2,226.2 L272.8,241.1 L286.4,255.6 L300.0,269.6 L313.6,283.0 L327.2,295.7 L340.8,307.7 L354.4,318.8" fill="none" stroke="#77AC30" stroke-width="1.1" stroke-linejoin="round"/>
<path d="M123.3,256.8 L129.7,224.0 L136.1,194.7 L142.6,169.1 L149.0,147.3 L151.1,140.9 L153.3,135.0 L155.4,129.6 L157.6,124.6 L159.7,120.1 L161.9,116.2 L164.0,112.8 L166.2,109.9 L168.3,107.6 L170.5,106.0 L172.6,105.1 L174.7,105.0 L176.7,106.0 L178.7,107.9 L180.6,110.8 L182.6,114.6 L184.5,119.2 L186.5,124.3 L188.5,129.6 L190.4,135.1 L192.4,140.4 L194.3,145.3 L196.3,149.9 L198.3,154.1 L200.2,158.0 L202.2,161.5 L204.1,164.8 L206.1,168.0 L208.1,171.1 L210.0,174.1 L212.0,177.1 L213.9,179.9 L215.9,182.6 L217.9,185.0 L219.8,187.2 L221.8,189.2 L225.7,192.7 L229.6,196.0 L233.5,199.7 L237.5,203.7 L241.4,207.9 L245.3,212.3 L258.8,227.3 L272.3,242.0 L285.8,256.3 L299.4,270.1 L312.9,283.3 L326.4,295.8 L339.9,307.6 L353.4,318.6" fill="none" stroke="#0072BD" stroke-width="1.1" stroke-linejoin="round"/>
<path d="M123.3,256.8 L129.8,224.2 L136.3,195.2 L142.9,169.7 L149.4,148.1 L151.6,141.8 L153.8,135.9 L156.0,130.5 L158.2,125.6 L160.3,121.1 L162.5,117.2 L164.7,113.8 L166.9,111.0 L169.1,108.7 L171.2,107.1 L173.4,106.2 L175.6,106.2 L177.6,107.2 L179.5,109.2 L181.5,112.3 L183.4,116.3 L185.4,121.0 L187.4,126.3 L189.3,131.9 L191.3,137.5 L193.2,142.8 L195.2,147.9 L197.1,152.5 L199.1,156.7 L201.1,160.5 L203.0,164.0 L205.0,167.3 L206.9,170.4 L208.9,173.5 L210.8,176.4 L212.8,179.4 L214.8,182.2 L216.7,184.8 L218.7,187.2 L220.6,189.4 L222.6,191.3 L226.5,194.8 L230.4,198.1 L234.3,201.7 L238.3,205.6 L242.2,209.8 L246.1,214.2 L259.5,229.0 L273.0,243.5 L286.5,257.5 L299.9,271.1 L313.4,284.1 L326.8,296.5 L340.3,308.1 L353.8,318.8" fill="none" stroke="#A2142F" stroke-width="1.1" stroke-linejoin="round"/>
<path d="M123.3,256.8 L129.7,224.0 L136.2,194.8 L142.7,169.2 L149.2,147.4 L151.3,141.1 L153.5,135.2 L155.7,129.7 L157.8,124.8 L160.0,120.3 L162.1,116.3 L164.3,112.9 L166.5,110.1 L168.6,107.8 L170.8,106.2 L172.9,105.3 L175.1,105.2 L177.0,106.1 L179.0,108.0 L181.0,110.8 L182.9,114.4 L184.9,118.8 L186.8,123.8 L188.8,129.1 L190.7,134.4 L192.7,139.7 L194.7,144.7 L196.6,149.4 L198.6,153.7 L200.5,157.6 L202.5,161.2 L204.4,164.6 L206.4,167.9 L208.3,171.1 L210.3,174.1 L212.3,177.1 L214.2,180.0 L216.2,182.6 L218.1,185.1 L220.1,187.3 L222.0,189.2 L226.0,192.7 L229.9,196.1 L233.8,199.7 L237.7,203.7 L241.6,207.9 L245.5,212.3 L259.1,227.4 L272.7,242.1 L286.3,256.5 L299.9,270.4 L313.5,283.6 L327.0,296.2 L340.6,308.1 L354.2,319.0" fill="none" stroke="#D95319" stroke-width="1.1" stroke-linejoin="round"/>
<path d="M123.3,256.8 L129.7,224.2 L136.2,195.0 L142.6,169.5 L149.1,147.8 L151.2,141.5 L153.4,135.6 L155.5,130.2 L157.7,125.2 L159.8,120.8 L162.0,116.9 L164.2,113.5 L166.3,110.6 L168.5,108.4 L170.6,106.7 L172.8,105.8 L174.9,105.8 L176.9,106.7 L178.8,108.5 L180.8,111.3 L182.7,115.0 L184.7,119.4 L186.6,124.4 L188.6,129.6 L190.5,134.8 L192.5,139.9 L194.4,144.7 L196.4,149.1 L198.4,153.1 L200.3,156.8 L202.3,160.2 L204.2,163.4 L206.2,166.5 L208.1,169.6 L210.1,172.6 L212.0,175.5 L214.0,178.4 L215.9,181.0 L217.9,183.5 L219.8,185.7 L221.8,187.7 L225.7,191.2 L229.6,194.6 L233.5,198.3 L237.4,202.3 L241.3,206.6 L245.2,211.0 L258.8,226.3 L272.4,241.2 L285.9,255.8 L299.5,269.8 L313.0,283.2 L326.6,296.0 L340.1,308.0 L353.7,319.1" fill="none" stroke="#77AC30" stroke-width="1.1" stroke-linejoin="round"/>
<path d="M123.3,256.8 L129.8,224.3 L136.2,195.2 L142.7,169.8 L149.2,148.2 L151.4,141.9 L153.6,136.0 L155.7,130.6 L157.9,125.7 L160.1,121.3 L162.2,117.3 L164.4,114.0 L166.5,111.1 L168.7,108.9 L170.9,107.3 L173.0,106.4 L175.2,106.3 L177.2,107.2 L179.1,109.0 L181.1,111.6 L183.0,115.1 L185.0,119.4 L186.9,124.2 L188.9,129.3 L190.8,134.6 L192.8,139.9 L194.7,144.9 L196.7,149.6 L198.6,154.0 L200.6,158.1 L202.5,161.9 L204.5,165.4 L206.5,168.7 L208.4,172.0 L210.4,175.1 L212.3,178.1 L214.3,181.0 L216.2,183.7 L218.2,186.2 L220.1,188.4 L222.1,190.3 L226.0,193.8 L229.9,197.1 L233.8,200.8 L237.7,204.8 L241.6,209.0 L245.5,213.4 L259.0,228.3 L272.4,242.9 L285.8,257.1 L299.3,270.8 L312.7,283.9 L326.2,296.4 L339.6,308.1 L353.0,318.9" fill="none" stroke="#4DBEEE" stroke-width="1.1" stroke-linejoin="round"/>
<path d="M123.3,256.8 L129.7,224.0 L136.1,194.7 L142.5,169.1 L148.9,147.3 L151.0,140.9 L153.1,135.0 L155.3,129.6 L157.4,124.6 L159.5,120.1 L161.7,116.2 L163.8,112.8 L165.9,109.9 L168.1,107.6 L170.2,106.0 L172.3,105.1 L174.5,105.0 L176.4,106.0 L178.4,107.8 L180.3,110.7 L182.3,114.4 L184.2,118.9 L186.2,124.0 L188.1,129.3 L190.1,134.7 L192.0,140.1 L194.0,145.1 L196.0,149.8 L197.9,154.1 L199.9,158.0 L201.8,161.6 L203.8,165.0 L205.7,168.3 L207.7,171.4 L209.6,174.5 L211.6,177.5 L213.5,180.3 L215.5,183.0 L217.4,185.4 L219.4,187.6 L221.3,189.6 L225.3,193.0 L229.2,196.4 L233.1,200.0 L237.0,204.0 L240.9,208.3 L244.8,212.6 L258.3,227.7 L271.8,242.4 L285.3,256.7 L298.8,270.4 L312.3,283.6 L325.8,296.2 L339.3,307.9 L352.8,318.9" fill="none" stroke="#0072BD" stroke-width="1.1" stroke-linejoin="round"/>
<path d="M123.3,256.8 L129.8,224.3 L136.3,195.2 L142.7,169.8 L149.2,148.1 L151.4,141.8 L153.6,136.0 L155.7,130.5 L157.9,125.6 L160.1,121.2 L162.2,117.3 L164.4,113.9 L166.6,111.1 L168.7,108.8 L170.9,107.2 L173.1,106.3 L175.2,106.2 L177.2,107.2 L179.1,109.1 L181.1,112.0 L183.0,115.8 L185.0,120.4 L186.9,125.5 L188.9,130.9 L190.8,136.3 L192.8,141.6 L194.7,146.6 L196.7,151.3 L198.6,155.5 L200.6,159.4 L202.5,163.0 L204.5,166.3 L206.4,169.6 L208.4,172.7 L210.3,175.7 L212.3,178.7 L214.2,181.5 L216.2,184.2 L218.1,186.6 L220.1,188.8 L222.0,190.7 L226.0,194.2 L229.9,197.5 L233.8,201.1 L237.7,205.1 L241.6,209.3 L245.5,213.6 L258.9,228.6 L272.4,243.2 L285.8,257.4 L299.3,271.1 L312.8,284.2 L326.2,296.6 L339.7,308.3 L353.2,319.2" fill="none" stroke="#A2142F" stroke-width="1.1" stroke-linejoin="round"/>
<path d="M123.3,256.8 L129.7,224.2 L136.2,195.2 L142.7,169.7 L149.2,148.1 L151.3,141.7 L153.5,135.9 L155.6,130.5 L157.8,125.5 L160.0,121.1 L162.1,117.2 L164.3,113.8 L166.4,111.0 L168.6,108.7 L170.8,107.1 L172.9,106.2 L175.1,106.2 L177.0,107.1 L179.0,108.8 L180.9,111.5 L182.9,115.0 L184.8,119.3 L186.8,124.1 L188.7,129.2 L190.7,134.5 L192.6,139.7 L194.5,144.7 L196.5,149.4 L198.4,153.7 L200.4,157.7 L202.3,161.4 L204.3,164.9 L206.2,168.2 L208.2,171.4 L210.1,174.5 L212.1,177.5 L214.0,180.4 L216.0,183.1 L217.9,185.5 L219.8,187.7 L221.8,189.7 L225.7,193.2 L229.6,196.5 L233.5,200.2 L237.4,204.2 L241.3,208.5 L245.1,212.9 L258.6,227.9 L272.0,242.7 L285.5,257.0 L298.9,270.8 L312.4,284.0 L325.8,296.6 L339.3,308.4 L352.7,319.4" fill="none" stroke="#4DBEEE" stroke-width="1.1" stroke-linejoin="round"/>
<path d="M123.3,256.8 L129.8,222.8 L136.4,193.0 L142.9,167.3 L149.5,145.9 L151.7,139.8 L153.9,134.2 L156.1,129.0 L158.2,124.4 L160.4,120.3 L162.6,116.8 L164.8,113.8 L167.0,111.3 L169.2,109.5 L171.4,108.2 L173.5,107.7 L175.7,107.8 L177.7,108.9 L179.6,111.2 L181.6,114.6 L183.5,119.1 L185.5,124.3 L187.4,130.0 L189.3,135.8 L191.3,141.5 L193.2,146.8 L195.2,151.6 L197.1,155.9 L199.1,159.8 L201.0,163.3 L202.9,166.6 L204.9,169.8 L206.8,172.9 L208.8,175.8 L210.7,178.7 L212.7,181.4 L214.6,184.0 L216.6,186.3 L218.5,188.3 L220.4,190.1 L222.4,191.9 L226.3,195.1 L230.2,198.6 L234.0,202.5 L237.9,206.7 L241.8,211.0 L245.7,215.3 L259.1,230.1 L272.5,244.5 L285.8,258.6 L299.2,272.1 L312.6,285.1 L325.9,297.3 L339.3,308.9 L352.7,319.6" fill="none" stroke="#EDB120" stroke-width="1.1" stroke-linejoin="round"/>
<path d="M123.3,256.8 L129.7,224.2 L136.2,195.2 L142.7,169.8 L149.1,148.2 L151.3,141.8 L153.5,136.0 L155.6,130.6 L157.8,125.6 L159.9,121.2 L162.1,117.3 L164.2,113.9 L166.4,111.1 L168.6,108.8 L170.7,107.2 L172.9,106.3 L175.0,106.3 L177.0,107.2 L178.9,109.1 L180.9,111.9 L182.8,115.5 L184.7,120.0 L186.7,124.9 L188.6,130.2 L190.6,135.6 L192.5,140.9 L194.4,146.0 L196.4,150.7 L198.3,155.0 L200.3,159.0 L202.2,162.7 L204.1,166.2 L206.1,169.4 L208.0,172.6 L210.0,175.7 L211.9,178.7 L213.8,181.6 L215.8,184.3 L217.7,186.7 L219.6,188.9 L221.6,190.8 L225.5,194.3 L229.3,197.6 L233.2,201.3 L237.1,205.3 L241.0,209.5 L244.9,213.9 L258.3,228.9 L271.6,243.5 L285.0,257.7 L298.4,271.5 L311.8,284.6 L325.2,297.1 L338.6,308.8 L351.9,319.6" fill="none" stroke="#4DBEEE" stroke-width="1.1" stroke-linejoin="round"/>
<path d="M123.3,256.8 L129.6,224.1 L136.0,194.8 L142.4,169.2 L148.7,147.5 L150.8,141.1 L153.0,135.2 L155.1,129.8 L157.2,124.8 L159.3,120.4 L161.4,116.4 L163.6,113.0 L165.7,110.2 L167.8,107.9 L169.9,106.3 L172.1,105.4 L174.2,105.3 L176.1,106.5 L178.0,108.9 L180.0,112.6 L181.9,117.4 L183.8,123.0 L185.8,129.0 L187.7,135.2 L189.6,141.2 L191.6,146.9 L193.5,152.0 L195.4,156.5 L197.4,160.5 L199.3,164.2 L201.2,167.5 L203.1,170.6 L205.1,173.6 L207.0,176.5 L208.9,179.5 L210.9,182.3 L212.8,185.1 L214.7,187.7 L216.7,190.0 L218.6,192.2 L220.5,194.1 L224.4,197.4 L228.3,200.7 L232.1,204.3 L236.0,208.2 L239.8,212.4 L243.7,216.7 L256.9,231.3 L270.2,245.6 L283.4,259.5 L296.6,272.8 L309.9,285.6 L323.1,297.7 L336.3,309.1 L349.6,319.6" fill="none" stroke="#0072BD" stroke-width="1.1" stroke-linejoin="round"/>
<path d="M123.3,256.8 L129.7,224.1 L136.2,194.9 L142.6,169.4 L149.1,147.7 L151.2,141.3 L153.4,135.4 L155.5,130.0 L157.7,125.1 L159.8,120.6 L162.0,116.7 L164.2,113.3 L166.3,110.5 L168.5,108.2 L170.6,106.6 L172.8,105.7 L174.9,105.7 L176.8,106.7 L178.8,108.6 L180.7,111.4 L182.6,115.2 L184.5,119.7 L186.5,124.8 L188.4,130.2 L190.3,135.7 L192.2,141.1 L194.1,146.2 L196.1,151.0 L198.0,155.3 L199.9,159.3 L201.8,163.1 L203.8,166.5 L205.7,169.8 L207.6,173.0 L209.5,176.2 L211.5,179.2 L213.4,182.0 L215.3,184.7 L217.2,187.1 L219.2,189.3 L221.1,191.3 L224.9,194.7 L228.8,198.0 L232.6,201.7 L236.5,205.7 L240.3,210.0 L244.2,214.4 L257.5,229.4 L270.8,244.1 L284.1,258.4 L297.3,272.2 L310.6,285.4 L323.9,297.8 L337.2,309.6 L350.5,320.5" fill="none" stroke="#D95319" stroke-width="1.1" stroke-linejoin="round"/>
<path d="M123.3,256.8 L129.6,222.8 L136.0,192.9 L142.4,167.2 L148.8,145.9 L150.9,139.7 L153.0,134.1 L155.1,128.9 L157.3,124.3 L159.4,120.2 L161.5,116.7 L163.6,113.7 L165.8,111.2 L167.9,109.4 L170.0,108.1 L172.1,107.5 L174.3,107.7 L176.2,108.7 L178.1,110.9 L180.0,114.3 L181.9,118.6 L183.9,123.6 L185.8,129.1 L187.7,134.6 L189.6,140.0 L191.6,145.0 L193.5,149.5 L195.4,153.6 L197.3,157.2 L199.3,160.6 L201.2,163.8 L203.1,166.9 L205.0,169.9 L206.9,172.9 L208.9,175.7 L210.8,178.5 L212.7,181.0 L214.6,183.3 L216.6,185.4 L218.5,187.3 L220.4,189.0 L224.2,192.3 L228.1,195.9 L231.9,199.9 L235.8,204.1 L239.6,208.5 L243.5,212.9 L256.9,228.2 L270.3,243.1 L283.8,257.6 L297.2,271.6 L310.7,285.0 L324.1,297.7 L337.5,309.6 L351.0,320.6" fill="none" stroke="#4DBEEE" stroke-width="1.1" stroke-linejoin="round"/>
<path d="M123.3,256.8 L129.6,224.1 L136.0,194.9 L142.4,169.3 L148.7,147.6 L150.9,141.2 L153.0,135.3 L155.1,129.9 L157.2,125.0 L159.3,120.5 L161.5,116.6 L163.6,113.2 L165.7,110.3 L167.8,108.1 L170.0,106.5 L172.1,105.6 L174.2,105.5 L176.1,106.7 L178.1,109.1 L180.0,112.9 L181.9,117.7 L183.8,123.4 L185.8,129.5 L187.7,135.8 L189.6,141.9 L191.5,147.6 L193.5,152.8 L195.4,157.4 L197.3,161.5 L199.2,165.2 L201.2,168.6 L203.1,171.7 L205.0,174.8 L206.9,177.7 L208.9,180.7 L210.8,183.5 L212.7,186.3 L214.6,188.9 L216.6,191.2 L218.5,193.3 L220.4,195.2 L224.3,198.6 L228.1,201.8 L232.0,205.4 L235.8,209.3 L239.7,213.5 L243.5,217.8 L256.7,232.3 L269.8,246.5 L282.9,260.2 L296.1,273.5 L309.2,286.1 L322.4,298.1 L335.5,309.4 L348.6,319.8" fill="none" stroke="#0072BD" stroke-width="1.1" stroke-linejoin="round"/>
<path d="M123.3,256.8 L129.6,224.3 L136.0,195.2 L142.3,169.8 L148.6,148.2 L150.8,141.9 L152.9,136.1 L155.0,130.7 L157.1,125.8 L159.2,121.3 L161.3,117.4 L163.5,114.0 L165.6,111.2 L167.7,109.0 L169.8,107.4 L171.9,106.5 L174.0,106.5 L175.9,107.5 L177.9,109.8 L179.8,113.1 L181.7,117.5 L183.6,122.7 L185.5,128.4 L187.4,134.2 L189.3,139.9 L191.3,145.3 L193.2,150.3 L195.1,154.7 L197.0,158.7 L198.9,162.4 L200.8,165.7 L202.7,168.8 L204.6,171.9 L206.6,174.9 L208.5,177.8 L210.4,180.8 L212.3,183.5 L214.2,186.2 L216.1,188.5 L218.0,190.7 L219.9,192.6 L223.8,195.9 L227.6,199.3 L231.4,202.9 L235.2,207.0 L239.1,211.2 L242.9,215.6 L256.1,230.5 L269.3,245.1 L282.6,259.3 L295.8,272.9 L309.0,286.0 L322.2,298.4 L335.4,310.0 L348.7,320.7" fill="none" stroke="#77AC30" stroke-width="1.1" stroke-linejoin="round"/>
<path d="M123.3,256.8 L129.6,224.3 L135.8,195.2 L142.1,169.8 L148.4,148.2 L150.5,141.9 L152.6,136.0 L154.7,130.7 L156.8,125.7 L158.9,121.3 L161.0,117.4 L163.1,114.0 L165.2,111.2 L167.3,109.0 L169.4,107.4 L171.5,106.5 L173.6,106.4 L175.5,107.5 L177.4,109.8 L179.3,113.1 L181.2,117.5 L183.1,122.7 L185.1,128.3 L187.0,134.1 L188.9,139.8 L190.8,145.2 L192.7,150.1 L194.6,154.5 L196.5,158.4 L198.4,162.0 L200.3,165.3 L202.2,168.4 L204.1,171.4 L206.0,174.4 L207.9,177.4 L209.8,180.3 L211.7,183.1 L213.6,185.7 L215.6,188.1 L217.5,190.2 L219.4,192.1 L223.2,195.5 L227.0,198.8 L230.8,202.5 L234.6,206.6 L238.4,210.8 L242.2,215.2 L255.5,230.2 L268.7,244.9 L281.9,259.2 L295.1,272.9 L308.3,286.1 L321.5,298.5 L334.7,310.2 L347.9,321.0" fill="none" stroke="#77AC30" stroke-width="1.1" stroke-linejoin="round"/>
<path d="M123.3,256.8 L129.5,224.3 L135.8,195.2 L142.0,169.8 L148.3,148.2 L150.4,141.9 L152.4,136.0 L154.5,130.6 L156.6,125.7 L158.7,121.3 L160.8,117.4 L162.9,114.0 L164.9,111.2 L167.0,108.9 L169.1,107.3 L171.2,106.4 L173.3,106.4 L175.2,107.5 L177.1,109.7 L179.0,113.1 L180.9,117.5 L182.8,122.6 L184.7,128.2 L186.6,134.0 L188.5,139.7 L190.4,145.1 L192.3,150.0 L194.2,154.4 L196.1,158.3 L198.0,161.9 L199.9,165.2 L201.8,168.3 L203.7,171.3 L205.6,174.3 L207.5,177.3 L209.4,180.2 L211.3,183.0 L213.2,185.7 L215.1,188.0 L217.0,190.2 L218.9,192.1 L222.7,195.4 L226.5,198.8 L230.3,202.5 L234.1,206.5 L237.9,210.8 L241.7,215.2 L254.9,230.3 L268.0,245.0 L281.2,259.3 L294.4,273.1 L307.6,286.3 L320.7,298.7 L333.9,310.4 L347.1,321.3" fill="none" stroke="#77AC30" stroke-width="1.1" stroke-linejoin="round"/>
<path d="M123.3,256.8 L129.6,222.7 L136.0,192.7 L142.3,166.9 L148.7,145.5 L150.8,139.3 L152.9,133.7 L155.0,128.5 L157.2,123.9 L159.3,119.8 L161.4,116.3 L163.5,113.3 L165.6,110.8 L167.8,109.0 L169.9,107.7 L172.0,107.1 L174.1,107.3 L176.0,108.5 L177.9,111.0 L179.8,114.7 L181.7,119.6 L183.6,125.2 L185.5,131.1 L187.4,137.0 L189.3,142.5 L191.2,147.6 L193.1,152.1 L195.0,156.0 L196.9,159.6 L198.8,162.8 L200.7,165.9 L202.6,169.0 L204.5,172.0 L206.4,174.9 L208.3,177.8 L210.2,180.6 L212.1,183.1 L214.0,185.4 L215.9,187.5 L217.8,189.3 L219.7,191.0 L223.5,194.4 L227.3,198.0 L231.1,202.0 L234.9,206.4 L238.7,210.8 L242.5,215.2 L255.5,230.3 L268.5,244.9 L281.5,259.2 L294.5,272.9 L307.5,286.1 L320.5,298.6 L333.5,310.3 L346.5,321.1" fill="none" stroke="#D95319" stroke-width="1.1" stroke-linejoin="round"/>
<path d="M123.3,256.8 L129.5,224.2 L135.7,195.2 L141.9,169.7 L148.1,148.1 L150.2,141.8 L152.3,135.9 L154.3,130.5 L156.4,125.6 L158.5,121.1 L160.5,117.2 L162.6,113.8 L164.7,111.0 L166.8,108.8 L168.8,107.2 L170.9,106.3 L173.0,106.2 L174.9,107.2 L176.8,109.3 L178.7,112.4 L180.6,116.4 L182.5,121.3 L184.4,126.6 L186.3,132.3 L188.2,138.0 L190.1,143.5 L192.0,148.8 L193.9,153.6 L195.7,157.9 L197.6,161.9 L199.5,165.6 L201.4,169.0 L203.3,172.3 L205.2,175.5 L207.1,178.6 L209.0,181.6 L210.9,184.4 L212.8,187.1 L214.7,189.4 L216.6,191.6 L218.5,193.5 L222.3,196.8 L226.1,200.1 L229.9,203.8 L233.7,207.8 L237.5,212.1 L241.3,216.4 L254.4,231.3 L267.5,245.9 L280.6,260.0 L293.7,273.6 L306.7,286.5 L319.8,298.8 L332.9,310.4 L346.0,321.0" fill="none" stroke="#A2142F" stroke-width="1.1" stroke-linejoin="round"/>
<path d="M123.3,256.8 L129.6,224.2 L135.9,195.2 L142.2,169.8 L148.5,148.1 L150.6,141.8 L152.7,136.0 L154.8,130.6 L156.9,125.6 L159.0,121.2 L161.1,117.3 L163.2,113.9 L165.4,111.1 L167.5,108.9 L169.6,107.3 L171.7,106.4 L173.8,106.4 L175.7,107.4 L177.6,109.3 L179.5,112.1 L181.4,115.9 L183.3,120.5 L185.2,125.5 L187.1,131.0 L189.0,136.4 L190.8,141.8 L192.7,146.8 L194.6,151.5 L196.5,155.9 L198.4,159.8 L200.3,163.5 L202.2,166.9 L204.1,170.2 L206.0,173.4 L207.9,176.5 L209.8,179.6 L211.7,182.5 L213.6,185.2 L215.5,187.6 L217.4,189.8 L219.3,191.7 L223.1,195.1 L226.9,198.5 L230.7,202.3 L234.5,206.4 L238.3,210.8 L242.1,215.2 L255.0,230.2 L267.9,244.9 L280.8,259.1 L293.7,272.8 L306.6,285.9 L319.5,298.4 L332.4,310.1 L345.3,320.9" fill="none" stroke="#7E2F8E" stroke-width="1.1" stroke-linejoin="round"/>
<path d="M123.3,256.8 L129.6,224.2 L135.9,195.2 L142.2,169.8 L148.5,148.2 L150.6,141.8 L152.6,136.0 L154.7,130.6 L156.8,125.7 L158.9,121.2 L161.0,117.3 L163.1,114.0 L165.2,111.1 L167.3,108.9 L169.4,107.3 L171.5,106.4 L173.6,106.4 L175.5,107.4 L177.4,109.3 L179.3,112.2 L181.2,116.1 L183.1,120.7 L185.0,125.8 L186.9,131.3 L188.8,136.8 L190.7,142.2 L192.6,147.2 L194.4,151.9 L196.3,156.2 L198.2,160.2 L200.1,163.8 L202.0,167.2 L203.9,170.5 L205.8,173.7 L207.7,176.9 L209.6,179.9 L211.5,182.8 L213.4,185.5 L215.2,187.9 L217.1,190.1 L219.0,192.0 L222.8,195.4 L226.6,198.8 L230.4,202.6 L234.2,206.8 L237.9,211.1 L241.7,215.6 L254.6,230.6 L267.4,245.2 L280.3,259.4 L293.2,273.1 L306.0,286.2 L318.9,298.7 L331.7,310.3 L344.6,321.2" fill="none" stroke="#7E2F8E" stroke-width="1.1" stroke-linejoin="round"/>
<path d="M123.3,256.8 L129.5,224.4 L135.7,195.5 L141.9,170.2 L148.1,148.7 L150.2,142.4 L152.3,136.6 L154.3,131.2 L156.4,126.3 L158.5,121.9 L160.5,118.0 L162.6,114.7 L164.7,111.9 L166.7,109.7 L168.8,108.1 L170.9,107.2 L173.0,107.2 L174.8,108.2 L176.7,110.4 L178.6,113.7 L180.5,118.1 L182.4,123.1 L184.2,128.7 L186.1,134.4 L188.0,139.9 L189.9,145.2 L191.8,150.0 L193.6,154.3 L195.5,158.2 L197.4,161.7 L199.3,165.0 L201.2,168.1 L203.0,171.1 L204.9,174.1 L206.8,177.1 L208.7,180.0 L210.6,182.9 L212.4,185.5 L214.3,187.9 L216.2,190.0 L218.1,191.9 L221.8,195.3 L225.6,198.6 L229.4,202.4 L233.1,206.5 L236.9,210.9 L240.6,215.3 L253.7,230.5 L266.7,245.3 L279.7,259.8 L292.8,273.6 L305.8,286.9 L318.8,299.5 L331.9,311.2 L344.9,322.1" fill="none" stroke="#4DBEEE" stroke-width="1.1" stroke-linejoin="round"/>
<path d="M123.3,256.8 L129.5,224.4 L135.8,195.5 L142.0,170.2 L148.3,148.7 L150.4,142.4 L152.4,136.6 L154.5,131.2 L156.6,126.4 L158.7,122.0 L160.8,118.1 L162.9,114.7 L164.9,111.9 L167.0,109.7 L169.1,108.1 L171.2,107.3 L173.3,107.3 L175.2,108.5 L177.0,111.2 L178.9,115.4 L180.8,120.7 L182.7,126.7 L184.6,133.0 L186.4,139.3 L188.3,145.1 L190.2,150.4 L192.1,155.0 L194.0,159.0 L195.8,162.5 L197.7,165.7 L199.6,168.7 L201.5,171.5 L203.4,174.4 L205.2,177.3 L207.1,180.2 L209.0,183.1 L210.9,185.8 L212.7,188.4 L214.6,190.8 L216.5,192.8 L218.4,194.7 L222.1,198.0 L225.9,201.3 L229.7,205.0 L233.4,209.1 L237.2,213.4 L240.9,217.7 L253.9,232.6 L266.9,247.1 L279.8,261.2 L292.8,274.8 L305.7,287.7 L318.7,300.0 L331.7,311.4 L344.6,322.1" fill="none" stroke="#77AC30" stroke-width="1.1" stroke-linejoin="round"/>
<path d="M123.3,256.8 L129.6,222.9 L135.9,193.2 L142.2,167.6 L148.5,146.3 L150.6,140.2 L152.7,134.6 L154.8,129.5 L156.9,124.9 L159.0,120.9 L161.1,117.4 L163.3,114.4 L165.4,112.0 L167.5,110.1 L169.6,108.9 L171.7,108.4 L173.8,108.5 L175.7,109.7 L177.5,112.1 L179.4,115.9 L181.3,120.7 L183.2,126.2 L185.1,132.0 L186.9,137.8 L188.8,143.3 L190.7,148.3 L192.6,152.7 L194.4,156.6 L196.3,160.1 L198.2,163.3 L200.1,166.4 L202.0,169.5 L203.8,172.5 L205.7,175.5 L207.6,178.4 L209.5,181.2 L211.4,183.7 L213.2,186.0 L215.1,188.1 L217.0,189.9 L218.9,191.6 L222.6,195.0 L226.4,198.7 L230.2,202.8 L233.9,207.2 L237.7,211.6 L241.4,216.1 L254.2,231.1 L266.9,245.8 L279.7,260.0 L292.4,273.7 L305.1,286.8 L317.9,299.2 L330.6,310.9 L343.3,321.7" fill="none" stroke="#0072BD" stroke-width="1.1" stroke-linejoin="round"/>
<path d="M123.3,256.8 L129.4,224.2 L135.5,195.1 L141.7,169.6 L147.8,147.9 L149.9,141.6 L151.9,135.7 L154.0,130.3 L156.0,125.4 L158.1,121.0 L160.1,117.0 L162.2,113.7 L164.2,110.8 L166.2,108.6 L168.3,107.0 L170.3,106.1 L172.4,106.1 L174.3,107.2 L176.1,109.6 L178.0,113.3 L179.9,118.0 L181.8,123.5 L183.6,129.4 L185.5,135.3 L187.4,141.1 L189.3,146.4 L191.1,151.2 L193.0,155.5 L194.9,159.3 L196.8,162.7 L198.6,165.8 L200.5,168.9 L202.4,171.8 L204.3,174.8 L206.2,177.8 L208.0,180.7 L209.9,183.5 L211.8,186.1 L213.7,188.5 L215.5,190.6 L217.4,192.5 L221.2,195.8 L224.9,199.2 L228.7,202.9 L232.4,207.1 L236.2,211.4 L239.9,215.8 L252.9,230.9 L265.9,245.7 L278.9,260.1 L291.9,273.9 L304.9,287.1 L318.0,299.6 L331.0,311.3 L344.0,322.2" fill="none" stroke="#A2142F" stroke-width="1.1" stroke-linejoin="round"/>
<path d="M123.3,256.8 L129.5,224.4 L135.7,195.5 L141.8,170.2 L148.0,148.7 L150.1,142.4 L152.2,136.6 L154.2,131.2 L156.3,126.3 L158.4,121.9 L160.4,118.1 L162.5,114.7 L164.6,111.9 L166.6,109.7 L168.7,108.1 L170.8,107.2 L172.8,107.2 L174.7,108.5 L176.6,111.3 L178.4,115.6 L180.3,121.0 L182.2,127.1 L184.1,133.6 L185.9,139.8 L187.8,145.7 L189.7,150.9 L191.6,155.4 L193.4,159.4 L195.3,162.8 L197.2,165.9 L199.0,168.8 L200.9,171.7 L202.8,174.5 L204.7,177.4 L206.5,180.2 L208.4,183.1 L210.3,185.9 L212.2,188.5 L214.0,190.8 L215.9,192.9 L217.8,194.7 L221.5,198.0 L225.3,201.3 L229.0,205.0 L232.8,209.1 L236.5,213.3 L240.2,217.7 L253.2,232.6 L266.2,247.2 L279.2,261.4 L292.2,275.0 L305.2,288.0 L318.2,300.3 L331.2,311.8 L344.2,322.5" fill="none" stroke="#77AC30" stroke-width="1.1" stroke-linejoin="round"/>
<path d="M123.3,256.8 L129.3,223.0 L135.4,193.2 L141.5,167.7 L147.5,146.4 L149.6,140.3 L151.6,134.7 L153.6,129.7 L155.6,125.1 L157.6,121.0 L159.7,117.5 L161.7,114.5 L163.7,112.1 L165.7,110.3 L167.8,109.1 L169.8,108.5 L171.8,108.7 L173.6,110.0 L175.5,112.7 L177.3,116.8 L179.2,122.1 L181.0,128.0 L182.9,134.3 L184.7,140.3 L186.5,145.9 L188.4,150.9 L190.2,155.2 L192.1,159.1 L193.9,162.5 L195.7,165.6 L197.6,168.7 L199.4,171.7 L201.3,174.7 L203.1,177.7 L205.0,180.6 L206.8,183.4 L208.6,185.9 L210.5,188.1 L212.3,190.1 L214.2,191.9 L216.0,193.5 L219.7,196.9 L223.4,200.6 L227.0,204.8 L230.7,209.1 L234.4,213.6 L238.1,218.1 L250.6,233.1 L263.1,247.7 L275.6,261.8 L288.2,275.5 L300.7,288.5 L313.2,300.8 L325.7,312.4 L338.2,323.1" fill="none" stroke="#77AC30" stroke-width="1.1" stroke-linejoin="round"/>
<path d="M123.3,256.8 L129.3,223.3 L135.3,193.8 L141.3,168.5 L147.3,147.4 L149.3,141.4 L151.3,135.9 L153.3,130.8 L155.3,126.3 L157.3,122.3 L159.3,118.8 L161.3,115.9 L163.3,113.6 L165.3,111.8 L167.3,110.6 L169.3,110.1 L171.3,110.3 L173.1,111.7 L174.9,114.7 L176.7,119.3 L178.5,125.1 L180.3,131.6 L182.1,138.2 L183.9,144.5 L185.7,150.3 L187.5,155.3 L189.3,159.6 L191.1,163.3 L192.9,166.6 L194.7,169.7 L196.5,172.7 L198.3,175.7 L200.1,178.7 L201.9,181.7 L203.7,184.6 L205.5,187.3 L207.3,189.8 L209.1,191.9 L210.9,193.8 L212.7,195.5 L214.5,197.1 L218.1,200.4 L221.7,204.2 L225.3,208.3 L228.9,212.7 L232.5,217.1 L236.1,221.5 L248.4,236.4 L260.7,250.9 L273.0,264.9 L285.3,278.4 L297.6,291.2 L309.9,303.4 L322.2,314.7 L334.5,325.2" fill="none" stroke="#7E2F8E" stroke-width="1.1" stroke-linejoin="round"/>
<path d="M123.3,256.8 L129.2,223.3 L135.2,193.8 L141.2,168.5 L147.2,147.4 L149.2,141.4 L151.2,135.9 L153.2,130.8 L155.2,126.3 L157.2,122.3 L159.2,118.8 L161.2,115.9 L163.2,113.6 L165.1,111.8 L167.1,110.6 L169.1,110.1 L171.1,110.3 L172.9,111.6 L174.7,114.3 L176.5,118.5 L178.3,123.7 L180.1,129.7 L181.9,135.9 L183.7,141.9 L185.5,147.5 L187.3,152.4 L189.1,156.7 L190.9,160.5 L192.7,163.8 L194.4,167.0 L196.2,170.0 L198.0,173.1 L199.8,176.1 L201.6,179.2 L203.4,182.1 L205.2,184.9 L207.0,187.4 L208.8,189.6 L210.6,191.5 L212.4,193.2 L214.2,194.9 L217.8,198.3 L221.3,202.1 L224.9,206.3 L228.5,210.8 L232.1,215.3 L235.7,219.8 L247.9,234.9 L260.1,249.6 L272.3,263.9 L284.5,277.6 L296.7,290.6 L308.9,303.0 L321.1,314.6 L333.3,325.3" fill="none" stroke="#0072BD" stroke-width="1.1" stroke-linejoin="round"/>
<path d="M123.3,256.8 L129.2,223.2 L135.1,193.6 L141.0,168.3 L146.9,147.2 L148.8,141.1 L150.8,135.6 L152.8,130.5 L154.7,126.0 L156.7,122.0 L158.7,118.5 L160.6,115.6 L162.6,113.2 L164.6,111.5 L166.5,110.3 L168.5,109.8 L170.5,110.0 L172.2,111.2 L174.0,113.9 L175.8,117.8 L177.6,122.9 L179.3,128.8 L181.1,135.0 L182.9,141.2 L184.6,147.0 L186.4,152.3 L188.2,157.0 L190.0,161.1 L191.7,164.8 L193.5,168.3 L195.3,171.5 L197.0,174.7 L198.8,177.8 L200.6,180.9 L202.4,183.9 L204.1,186.7 L205.9,189.2 L207.7,191.3 L209.4,193.2 L211.2,194.9 L213.0,196.6 L216.5,199.9 L220.1,203.8 L223.6,208.1 L227.1,212.5 L230.7,217.0 L234.2,221.5 L246.2,236.5 L258.2,251.1 L270.2,265.3 L282.3,278.8 L294.3,291.8 L306.3,304.0 L318.3,315.5 L330.3,326.1" fill="none" stroke="#77AC30" stroke-width="1.1" stroke-linejoin="round"/>
<path d="M123.3,256.8 L128.6,223.5 L134.0,194.3 L139.3,169.3 L144.7,148.4 L146.5,142.5 L148.3,137.0 L150.0,132.0 L151.8,127.6 L153.6,123.6 L155.4,120.2 L157.2,117.3 L159.0,115.0 L160.8,113.3 L162.5,112.1 L164.3,111.7 L166.1,111.9 L167.8,113.3 L169.4,116.2 L171.1,120.5 L172.7,126.1 L174.4,132.3 L176.0,138.7 L177.7,144.8 L179.4,150.5 L181.0,155.5 L182.6,159.8 L184.3,163.6 L185.9,167.1 L187.4,170.3 L189.0,173.4 L190.6,176.6 L192.2,179.8 L193.7,183.0 L195.3,186.1 L196.9,188.9 L198.5,191.3 L200.1,193.3 L201.7,195.1 L203.4,196.7 L205.0,198.3 L208.3,201.8 L211.6,205.9 L215.0,210.4 L218.3,215.0 L221.6,219.6 L224.9,224.1 L236.4,239.6 L247.8,254.7 L259.3,269.3 L270.8,283.2 L282.2,296.5 L293.7,309.0 L305.2,320.6 L316.6,331.4" fill="none" stroke="#8B36A6" stroke-width="0.82" stroke-linejoin="round"/>
<path d="M123.3,256.8 L128.6,223.5 L134.0,194.3 L139.3,169.3 L144.7,148.4 L146.5,142.5 L148.3,137.0 L150.0,132.0 L151.8,127.6 L153.6,123.6 L155.4,120.2 L157.2,117.3 L159.0,115.0 L160.8,113.3 L162.5,112.1 L164.3,111.7 L166.1,111.9 L167.8,113.3 L169.4,116.2 L171.1,120.5 L172.7,126.1 L174.4,132.3 L176.0,138.7 L177.7,144.8 L179.4,150.5 L181.0,155.5 L182.7,159.8 L184.3,163.6 L186.0,167.0 L187.6,170.2 L189.3,173.3 L191.0,176.5 L192.6,179.7 L194.3,182.8 L195.9,185.9 L197.6,188.6 L199.2,191.0 L200.9,193.0 L202.5,194.8 L204.2,196.4 L205.9,198.0 L209.2,201.5 L212.5,205.6 L215.8,210.1 L219.1,214.7 L222.4,219.3 L225.7,223.8 L237.2,239.3 L248.7,254.4 L260.1,269.0 L271.6,282.9 L283.1,296.2 L294.5,308.7 L306.0,320.3 L317.5,331.1" fill="none" stroke="#8B36A6" stroke-width="0.82" stroke-linejoin="round"/>
<path d="M123.3,256.8 L128.6,223.5 L134.0,194.3 L139.3,169.3 L144.7,148.4 L146.5,142.5 L148.3,137.0 L150.0,132.0 L151.8,127.6 L153.6,123.6 L155.4,120.2 L157.2,117.3 L159.0,115.0 L160.8,113.3 L162.5,112.1 L164.3,111.7 L166.1,111.9 L167.8,113.3 L169.4,116.2 L171.1,120.5 L172.7,126.1 L174.4,132.3 L176.0,138.7 L177.7,144.8 L179.4,150.5 L181.0,155.5 L182.7,159.8 L184.4,163.6 L186.1,167.0 L187.8,170.1 L189.6,173.2 L191.3,176.4 L193.1,179.5 L194.8,182.7 L196.5,185.6 L198.3,188.4 L200.0,190.7 L201.7,192.8 L203.4,194.5 L205.0,196.1 L206.7,197.7 L210.0,201.2 L213.3,205.3 L216.6,209.8 L220.0,214.4 L223.3,219.0 L226.6,223.5 L238.0,239.0 L249.5,254.1 L261.0,268.7 L272.5,282.6 L283.9,295.9 L295.4,308.4 L306.9,320.0 L318.3,330.8" fill="none" stroke="#8B36A6" stroke-width="0.82" stroke-linejoin="round"/>
<path d="M82.0,271.4 L82.0,90.6 M82.0,271.4 L288.1,344.8 M288.1,344.8 L494.4,271.8 M82.0,271.4 L76.5,269.5 M82.0,211.1 L76.5,209.2 M82.0,150.9 L76.5,148.9 M82.0,90.6 L76.5,88.7 M82.0,271.4 L76.5,273.3 M149.7,295.5 L144.3,297.5 M217.5,319.6 L212.0,321.6 M285.2,343.8 L279.7,345.7 M288.1,344.8 L293.6,346.7 M329.4,330.2 L334.8,332.1 M370.6,315.6 L376.1,317.5 M411.9,301.0 L417.3,302.9 M453.1,286.4 L458.6,288.3 M494.4,271.8 L499.9,273.7" fill="none" stroke="#262626" stroke-width="0.85"/>
<g font-family="Liberation Sans, Arial, Helvetica, sans-serif"><text x="71.9" y="273.3" font-size="12.5" text-anchor="end" fill="#262626" >0</text>
<text x="71.9" y="213.1" font-size="12.5" text-anchor="end" fill="#262626" >5,000</text>
<text x="71.9" y="152.8" font-size="12.5" text-anchor="end" fill="#262626" >10,000</text>
<text x="71.9" y="92.5" font-size="12.5" text-anchor="end" fill="#262626" >15,000</text>
<text x="71.5" y="288.0" font-size="12.5" text-anchor="end" fill="#262626" >0</text>
<text x="139.3" y="312.1" font-size="12.5" text-anchor="end" fill="#262626" >2</text>
<text x="207.0" y="336.3" font-size="12.5" text-anchor="end" fill="#262626" >4</text>
<text x="274.7" y="360.4" font-size="12.5" text-anchor="end" fill="#262626" >6</text>
<text x="298.2" y="362.2" font-size="12.5" text-anchor="start" fill="#262626" >-1,000</text>
<text x="339.4" y="347.6" font-size="12.5" text-anchor="start" fill="#262626" >0</text>
<text x="380.7" y="333.0" font-size="12.5" text-anchor="start" fill="#262626" >1,000</text>
<text x="421.9" y="318.4" font-size="12.5" text-anchor="start" fill="#262626" >2,000</text>
<text x="463.2" y="303.8" font-size="12.5" text-anchor="start" fill="#262626" >3,000</text>
<text x="504.5" y="289.2" font-size="12.5" text-anchor="start" fill="#262626" >4,000</text>
<text x="80.8" y="329.6" font-size="15.5" text-anchor="middle" fill="#4a4a4a">×</text>
<text x="86.6" y="327.8" font-size="12.5" fill="#262626">10</text>
<text x="100.3" y="321.9" font-size="10.2" fill="#262626">4</text>
<text transform="translate(25.6,181) rotate(-90)" font-size="14" text-anchor="middle" fill="#262626">Altitude(m)</text>
<text transform="translate(164.5,339.6) rotate(19.60)" font-size="14" text-anchor="middle" fill="#262626">Range(m)</text>
<text transform="translate(430.0,338.9) rotate(-19.49)" font-size="14" text-anchor="middle" fill="#262626">Drift(m)</text></g>
</svg>
</body></html>
